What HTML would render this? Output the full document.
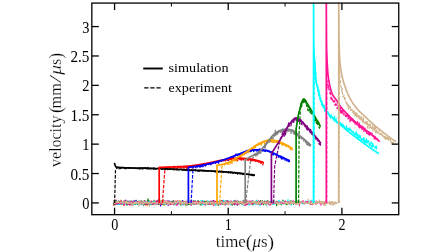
<!DOCTYPE html>
<html><head><meta charset="utf-8"><style>
html,body{margin:0;padding:0;background:#fff;overflow:hidden}
svg{display:block}
text{font-family:"Liberation Serif","DejaVu Serif",serif;fill:#000}
.al{stroke:#fff;stroke-width:0.2px}
</style></head><body>
<svg width="448" height="252" viewBox="0 0 448 252">
<rect width="448" height="252" fill="#fff"/>
<defs><clipPath id="ax"><rect x="91.83" y="3.07" width="306.91" height="211.61"/></clipPath></defs>
<g clip-path="url(#ax)">
<polyline points="113.6,200.7 113.9,205.3 114.2,202.3 114.5,203.3 114.8,203.2 115.1,202.9 115.3,204.7 115.6,203.0 115.9,203.6 116.2,199.4 116.5,202.5 116.8,203.1 117.0,203.0 117.3,203.4 117.6,203.8 117.9,203.1 118.2,202.2 118.5,203.0 118.8,201.8 119.0,202.9 119.3,202.7 119.6,201.2 119.9,202.2 120.2,203.2 120.5,202.9 120.7,202.2 121.0,200.8 121.3,203.0 121.6,203.0 121.9,201.7 122.2,203.6 122.5,203.0 122.7,201.8 123.0,202.1 123.3,202.6 123.6,202.1 123.9,205.5 124.2,201.7 124.4,203.7 124.7,204.4 125.0,202.4 125.3,202.0 125.6,203.2 125.9,203.8 126.1,202.7 126.4,202.8 126.7,201.3 127.0,202.0 127.3,202.5 127.6,201.6 127.9,202.9 128.1,203.6 128.4,202.1 128.7,202.1 129.0,202.9 129.3,203.5 129.6,202.5 129.8,205.2 130.1,202.0 130.4,202.2 130.7,204.4 131.0,202.7 131.3,203.7 131.6,202.0 131.8,204.8 132.1,203.6 132.4,202.0 132.7,201.6 133.0,204.9 133.3,203.2 133.5,202.4 133.8,203.3 134.1,201.1 134.4,203.9 134.7,202.4 135.0,203.8 135.3,201.3 135.5,202.7 135.8,203.1 136.1,204.4 136.4,201.0 136.7,202.0 137.0,202.0 137.2,201.6 137.5,202.4 137.8,203.4 138.1,203.5 138.4,203.5 138.7,201.4 139.0,204.2 139.2,203.3 139.5,203.0 139.8,202.5 140.1,202.2 140.4,204.0 140.7,204.4 140.9,202.7 141.2,201.5 141.5,202.0 141.8,202.5 142.1,203.0 142.4,202.4 142.7,203.0 142.9,201.9 143.2,203.5 143.5,202.6 143.8,202.8 144.1,202.2 144.4,202.5 144.6,200.2 144.9,201.2 145.2,201.2 145.5,204.8 145.8,203.1 146.1,203.3 146.3,202.2 146.6,205.0 146.9,201.6 147.2,201.7 147.5,204.0 147.8,203.7 148.1,203.5 148.3,202.7 148.6,202.1 148.9,200.7 149.2,202.9 149.5,202.0 149.8,202.6 150.0,201.0 150.3,202.0 150.6,201.4 150.9,203.8 151.2,202.9 151.5,203.5 151.8,201.2 152.0,202.1 152.3,203.0 152.6,203.2 152.9,202.2 153.2,203.4 153.5,203.7 153.7,202.2 154.0,200.3 154.3,203.0 154.6,203.3 154.9,203.9 155.2,204.1 155.5,202.2 155.7,201.9 156.0,202.7 156.3,202.4 156.6,202.6 156.9,202.6 157.2,204.2 157.4,203.2 157.7,202.6 158.0,203.5 158.3,203.2 158.6,203.5 158.9,203.1 159.2,201.9 159.4,203.1 159.7,202.9 160.0,201.9 160.3,202.1 160.6,201.0 160.9,204.8 161.1,201.9 161.4,203.2 161.7,202.6 162.0,201.9 162.3,201.6" fill="none" stroke="#ff0000" stroke-width="1.2" stroke-dasharray="2.4,1.4" stroke-linejoin="round"/>
<polyline points="113.6,201.7 113.9,202.6 114.2,201.1 114.5,203.0 114.8,202.9 115.1,201.9 115.3,203.3 115.6,200.6 115.9,201.7 116.2,200.6 116.5,202.8 116.8,203.1 117.0,202.6 117.3,202.0 117.6,203.3 117.9,202.3 118.2,202.7 118.5,201.1 118.8,203.4 119.0,201.7 119.3,203.4 119.6,203.7 119.9,203.4 120.2,203.9 120.5,202.6 120.7,201.7 121.0,202.6 121.3,202.1 121.6,201.1 121.9,202.5 122.2,202.5 122.5,203.0 122.7,204.3 123.0,202.0 123.3,204.5 123.6,202.1 123.9,202.7 124.2,201.6 124.4,202.8 124.7,203.5 125.0,202.4 125.3,203.3 125.6,202.9 125.9,202.7 126.1,202.9 126.4,202.9 126.7,203.6 127.0,202.9 127.3,204.9 127.6,202.9 127.9,203.9 128.1,201.6 128.4,201.5 128.7,204.7 129.0,202.6 129.3,202.9 129.6,203.8 129.8,202.2 130.1,203.2 130.4,204.5 130.7,203.0 131.0,202.9 131.3,202.6 131.6,204.0 131.8,202.1 132.1,202.0 132.4,203.9 132.7,203.4 133.0,202.8 133.3,203.3 133.5,201.0 133.8,202.5 134.1,203.7 134.4,203.5 134.7,202.8 135.0,200.4 135.3,202.9 135.5,202.6 135.8,202.2 136.1,202.8 136.4,200.4 136.7,203.3 137.0,202.0 137.2,202.6 137.5,202.1 137.8,203.9 138.1,201.0 138.4,202.8 138.7,202.7 139.0,203.7 139.2,203.5 139.5,202.2 139.8,201.7 140.1,202.0 140.4,201.5 140.7,202.0 140.9,202.7 141.2,201.9 141.5,202.1 141.8,202.8 142.1,202.0 142.4,201.4 142.7,202.5 142.9,203.1 143.2,202.0 143.5,200.8 143.8,202.9 144.1,202.8 144.4,202.9 144.6,201.5 144.9,204.6 145.2,202.4 145.5,201.5 145.8,203.5 146.1,201.2 146.3,202.2 146.6,203.3 146.9,202.5 147.2,204.3 147.5,203.3 147.8,200.9 148.1,203.6 148.3,200.9 148.6,202.8 148.9,201.7 149.2,202.7 149.5,205.0 149.8,203.3 150.0,202.5 150.3,203.9 150.6,204.1 150.9,202.4 151.2,203.4 151.5,204.4 151.8,203.4 152.0,201.9 152.3,203.2 152.6,201.8 152.9,201.2 153.2,202.7 153.5,203.9 153.7,204.0 154.0,202.8 154.3,201.8 154.6,202.5 154.9,202.2 155.2,203.2 155.5,202.4 155.7,203.2 156.0,203.0 156.3,204.0 156.6,204.3 156.9,203.2 157.2,203.8 157.4,203.7 157.7,202.1 158.0,202.8 158.3,199.8 158.6,201.8 158.9,203.4 159.2,201.9 159.4,202.4 159.7,203.4 160.0,201.6 160.3,203.5 160.6,205.8 160.9,201.9 161.1,203.3 161.4,201.2 161.7,203.4 162.0,203.9 162.3,201.2 162.6,203.8 162.8,202.5 163.1,201.3 163.4,202.6 163.7,202.8 164.0,202.6 164.3,201.9 164.6,203.5 164.8,202.1 165.1,202.1 165.4,200.4 165.7,203.1 166.0,203.6 166.3,202.0 166.5,203.1 166.8,202.4 167.1,202.6 167.4,201.6 167.7,203.4 168.0,202.8 168.3,205.3 168.5,203.6 168.8,201.2 169.1,203.4 169.4,203.4 169.7,203.9 170.0,202.1 170.2,202.5 170.5,203.9 170.8,202.1 171.1,202.5 171.4,202.0 171.7,203.4 172.0,201.0 172.2,202.3 172.5,202.8 172.8,203.2 173.1,203.0 173.4,201.9 173.7,203.0 173.9,201.6 174.2,202.1 174.5,201.4 174.8,201.9 175.1,202.8 175.4,204.6 175.7,202.4 175.9,201.9 176.2,202.6 176.5,202.2 176.8,203.2 177.1,203.1 177.4,203.7 177.6,201.4 177.9,202.6 178.2,203.2 178.5,204.1 178.8,202.9 179.1,201.3 179.4,202.3 179.6,203.4 179.9,201.3 180.2,201.3 180.5,201.7 180.8,201.9 181.1,201.6 181.3,202.2 181.6,202.0 181.9,203.5 182.2,201.2 182.5,202.5 182.8,200.7 183.0,204.8 183.3,202.0 183.6,201.7 183.9,203.1 184.2,202.3 184.5,202.0 184.8,202.1 185.0,203.3 185.3,202.9 185.6,201.7 185.9,201.5 186.2,202.6 186.5,202.6 186.7,202.5 187.0,201.7 187.3,203.8 187.6,204.0 187.9,202.6 188.2,203.8 188.5,203.3 188.7,202.6 189.0,202.2 189.3,203.8 189.6,201.9 189.9,204.5 190.2,202.2 190.4,204.3 190.7,204.0 191.0,202.1" fill="none" stroke="#0000ff" stroke-width="1.2" stroke-dasharray="2.4,1.4" stroke-linejoin="round"/>
<polyline points="113.6,203.1 113.9,203.5 114.2,203.2 114.5,202.3 114.8,202.8 115.1,202.8 115.3,201.7 115.6,203.4 115.9,203.2 116.2,203.2 116.5,201.6 116.8,201.7 117.0,201.4 117.3,202.8 117.6,202.9 117.9,201.9 118.2,203.1 118.5,201.9 118.8,202.0 119.0,203.4 119.3,202.8 119.6,202.8 119.9,201.0 120.2,200.1 120.5,202.8 120.7,202.7 121.0,205.0 121.3,202.5 121.6,202.7 121.9,203.8 122.2,201.9 122.5,204.3 122.7,202.9 123.0,202.6 123.3,204.0 123.6,201.9 123.9,201.7 124.2,204.1 124.4,204.1 124.7,202.1 125.0,202.8 125.3,203.9 125.6,203.0 125.9,202.8 126.1,202.9 126.4,201.9 126.7,202.3 127.0,201.0 127.3,201.4 127.6,202.0 127.9,201.6 128.1,201.4 128.4,202.0 128.7,203.9 129.0,201.9 129.3,202.7 129.6,201.1 129.8,202.6 130.1,202.2 130.4,202.4 130.7,201.0 131.0,202.5 131.3,203.0 131.6,202.4 131.8,203.2 132.1,202.6 132.4,202.7 132.7,202.5 133.0,200.8 133.3,203.1 133.5,202.7 133.8,202.9 134.1,202.1 134.4,203.9 134.7,203.4 135.0,202.8 135.3,202.2 135.5,202.8 135.8,203.2 136.1,203.6 136.4,202.2 136.7,201.3 137.0,202.4 137.2,202.5 137.5,202.3 137.8,203.7 138.1,203.0 138.4,203.0 138.7,202.4 139.0,202.8 139.2,203.9 139.5,201.6 139.8,201.0 140.1,203.0 140.4,202.3 140.7,202.5 140.9,201.9 141.2,204.2 141.5,201.1 141.8,203.2 142.1,201.5 142.4,202.6 142.7,203.1 142.9,202.9 143.2,201.8 143.5,203.6 143.8,203.1 144.1,203.2 144.4,204.4 144.6,201.4 144.9,202.1 145.2,202.7 145.5,201.6 145.8,203.7 146.1,202.8 146.3,201.0 146.6,201.7 146.9,204.9 147.2,206.0 147.5,203.8 147.8,201.7 148.1,203.2 148.3,202.9 148.6,202.1 148.9,203.6 149.2,202.5 149.5,201.9 149.8,202.3 150.0,202.3 150.3,203.3 150.6,202.2 150.9,203.2 151.2,201.4 151.5,200.2 151.8,203.5 152.0,204.9 152.3,203.1 152.6,202.3 152.9,201.7 153.2,201.6 153.5,203.5 153.7,203.5 154.0,201.5 154.3,203.8 154.6,201.6 154.9,203.0 155.2,202.0 155.5,202.0 155.7,201.9 156.0,201.9 156.3,203.7 156.6,202.4 156.9,202.7 157.2,202.4 157.4,201.5 157.7,203.0 158.0,203.4 158.3,203.5 158.6,203.0 158.9,202.0 159.2,203.5 159.4,201.6 159.7,202.4 160.0,202.9 160.3,204.1 160.6,202.5 160.9,202.0 161.1,204.5 161.4,201.5 161.7,201.1 162.0,202.4 162.3,202.2 162.6,200.3 162.8,201.5 163.1,203.6 163.4,202.7 163.7,202.9 164.0,202.9 164.3,205.1 164.6,202.0 164.8,203.4 165.1,202.6 165.4,202.9 165.7,201.9 166.0,203.0 166.3,203.5 166.5,202.2 166.8,201.3 167.1,203.0 167.4,201.4 167.7,202.5 168.0,203.3 168.3,201.2 168.5,203.5 168.8,201.7 169.1,203.2 169.4,202.3 169.7,204.0 170.0,203.6 170.2,201.7 170.5,202.5 170.8,202.7 171.1,203.2 171.4,202.3 171.7,204.1 172.0,203.8 172.2,202.9 172.5,203.6 172.8,203.4 173.1,202.8 173.4,202.9 173.7,202.9 173.9,201.1 174.2,201.7 174.5,201.5 174.8,202.8 175.1,203.2 175.4,204.2 175.7,203.1 175.9,204.8 176.2,203.3 176.5,202.0 176.8,201.1 177.1,201.8 177.4,203.6 177.6,202.2 177.9,203.5 178.2,201.9 178.5,202.8 178.8,201.9 179.1,200.2 179.4,201.8 179.6,200.4 179.9,202.5 180.2,203.1 180.5,201.4 180.8,201.0 181.1,203.3 181.3,202.6 181.6,204.2 181.9,202.9 182.2,201.8 182.5,202.8 182.8,203.3 183.0,204.1 183.3,202.4 183.6,201.9 183.9,202.1 184.2,202.5 184.5,204.0 184.8,201.0 185.0,202.8 185.3,202.9 185.6,202.0 185.9,204.9 186.2,202.8 186.5,202.9 186.7,202.4 187.0,201.4 187.3,202.3 187.6,204.6 187.9,203.1 188.2,202.5 188.5,202.6 188.7,204.0 189.0,204.4 189.3,202.2 189.6,202.4 189.9,202.7 190.2,204.4 190.4,201.0 190.7,205.6 191.0,203.1 191.3,200.6 191.6,202.9 191.9,202.5 192.2,203.9 192.4,201.4 192.7,204.0 193.0,202.5 193.3,202.6 193.6,203.8 193.9,201.8 194.1,204.1 194.4,203.4 194.7,202.8 195.0,203.1 195.3,202.3 195.6,201.8 195.9,203.0 196.1,203.3 196.4,203.2 196.7,203.1 197.0,201.9 197.3,202.9 197.6,202.3 197.8,202.8 198.1,203.6 198.4,201.9 198.7,203.8 199.0,202.7 199.3,201.2 199.6,203.8 199.8,202.8 200.1,204.3 200.4,203.2 200.7,204.2 201.0,203.1 201.3,203.3 201.5,202.6 201.8,201.1 202.1,202.4 202.4,202.1 202.7,202.8 203.0,203.0 203.2,203.6 203.5,204.5 203.8,202.7 204.1,201.1 204.4,202.2 204.7,203.3 205.0,201.1 205.2,203.2 205.5,203.3 205.8,203.9 206.1,203.7 206.4,203.0 206.7,200.7 206.9,202.9 207.2,203.8 207.5,203.3 207.8,202.9 208.1,204.4 208.4,202.6 208.7,202.0 208.9,202.4 209.2,202.1 209.5,204.0 209.8,204.4 210.1,201.4 210.4,201.6 210.6,204.3 210.9,202.5 211.2,202.7 211.5,202.2 211.8,202.5 212.1,203.2 212.4,202.5 212.6,202.6 212.9,202.8 213.2,204.6 213.5,205.7 213.8,203.5 214.1,204.4 214.3,202.5 214.6,202.0 214.9,202.5 215.2,203.1 215.5,202.7 215.8,201.6 216.1,203.5 216.3,201.8 216.6,202.0 216.9,202.5 217.2,201.3 217.5,203.4 217.8,201.8 218.0,203.7 218.3,203.5 218.6,203.8 218.9,202.3 219.2,203.7 219.5,202.7" fill="none" stroke="#ffa500" stroke-width="1.2" stroke-dasharray="2.4,1.4" stroke-linejoin="round"/>
<polyline points="113.6,203.9 113.9,201.7 114.2,200.9 114.5,202.5 114.8,201.1 115.1,202.2 115.3,200.6 115.6,202.6 115.9,204.3 116.2,201.2 116.5,202.9 116.8,203.8 117.0,203.4 117.3,204.3 117.6,202.9 117.9,203.8 118.2,201.2 118.5,202.1 118.8,204.4 119.0,204.2 119.3,203.3 119.6,204.6 119.9,202.8 120.2,202.8 120.5,203.5 120.7,203.3 121.0,202.2 121.3,201.3 121.6,201.2 121.9,202.7 122.2,201.9 122.5,203.5 122.7,202.3 123.0,203.7 123.3,202.0 123.6,204.0 123.9,203.7 124.2,202.7 124.4,202.2 124.7,204.2 125.0,203.3 125.3,202.6 125.6,202.5 125.9,203.6 126.1,202.6 126.4,203.0 126.7,201.3 127.0,202.2 127.3,204.0 127.6,204.9 127.9,202.6 128.1,201.5 128.4,202.6 128.7,201.8 129.0,203.2 129.3,204.1 129.6,202.0 129.8,202.6 130.1,202.0 130.4,204.1 130.7,202.5 131.0,203.3 131.3,201.9 131.6,203.3 131.8,203.3 132.1,203.3 132.4,201.5 132.7,202.7 133.0,203.5 133.3,203.7 133.5,203.8 133.8,201.3 134.1,204.5 134.4,203.6 134.7,202.1 135.0,201.5 135.3,202.9 135.5,201.9 135.8,202.0 136.1,201.7 136.4,202.7 136.7,201.1 137.0,202.5 137.2,201.2 137.5,203.8 137.8,201.8 138.1,204.0 138.4,204.2 138.7,202.2 139.0,203.5 139.2,202.2 139.5,203.8 139.8,201.1 140.1,202.7 140.4,203.8 140.7,202.5 140.9,201.8 141.2,203.4 141.5,202.2 141.8,200.6 142.1,201.8 142.4,202.7 142.7,203.2 142.9,202.1 143.2,204.2 143.5,205.7 143.8,203.3 144.1,203.7 144.4,200.9 144.6,202.5 144.9,203.6 145.2,203.8 145.5,202.2 145.8,203.5 146.1,203.2 146.3,202.8 146.6,202.6 146.9,202.6 147.2,202.5 147.5,201.4 147.8,201.0 148.1,204.3 148.3,200.1 148.6,202.5 148.9,201.4 149.2,203.4 149.5,202.3 149.8,202.4 150.0,202.5 150.3,201.8 150.6,202.0 150.9,203.7 151.2,202.8 151.5,201.9 151.8,202.0 152.0,203.0 152.3,202.9 152.6,202.8 152.9,203.8 153.2,203.9 153.5,201.1 153.7,203.0 154.0,202.6 154.3,203.4 154.6,201.4 154.9,200.9 155.2,202.9 155.5,202.1 155.7,203.4 156.0,200.9 156.3,201.7 156.6,203.5 156.9,201.4 157.2,202.3 157.4,202.2 157.7,202.3 158.0,203.3 158.3,203.2 158.6,202.0 158.9,202.7 159.2,203.6 159.4,200.6 159.7,202.9 160.0,203.2 160.3,203.3 160.6,202.0 160.9,201.7 161.1,202.4 161.4,201.8 161.7,204.2 162.0,203.0 162.3,203.1 162.6,202.7 162.8,202.2 163.1,204.7 163.4,199.5 163.7,203.5 164.0,202.3 164.3,201.8 164.6,201.8 164.8,202.4 165.1,205.6 165.4,203.8 165.7,201.9 166.0,203.6 166.3,203.7 166.5,205.0 166.8,201.5 167.1,202.2 167.4,203.6 167.7,202.8 168.0,202.8 168.3,203.8 168.5,203.0 168.8,202.4 169.1,202.1 169.4,201.4 169.7,202.7 170.0,203.2 170.2,202.3 170.5,203.3 170.8,203.9 171.1,201.6 171.4,203.1 171.7,202.6 172.0,202.1 172.2,203.8 172.5,202.1 172.8,202.3 173.1,202.8 173.4,202.3 173.7,203.5 173.9,204.9 174.2,203.0 174.5,203.6 174.8,201.8 175.1,202.4 175.4,203.2 175.7,202.7 175.9,201.4 176.2,201.6 176.5,202.3 176.8,202.3 177.1,203.0 177.4,202.8 177.6,202.1 177.9,202.8 178.2,202.4 178.5,203.8 178.8,204.4 179.1,204.4 179.4,203.1 179.6,201.4 179.9,201.5 180.2,203.7 180.5,204.3 180.8,201.9 181.1,202.2 181.3,204.1 181.6,201.7 181.9,202.5 182.2,201.4 182.5,202.4 182.8,201.8 183.0,202.4 183.3,203.7 183.6,202.9 183.9,203.4 184.2,201.9 184.5,203.7 184.8,204.2 185.0,202.0 185.3,201.6 185.6,201.3 185.9,201.6 186.2,204.2 186.5,203.4 186.7,203.3 187.0,202.7 187.3,204.9 187.6,202.7 187.9,202.4 188.2,203.7 188.5,202.6 188.7,201.5 189.0,202.7 189.3,201.7 189.6,201.7 189.9,202.3 190.2,202.3 190.4,203.1 190.7,201.5 191.0,203.2 191.3,203.4 191.6,202.0 191.9,203.4 192.2,202.3 192.4,201.7 192.7,202.6 193.0,202.6 193.3,201.8 193.6,202.0 193.9,204.2 194.1,204.0 194.4,201.4 194.7,202.3 195.0,204.8 195.3,204.1 195.6,202.7 195.9,203.7 196.1,202.2 196.4,202.6 196.7,202.2 197.0,203.9 197.3,202.1 197.6,200.8 197.8,203.5 198.1,201.4 198.4,201.7 198.7,202.1 199.0,202.8 199.3,203.9 199.6,203.6 199.8,201.9 200.1,201.7 200.4,201.5 200.7,201.7 201.0,201.8 201.3,203.1 201.5,203.9 201.8,202.5 202.1,202.2 202.4,202.6 202.7,204.2 203.0,203.2 203.2,204.2 203.5,202.6 203.8,203.7 204.1,202.9 204.4,202.4 204.7,202.6 205.0,201.3 205.2,203.8 205.5,204.9 205.8,201.8 206.1,201.3 206.4,201.3 206.7,202.4 206.9,202.2 207.2,202.6 207.5,204.0 207.8,203.3 208.1,202.2 208.4,203.3 208.7,200.8 208.9,204.2 209.2,203.1 209.5,201.6 209.8,203.3 210.1,203.8 210.4,204.0 210.6,203.4 210.9,201.2 211.2,202.3 211.5,202.2 211.8,203.2 212.1,201.9 212.4,202.6 212.6,203.6 212.9,203.1 213.2,202.5 213.5,201.5 213.8,202.7 214.1,202.2 214.3,200.7 214.6,203.5 214.9,203.9 215.2,201.7 215.5,202.3 215.8,202.8 216.1,202.4 216.3,203.0 216.6,202.2 216.9,203.0 217.2,201.9 217.5,203.9 217.8,203.5 218.0,202.6 218.3,203.2 218.6,202.0 218.9,202.7 219.2,203.2 219.5,202.5 219.7,203.2 220.0,204.2 220.3,203.8 220.6,203.5 220.9,203.2 221.2,202.6 221.5,201.8 221.7,202.1 222.0,200.9 222.3,201.4 222.6,202.9 222.9,201.0 223.2,201.5 223.4,203.1 223.7,202.4 224.0,201.6 224.3,202.4 224.6,201.7 224.9,202.3 225.2,202.0 225.4,203.0 225.7,202.3 226.0,203.0 226.3,202.0 226.6,204.4 226.9,202.3 227.1,201.4 227.4,202.1 227.7,202.7 228.0,202.1 228.3,203.5 228.6,203.5 228.9,203.0 229.1,202.8 229.4,201.7 229.7,203.6 230.0,201.7 230.3,204.2 230.6,203.5 230.8,202.7 231.1,201.5 231.4,203.3 231.7,204.8 232.0,202.3 232.3,202.7 232.6,203.8 232.8,203.7 233.1,203.4 233.4,202.6 233.7,202.0 234.0,204.2 234.3,200.4 234.5,202.7 234.8,203.1 235.1,202.0 235.4,202.6 235.7,200.3 236.0,201.6 236.3,203.0 236.5,203.1 236.8,203.2 237.1,203.0 237.4,202.0 237.7,203.3 238.0,201.1 238.2,202.8 238.5,202.8 238.8,201.7 239.1,204.7 239.4,203.6 239.7,202.1 239.9,202.7 240.2,202.7 240.5,202.3 240.8,203.3 241.1,202.9 241.4,204.0 241.7,204.6 241.9,201.4 242.2,203.6 242.5,203.4 242.8,201.3 243.1,201.6 243.4,203.2 243.6,203.2 243.9,202.8 244.2,203.6 244.5,202.1 244.8,202.5 245.1,202.6 245.4,201.9" fill="none" stroke="#808080" stroke-width="1.2" stroke-dasharray="2.4,1.4" stroke-linejoin="round"/>
<polyline points="113.6,202.0 113.9,200.8 114.2,201.2 114.5,204.4 114.8,201.8 115.1,203.8 115.3,204.1 115.6,202.0 115.9,203.4 116.2,203.0 116.5,201.6 116.8,203.3 117.0,203.6 117.3,202.4 117.6,201.5 117.9,202.2 118.2,204.2 118.5,203.3 118.8,202.8 119.0,200.8 119.3,201.8 119.6,201.8 119.9,201.5 120.2,203.0 120.5,202.2 120.7,202.2 121.0,203.7 121.3,202.7 121.6,202.1 121.9,203.8 122.2,201.9 122.5,201.9 122.7,201.7 123.0,203.5 123.3,202.6 123.6,201.2 123.9,201.9 124.2,203.5 124.4,202.5 124.7,201.3 125.0,202.8 125.3,202.3 125.6,200.1 125.9,202.7 126.1,202.8 126.4,203.7 126.7,203.3 127.0,201.2 127.3,202.8 127.6,203.9 127.9,203.6 128.1,202.7 128.4,201.9 128.7,203.4 129.0,202.0 129.3,203.2 129.6,202.3 129.8,202.2 130.1,202.1 130.4,203.1 130.7,202.9 131.0,202.2 131.3,204.0 131.6,202.5 131.8,202.2 132.1,201.7 132.4,202.7 132.7,202.9 133.0,202.6 133.3,203.4 133.5,202.9 133.8,202.3 134.1,202.4 134.4,203.8 134.7,203.0 135.0,204.8 135.3,201.9 135.5,203.3 135.8,202.5 136.1,203.8 136.4,202.8 136.7,202.3 137.0,201.8 137.2,204.1 137.5,201.9 137.8,202.9 138.1,203.5 138.4,202.3 138.7,203.0 139.0,203.0 139.2,203.4 139.5,202.5 139.8,202.7 140.1,202.9 140.4,203.7 140.7,203.3 140.9,202.3 141.2,201.5 141.5,202.8 141.8,201.3 142.1,202.8 142.4,203.8 142.7,202.1 142.9,203.7 143.2,202.3 143.5,201.7 143.8,203.1 144.1,202.8 144.4,200.3 144.6,202.5 144.9,202.5 145.2,202.0 145.5,202.8 145.8,202.8 146.1,202.4 146.3,205.1 146.6,201.3 146.9,203.8 147.2,203.8 147.5,202.2 147.8,202.7 148.1,204.0 148.3,202.5 148.6,203.9 148.9,203.4 149.2,204.2 149.5,203.6 149.8,202.3 150.0,202.6 150.3,202.4 150.6,201.8 150.9,202.8 151.2,203.4 151.5,203.0 151.8,201.1 152.0,202.7 152.3,202.4 152.6,202.8 152.9,202.5 153.2,202.3 153.5,202.8 153.7,202.9 154.0,203.5 154.3,203.6 154.6,202.3 154.9,202.0 155.2,201.8 155.5,202.7 155.7,203.6 156.0,202.1 156.3,202.1 156.6,204.2 156.9,201.9 157.2,202.2 157.4,201.1 157.7,203.9 158.0,204.0 158.3,202.0 158.6,204.5 158.9,203.5 159.2,203.8 159.4,203.7 159.7,204.6 160.0,203.0 160.3,201.8 160.6,202.3 160.9,202.3 161.1,203.1 161.4,201.3 161.7,202.2 162.0,201.7 162.3,204.3 162.6,202.4 162.8,203.9 163.1,202.4 163.4,202.5 163.7,203.9 164.0,202.6 164.3,201.6 164.6,202.2 164.8,202.1 165.1,203.6 165.4,203.4 165.7,203.8 166.0,202.6 166.3,201.5 166.5,202.3 166.8,202.7 167.1,203.8 167.4,202.3 167.7,203.0 168.0,204.6 168.3,204.4 168.5,203.1 168.8,203.6 169.1,201.1 169.4,202.7 169.7,203.8 170.0,203.2 170.2,201.1 170.5,203.7 170.8,202.0 171.1,202.3 171.4,201.3 171.7,202.2 172.0,203.1 172.2,202.2 172.5,202.7 172.8,201.8 173.1,202.8 173.4,200.8 173.7,202.8 173.9,202.3 174.2,203.4 174.5,202.6 174.8,202.7 175.1,202.5 175.4,201.8 175.7,203.2 175.9,203.6 176.2,201.6 176.5,203.0 176.8,203.4 177.1,201.6 177.4,201.9 177.6,205.3 177.9,203.1 178.2,201.9 178.5,201.9 178.8,203.2 179.1,201.2 179.4,203.5 179.6,202.9 179.9,202.6 180.2,202.7 180.5,201.9 180.8,201.7 181.1,202.7 181.3,201.3 181.6,203.4 181.9,202.9 182.2,201.0 182.5,202.6 182.8,201.6 183.0,203.1 183.3,203.0 183.6,202.8 183.9,202.5 184.2,203.0 184.5,202.7 184.8,202.0 185.0,201.5 185.3,202.6 185.6,202.0 185.9,201.8 186.2,203.8 186.5,204.3 186.7,201.1 187.0,201.4 187.3,202.6 187.6,202.3 187.9,203.6 188.2,204.1 188.5,202.4 188.7,204.2 189.0,201.8 189.3,203.4 189.6,202.4 189.9,200.8 190.2,200.8 190.4,203.0 190.7,201.6 191.0,203.7 191.3,203.3 191.6,202.3 191.9,201.3 192.2,203.3 192.4,202.2 192.7,202.6 193.0,203.9 193.3,202.8 193.6,201.2 193.9,202.8 194.1,202.2 194.4,201.9 194.7,203.4 195.0,201.5 195.3,201.2 195.6,201.1 195.9,201.4 196.1,203.2 196.4,203.3 196.7,203.5 197.0,203.6 197.3,203.5 197.6,201.7 197.8,201.2 198.1,203.3 198.4,201.9 198.7,204.0 199.0,203.0 199.3,203.7 199.6,204.3 199.8,202.7 200.1,202.6 200.4,203.1 200.7,203.2 201.0,203.7 201.3,202.8 201.5,203.3 201.8,202.5 202.1,203.9 202.4,202.5 202.7,202.2 203.0,201.5 203.2,201.7 203.5,202.5 203.8,203.4 204.1,204.5 204.4,202.7 204.7,201.3 205.0,201.1 205.2,205.2 205.5,203.5 205.8,203.1 206.1,203.8 206.4,202.5 206.7,202.7 206.9,203.2 207.2,202.8 207.5,204.3 207.8,203.7 208.1,203.6 208.4,201.8 208.7,204.3 208.9,202.9 209.2,201.9 209.5,202.8 209.8,201.9 210.1,203.4 210.4,202.3 210.6,201.8 210.9,200.5 211.2,202.0 211.5,201.3 211.8,202.7 212.1,202.6 212.4,201.2 212.6,202.1 212.9,201.3 213.2,202.0 213.5,200.6 213.8,200.3 214.1,203.5 214.3,200.9 214.6,202.3 214.9,202.2 215.2,202.8 215.5,202.0 215.8,203.8 216.1,203.4 216.3,203.5 216.6,202.4 216.9,201.8 217.2,202.0 217.5,202.3 217.8,203.3 218.0,204.5 218.3,202.3 218.6,202.6 218.9,202.3 219.2,201.3 219.5,202.9 219.7,202.9 220.0,205.0 220.3,202.1 220.6,202.7 220.9,203.4 221.2,202.3 221.5,203.7 221.7,203.2 222.0,200.7 222.3,201.9 222.6,201.8 222.9,201.9 223.2,202.1 223.4,202.5 223.7,200.4 224.0,202.8 224.3,202.0 224.6,202.9 224.9,203.0 225.2,205.1 225.4,204.6 225.7,201.2 226.0,201.2 226.3,203.1 226.6,202.7 226.9,202.1 227.1,203.7 227.4,200.9 227.7,203.7 228.0,203.4 228.3,205.5 228.6,201.2 228.9,202.6 229.1,201.1 229.4,203.7 229.7,202.4 230.0,202.6 230.3,202.5 230.6,200.6 230.8,200.4 231.1,201.3 231.4,203.1 231.7,201.8 232.0,201.4 232.3,202.2 232.6,202.1 232.8,202.2 233.1,203.6 233.4,202.5 233.7,201.1 234.0,203.7 234.3,202.6 234.5,201.9 234.8,204.1 235.1,202.9 235.4,204.4 235.7,203.3 236.0,204.1 236.3,203.6 236.5,203.2 236.8,203.0 237.1,202.9 237.4,205.1 237.7,201.1 238.0,203.0 238.2,203.8 238.5,203.3 238.8,202.4 239.1,203.7 239.4,203.1 239.7,203.2 239.9,202.2 240.2,203.5 240.5,202.3 240.8,202.4 241.1,202.9 241.4,201.5 241.7,202.7 241.9,203.9 242.2,202.4 242.5,202.6 242.8,202.8 243.1,202.5 243.4,200.4 243.6,202.5 243.9,202.3 244.2,203.0 244.5,201.4 244.8,202.8 245.1,203.5 245.4,203.9 245.6,202.2 245.9,202.0 246.2,204.3 246.5,203.4 246.8,202.1 247.1,201.7 247.3,204.0 247.6,203.1 247.9,201.9 248.2,203.3 248.5,203.2 248.8,203.3 249.1,204.0 249.3,202.7 249.6,202.4 249.9,204.1 250.2,202.6 250.5,201.6 250.8,202.5 251.0,201.8 251.3,203.3 251.6,201.4 251.9,203.5 252.2,200.8 252.5,203.2 252.8,203.4 253.0,203.6 253.3,203.1 253.6,203.2 253.9,203.4 254.2,203.1 254.5,202.1 254.7,201.8 255.0,203.1 255.3,201.5 255.6,203.7 255.9,203.8 256.2,203.9 256.5,202.1 256.7,204.3 257.0,204.1 257.3,201.5 257.6,201.0 257.9,201.4 258.2,204.2 258.4,202.7 258.7,201.9 259.0,202.6 259.3,204.3 259.6,203.1 259.9,204.4 260.1,204.0 260.4,200.6 260.7,202.1 261.0,204.2 261.3,204.2 261.6,202.3 261.9,203.3 262.1,202.2 262.4,203.4 262.7,202.9 263.0,202.5 263.3,203.8 263.6,204.6 263.8,203.9 264.1,203.4 264.4,202.9 264.7,202.8 265.0,202.8 265.3,202.2 265.6,203.6 265.8,201.3 266.1,200.7 266.4,202.4 266.7,202.6 267.0,201.5 267.3,202.1 267.5,202.6 267.8,202.9 268.1,203.5 268.4,203.9 268.7,202.1 269.0,201.6 269.3,203.8 269.5,202.8 269.8,202.5 270.1,203.2 270.4,203.5 270.7,203.1 271.0,204.7 271.2,202.8 271.5,203.0 271.8,200.6 272.1,201.8 272.4,203.1 272.7,202.7 273.0,201.0 273.2,201.1 273.5,202.6" fill="none" stroke="#800080" stroke-width="1.2" stroke-dasharray="2.4,1.4" stroke-linejoin="round"/>
<polyline points="113.6,202.9 113.9,204.2 114.2,203.1 114.5,202.9 114.8,203.5 115.1,201.0 115.3,204.6 115.6,202.9 115.9,202.3 116.2,202.3 116.5,201.1 116.8,204.1 117.0,203.5 117.3,202.6 117.6,202.6 117.9,203.1 118.2,203.5 118.5,201.7 118.8,203.8 119.0,203.3 119.3,201.3 119.6,201.0 119.9,201.9 120.2,203.6 120.5,203.6 120.7,203.6 121.0,203.9 121.3,203.2 121.6,201.5 121.9,202.5 122.2,203.5 122.5,203.5 122.7,203.9 123.0,201.5 123.3,204.8 123.6,202.5 123.9,204.2 124.2,203.8 124.4,204.2 124.7,201.8 125.0,202.8 125.3,200.0 125.6,203.8 125.9,203.8 126.1,202.2 126.4,202.2 126.7,203.0 127.0,204.8 127.3,201.3 127.6,202.2 127.9,202.4 128.1,203.4 128.4,202.1 128.7,203.3 129.0,202.7 129.3,203.0 129.6,201.5 129.8,203.2 130.1,203.1 130.4,201.7 130.7,202.5 131.0,202.8 131.3,203.0 131.6,201.8 131.8,203.4 132.1,202.3 132.4,200.8 132.7,202.4 133.0,203.6 133.3,204.0 133.5,202.6 133.8,204.0 134.1,204.4 134.4,203.5 134.7,203.9 135.0,201.9 135.3,204.2 135.5,201.2 135.8,203.5 136.1,202.7 136.4,202.1 136.7,202.6 137.0,202.1 137.2,203.8 137.5,205.1 137.8,203.0 138.1,204.5 138.4,203.4 138.7,201.9 139.0,203.0 139.2,203.4 139.5,203.9 139.8,203.1 140.1,203.0 140.4,204.4 140.7,202.5 140.9,203.9 141.2,202.6 141.5,203.3 141.8,201.8 142.1,202.0 142.4,202.8 142.7,202.9 142.9,202.4 143.2,201.4 143.5,201.7 143.8,202.6 144.1,202.5 144.4,201.2 144.6,204.4 144.9,202.2 145.2,203.7 145.5,201.4 145.8,203.3 146.1,202.9 146.3,203.9 146.6,202.7 146.9,202.0 147.2,201.1 147.5,204.0 147.8,203.2 148.1,198.8 148.3,201.8 148.6,202.7 148.9,202.2 149.2,205.4 149.5,201.1 149.8,202.6 150.0,204.2 150.3,201.6 150.6,203.4 150.9,203.8 151.2,202.2 151.5,202.3 151.8,203.2 152.0,202.8 152.3,204.1 152.6,204.2 152.9,201.8 153.2,201.4 153.5,202.3 153.7,202.4 154.0,203.1 154.3,202.9 154.6,203.7 154.9,201.0 155.2,203.3 155.5,202.3 155.7,202.7 156.0,204.1 156.3,200.8 156.6,203.1 156.9,203.5 157.2,202.6 157.4,203.6 157.7,202.7 158.0,203.7 158.3,202.2 158.6,202.7 158.9,204.1 159.2,201.7 159.4,202.5 159.7,203.8 160.0,202.4 160.3,202.3 160.6,200.9 160.9,203.6 161.1,201.9 161.4,202.8 161.7,202.1 162.0,203.0 162.3,202.8 162.6,202.2 162.8,203.9 163.1,204.8 163.4,202.7 163.7,203.2 164.0,202.6 164.3,202.1 164.6,202.9 164.8,201.5 165.1,202.7 165.4,202.6 165.7,201.9 166.0,202.1 166.3,202.8 166.5,202.6 166.8,203.5 167.1,203.3 167.4,202.6 167.7,201.9 168.0,203.1 168.3,201.9 168.5,200.7 168.8,200.5 169.1,202.7 169.4,201.6 169.7,202.1 170.0,201.9 170.2,201.8 170.5,202.2 170.8,201.9 171.1,202.5 171.4,202.9 171.7,202.4 172.0,202.2 172.2,201.4 172.5,202.3 172.8,201.9 173.1,201.2 173.4,203.6 173.7,202.9 173.9,202.1 174.2,202.6 174.5,203.7 174.8,201.7 175.1,202.7 175.4,203.7 175.7,200.8 175.9,204.0 176.2,202.7 176.5,203.3 176.8,202.6 177.1,202.1 177.4,203.5 177.6,202.8 177.9,202.8 178.2,203.7 178.5,201.5 178.8,202.5 179.1,203.0 179.4,203.3 179.6,203.0 179.9,202.5 180.2,203.1 180.5,201.4 180.8,205.2 181.1,204.8 181.3,202.9 181.6,204.5 181.9,202.7 182.2,203.3 182.5,202.1 182.8,202.3 183.0,201.4 183.3,201.8 183.6,201.4 183.9,202.2 184.2,201.6 184.5,202.2 184.8,203.3 185.0,203.9 185.3,203.9 185.6,202.2 185.9,205.1 186.2,202.5 186.5,203.4 186.7,201.9 187.0,202.5 187.3,203.4 187.6,202.7 187.9,205.0 188.2,202.4 188.5,202.2 188.7,204.5 189.0,201.8 189.3,202.8 189.6,202.5 189.9,204.1 190.2,202.1 190.4,202.1 190.7,202.7 191.0,203.7 191.3,201.9 191.6,201.4 191.9,202.3 192.2,201.7 192.4,203.3 192.7,202.5 193.0,202.3 193.3,202.5 193.6,199.8 193.9,202.2 194.1,203.2 194.4,201.8 194.7,203.7 195.0,202.3 195.3,201.9 195.6,203.1 195.9,203.0 196.1,203.6 196.4,202.5 196.7,203.3 197.0,200.9 197.3,202.0 197.6,202.9 197.8,204.0 198.1,200.6 198.4,201.3 198.7,202.2 199.0,202.4 199.3,202.5 199.6,203.1 199.8,200.7 200.1,202.4 200.4,204.1 200.7,203.3 201.0,205.2 201.3,202.0 201.5,201.9 201.8,200.9 202.1,200.5 202.4,203.4 202.7,202.2 203.0,201.6 203.2,201.8 203.5,203.1 203.8,201.8 204.1,202.1 204.4,201.3 204.7,202.7 205.0,202.9 205.2,203.1 205.5,203.0 205.8,203.4 206.1,203.0 206.4,202.1 206.7,202.2 206.9,201.3 207.2,201.5 207.5,202.0 207.8,203.8 208.1,202.1 208.4,201.5 208.7,203.9 208.9,203.8 209.2,203.6 209.5,203.7 209.8,202.9 210.1,203.6 210.4,202.3 210.6,203.9 210.9,202.8 211.2,203.2 211.5,203.6 211.8,201.6 212.1,202.6 212.4,202.1 212.6,203.0 212.9,202.0 213.2,202.1 213.5,202.8 213.8,204.4 214.1,201.8 214.3,202.0 214.6,202.5 214.9,202.4 215.2,202.5 215.5,202.5 215.8,203.7 216.1,202.7 216.3,202.3 216.6,203.3 216.9,203.6 217.2,200.8 217.5,202.1 217.8,203.0 218.0,203.2 218.3,205.3 218.6,204.1 218.9,202.9 219.2,201.4 219.5,204.7 219.7,203.4 220.0,200.8 220.3,202.0 220.6,202.3 220.9,201.5 221.2,202.8 221.5,202.8 221.7,202.0 222.0,201.8 222.3,203.7 222.6,201.1 222.9,204.4 223.2,203.4 223.4,199.6 223.7,203.2 224.0,202.0 224.3,203.7 224.6,203.0 224.9,203.4 225.2,203.1 225.4,202.0 225.7,200.9 226.0,201.8 226.3,201.1 226.6,203.2 226.9,201.2 227.1,202.1 227.4,201.3 227.7,203.1 228.0,202.9 228.3,201.3 228.6,202.1 228.9,202.6 229.1,203.3 229.4,202.8 229.7,202.2 230.0,202.0 230.3,203.2 230.6,203.0 230.8,202.2 231.1,203.8 231.4,201.7 231.7,202.7 232.0,202.8 232.3,205.1 232.6,204.3 232.8,203.7 233.1,203.3 233.4,203.8 233.7,202.3 234.0,202.6 234.3,203.0 234.5,204.8 234.8,201.3 235.1,203.0 235.4,202.1 235.7,203.4 236.0,202.7 236.3,202.0 236.5,202.5 236.8,201.8 237.1,202.9 237.4,200.7 237.7,204.6 238.0,203.3 238.2,201.8 238.5,203.0 238.8,203.2 239.1,204.5 239.4,201.5 239.7,204.6 239.9,202.2 240.2,202.5 240.5,201.9 240.8,201.3 241.1,203.4 241.4,203.5 241.7,203.1 241.9,204.5 242.2,201.9 242.5,203.1 242.8,202.6 243.1,203.9 243.4,202.7 243.6,203.4 243.9,202.8 244.2,203.8 244.5,201.7 244.8,203.4 245.1,205.3 245.4,202.1 245.6,203.1 245.9,203.6 246.2,200.3 246.5,202.8 246.8,204.1 247.1,203.4 247.3,202.4 247.6,203.0 247.9,201.5 248.2,201.7 248.5,203.6 248.8,202.7 249.1,202.1 249.3,203.2 249.6,203.2 249.9,201.9 250.2,202.3 250.5,204.2 250.8,203.3 251.0,203.2 251.3,202.9 251.6,203.5 251.9,201.4 252.2,203.7 252.5,203.8 252.8,202.6 253.0,205.0 253.3,203.8 253.6,202.1 253.9,204.1 254.2,203.6 254.5,201.7 254.7,202.3 255.0,202.7 255.3,202.5 255.6,203.4 255.9,202.5 256.2,203.0 256.5,200.3 256.7,202.2 257.0,203.1 257.3,202.8 257.6,202.7 257.9,204.1 258.2,203.6 258.4,201.2 258.7,204.2 259.0,203.3 259.3,201.7 259.6,201.2 259.9,203.8 260.1,201.3 260.4,203.1 260.7,201.1 261.0,202.2 261.3,203.0 261.6,202.0 261.9,202.2 262.1,203.5 262.4,200.6 262.7,203.1 263.0,201.6 263.3,203.2 263.6,204.6 263.8,203.9 264.1,202.8 264.4,202.1 264.7,201.0 265.0,202.7 265.3,203.0 265.6,204.0 265.8,202.8 266.1,202.4 266.4,204.9 266.7,201.4 267.0,201.6 267.3,200.5 267.5,203.6 267.8,202.7 268.1,202.7 268.4,204.1 268.7,203.6 269.0,203.7 269.3,202.2 269.5,202.3 269.8,201.4 270.1,203.1 270.4,204.1 270.7,202.3 271.0,202.4 271.2,202.1 271.5,201.5 271.8,203.3 272.1,201.9 272.4,203.7 272.7,202.6 273.0,202.1 273.2,202.9 273.5,202.5 273.8,204.1 274.1,203.4 274.4,202.6 274.7,203.9 274.9,203.6 275.2,200.3 275.5,202.5 275.8,203.6 276.1,203.8 276.4,201.4 276.6,205.6 276.9,203.1 277.2,202.2 277.5,203.4 277.8,202.3 278.1,203.9 278.4,202.8 278.6,202.8 278.9,202.8 279.2,202.7 279.5,202.8 279.8,201.7 280.1,203.1 280.3,203.4 280.6,203.1 280.9,203.2 281.2,204.4 281.5,204.8 281.8,204.2 282.1,202.6 282.3,203.5 282.6,203.3 282.9,200.0 283.2,201.7 283.5,203.1 283.8,203.5 284.0,201.5 284.3,203.6 284.6,201.6 284.9,202.3 285.2,201.5 285.5,203.6 285.8,202.0 286.0,204.7 286.3,203.0 286.6,201.8 286.9,202.2 287.2,204.7 287.5,202.2 287.7,202.4 288.0,202.9 288.3,203.6 288.6,203.1 288.9,203.4 289.2,201.9 289.5,202.4 289.7,201.8 290.0,202.2 290.3,204.1 290.6,202.7 290.9,200.7 291.2,204.0 291.4,202.6 291.7,203.6 292.0,203.8 292.3,202.7 292.6,201.9 292.9,202.1 293.2,202.4 293.4,201.9 293.7,204.5 294.0,202.0 294.3,202.5 294.6,203.0 294.9,202.9 295.1,203.7 295.4,201.7 295.7,203.6 296.0,204.3 296.3,202.9 296.6,203.4 296.8,202.9 297.1,201.4 297.4,203.0 297.7,202.7 298.0,200.6 298.3,204.3" fill="none" stroke="#008000" stroke-width="1.2" stroke-dasharray="2.4,1.4" stroke-linejoin="round"/>
<polyline points="113.6,202.5 113.9,201.7 114.2,201.3 114.5,200.6 114.8,203.5 115.1,202.3 115.3,203.0 115.6,203.3 115.9,203.6 116.2,204.3 116.5,202.5 116.8,202.1 117.0,203.9 117.3,202.1 117.6,203.4 117.9,203.9 118.2,205.5 118.5,201.7 118.8,202.1 119.0,203.2 119.3,203.2 119.6,204.2 119.9,202.3 120.2,202.9 120.5,202.3 120.7,202.7 121.0,204.3 121.3,204.4 121.6,202.4 121.9,204.5 122.2,202.6 122.5,201.9 122.7,204.1 123.0,202.2 123.3,202.8 123.6,202.3 123.9,203.5 124.2,202.8 124.4,202.4 124.7,201.0 125.0,202.1 125.3,202.3 125.6,204.1 125.9,202.5 126.1,203.5 126.4,202.9 126.7,202.5 127.0,201.8 127.3,202.2 127.6,202.6 127.9,202.8 128.1,201.4 128.4,203.7 128.7,202.7 129.0,201.4 129.3,203.0 129.6,201.9 129.8,201.9 130.1,200.8 130.4,201.6 130.7,204.4 131.0,202.8 131.3,202.5 131.6,201.9 131.8,202.4 132.1,200.9 132.4,201.7 132.7,204.0 133.0,203.4 133.3,204.9 133.5,201.1 133.8,202.9 134.1,202.9 134.4,204.4 134.7,203.3 135.0,202.4 135.3,203.2 135.5,203.2 135.8,203.5 136.1,200.9 136.4,203.4 136.7,204.3 137.0,203.4 137.2,203.2 137.5,203.0 137.8,203.1 138.1,204.0 138.4,203.1 138.7,202.5 139.0,204.3 139.2,200.9 139.5,201.2 139.8,204.7 140.1,203.3 140.4,201.9 140.7,201.6 140.9,201.1 141.2,204.8 141.5,204.0 141.8,203.4 142.1,202.4 142.4,204.0 142.7,202.5 142.9,202.4 143.2,202.2 143.5,204.2 143.8,202.7 144.1,202.8 144.4,203.3 144.6,201.6 144.9,203.2 145.2,201.4 145.5,203.5 145.8,201.1 146.1,201.2 146.3,203.7 146.6,202.5 146.9,202.5 147.2,203.8 147.5,202.1 147.8,202.2 148.1,203.7 148.3,202.7 148.6,201.9 148.9,203.0 149.2,203.5 149.5,201.2 149.8,203.8 150.0,202.5 150.3,201.7 150.6,202.0 150.9,204.7 151.2,203.1 151.5,202.9 151.8,203.0 152.0,202.2 152.3,202.2 152.6,202.6 152.9,202.5 153.2,201.7 153.5,201.5 153.7,204.7 154.0,200.6 154.3,203.3 154.6,202.0 154.9,204.4 155.2,203.3 155.5,204.0 155.7,201.6 156.0,201.8 156.3,202.7 156.6,202.9 156.9,202.4 157.2,203.7 157.4,203.4 157.7,203.5 158.0,201.9 158.3,202.7 158.6,204.0 158.9,202.4 159.2,202.2 159.4,201.3 159.7,203.3 160.0,202.3 160.3,200.6 160.6,203.1 160.9,203.1 161.1,202.2 161.4,203.2 161.7,202.7 162.0,203.3 162.3,203.5 162.6,201.9 162.8,203.1 163.1,203.8 163.4,203.0 163.7,202.9 164.0,202.4 164.3,201.8 164.6,201.0 164.8,204.0 165.1,203.0 165.4,204.6 165.7,202.5 166.0,202.2 166.3,203.4 166.5,203.7 166.8,203.8 167.1,204.3 167.4,202.1 167.7,200.8 168.0,203.9 168.3,201.1 168.5,202.9 168.8,204.2 169.1,202.2 169.4,202.0 169.7,202.4 170.0,203.1 170.2,201.1 170.5,203.1 170.8,202.2 171.1,202.1 171.4,203.7 171.7,204.7 172.0,204.5 172.2,203.2 172.5,202.4 172.8,204.6 173.1,203.5 173.4,201.3 173.7,204.6 173.9,202.3 174.2,202.5 174.5,202.0 174.8,204.3 175.1,202.5 175.4,204.2 175.7,201.5 175.9,203.7 176.2,202.4 176.5,203.6 176.8,202.7 177.1,204.4 177.4,202.5 177.6,202.2 177.9,202.8 178.2,201.2 178.5,202.4 178.8,202.0 179.1,202.3 179.4,200.9 179.6,203.5 179.9,203.1 180.2,203.0 180.5,202.2 180.8,202.6 181.1,202.0 181.3,202.5 181.6,203.3 181.9,202.9 182.2,202.4 182.5,205.1 182.8,201.4 183.0,203.4 183.3,203.2 183.6,202.5 183.9,203.1 184.2,204.3 184.5,203.0 184.8,201.4 185.0,201.7 185.3,201.5 185.6,203.3 185.9,203.0 186.2,201.7 186.5,201.3 186.7,202.7 187.0,203.8 187.3,204.7 187.6,201.3 187.9,204.3 188.2,202.3 188.5,201.9 188.7,199.4 189.0,202.6 189.3,202.9 189.6,202.3 189.9,202.2 190.2,201.4 190.4,202.0 190.7,203.5 191.0,204.9 191.3,202.4 191.6,203.4 191.9,201.3 192.2,204.1 192.4,202.5 192.7,203.5 193.0,203.6 193.3,201.0 193.6,202.6 193.9,202.9 194.1,202.0 194.4,203.5 194.7,203.1 195.0,203.4 195.3,200.7 195.6,202.4 195.9,202.1 196.1,201.6 196.4,202.9 196.7,202.9 197.0,204.4 197.3,202.2 197.6,202.5 197.8,203.2 198.1,201.5 198.4,204.6 198.7,202.3 199.0,204.1 199.3,203.9 199.6,202.9 199.8,201.4 200.1,204.0 200.4,203.8 200.7,204.0 201.0,200.7 201.3,202.2 201.5,202.3 201.8,200.6 202.1,202.5 202.4,204.9 202.7,203.3 203.0,204.0 203.2,200.6 203.5,204.2 203.8,202.4 204.1,203.3 204.4,203.2 204.7,202.7 205.0,202.9 205.2,203.4 205.5,204.0 205.8,203.4 206.1,203.8 206.4,203.7 206.7,202.6 206.9,202.9 207.2,202.2 207.5,203.0 207.8,200.7 208.1,203.5 208.4,203.8 208.7,201.7 208.9,203.5 209.2,202.6 209.5,201.7 209.8,202.8 210.1,203.1 210.4,201.7 210.6,202.4 210.9,203.3 211.2,204.0 211.5,203.1 211.8,204.5 212.1,203.6 212.4,203.9 212.6,202.4 212.9,202.0 213.2,203.4 213.5,203.2 213.8,203.9 214.1,204.2 214.3,203.2 214.6,202.2 214.9,202.3 215.2,202.1 215.5,203.0 215.8,205.6 216.1,201.8 216.3,201.4 216.6,201.8 216.9,201.8 217.2,201.6 217.5,200.0 217.8,202.4 218.0,201.1 218.3,201.9 218.6,202.0 218.9,202.9 219.2,203.1 219.5,203.9 219.7,202.1 220.0,203.1 220.3,204.0 220.6,203.5 220.9,204.0 221.2,201.1 221.5,203.0 221.7,202.6 222.0,204.0 222.3,203.8 222.6,201.6 222.9,203.0 223.2,202.5 223.4,200.8 223.7,200.6 224.0,202.0 224.3,202.2 224.6,202.5 224.9,203.0 225.2,200.6 225.4,204.0 225.7,202.8 226.0,204.7 226.3,204.0 226.6,202.3 226.9,202.3 227.1,202.4 227.4,203.1 227.7,203.5 228.0,203.3 228.3,203.1 228.6,201.6 228.9,201.2 229.1,202.3 229.4,203.3 229.7,203.7 230.0,202.4 230.3,203.0 230.6,204.6 230.8,201.3 231.1,202.7 231.4,203.1 231.7,203.6 232.0,203.6 232.3,201.8 232.6,203.7 232.8,202.6 233.1,202.1 233.4,200.8 233.7,202.1 234.0,202.8 234.3,203.2 234.5,201.8 234.8,201.7 235.1,203.2 235.4,202.1 235.7,202.9 236.0,204.4 236.3,203.8 236.5,201.9 236.8,201.2 237.1,202.0 237.4,202.9 237.7,203.5 238.0,202.2 238.2,202.4 238.5,204.4 238.8,202.0 239.1,203.5 239.4,202.0 239.7,202.2 239.9,202.0 240.2,201.6 240.5,202.0 240.8,203.8 241.1,203.8 241.4,201.6 241.7,202.2 241.9,204.4 242.2,204.8 242.5,201.8 242.8,200.4 243.1,201.9 243.4,203.0 243.6,202.4 243.9,205.5 244.2,203.8 244.5,201.7 244.8,201.8 245.1,204.9 245.4,201.5 245.6,202.2 245.9,201.7 246.2,202.9 246.5,202.7 246.8,203.8 247.1,202.4 247.3,201.8 247.6,203.7 247.9,202.3 248.2,203.3 248.5,201.6 248.8,201.7 249.1,205.2 249.3,202.3 249.6,201.7 249.9,203.3 250.2,202.9 250.5,202.9 250.8,203.9 251.0,202.8 251.3,201.1 251.6,202.2 251.9,201.1 252.2,201.7 252.5,201.5 252.8,202.6 253.0,201.9 253.3,200.6 253.6,201.2 253.9,202.4 254.2,203.4 254.5,203.7 254.7,202.5 255.0,202.3 255.3,204.6 255.6,202.5 255.9,202.4 256.2,202.4 256.5,203.3 256.7,200.3 257.0,201.8 257.3,204.1 257.6,203.5 257.9,201.9 258.2,202.2 258.4,202.6 258.7,202.8 259.0,202.9 259.3,203.2 259.6,203.8 259.9,202.1 260.1,205.6 260.4,203.5 260.7,201.5 261.0,203.6 261.3,204.0 261.6,200.8 261.9,201.7 262.1,202.9 262.4,203.4 262.7,203.0 263.0,203.1 263.3,203.0 263.6,203.5 263.8,202.2 264.1,203.3 264.4,204.6 264.7,204.1 265.0,202.8 265.3,203.8 265.6,205.3 265.8,201.2 266.1,202.3 266.4,203.3 266.7,203.3 267.0,202.3 267.3,201.4 267.5,203.4 267.8,202.4 268.1,203.4 268.4,202.5 268.7,204.0 269.0,204.7 269.3,202.7 269.5,202.9 269.8,202.1 270.1,203.5 270.4,201.4 270.7,202.7 271.0,201.2 271.2,203.1 271.5,201.2 271.8,202.9 272.1,202.7 272.4,201.8 272.7,204.6 273.0,203.9 273.2,200.9 273.5,204.4 273.8,203.3 274.1,202.2 274.4,201.3 274.7,203.3 274.9,202.7 275.2,204.0 275.5,203.2 275.8,201.7 276.1,202.5 276.4,202.8 276.6,202.4 276.9,202.6 277.2,202.6 277.5,203.2 277.8,203.8 278.1,202.1 278.4,204.0 278.6,201.7 278.9,200.6 279.2,201.2 279.5,200.4 279.8,203.9 280.1,202.5 280.3,203.6 280.6,203.5 280.9,204.5 281.2,204.0 281.5,201.9 281.8,202.0 282.1,201.5 282.3,201.6 282.6,202.0 282.9,203.6 283.2,202.9 283.5,202.0 283.8,201.5 284.0,203.1 284.3,203.3 284.6,203.2 284.9,201.1 285.2,202.2 285.5,203.1 285.8,203.5 286.0,202.3 286.3,204.5 286.6,203.0 286.9,203.3 287.2,203.3 287.5,202.5 287.7,202.3 288.0,199.6 288.3,202.6 288.6,202.0 288.9,203.6 289.2,204.4 289.5,201.5 289.7,200.7 290.0,203.7 290.3,202.8 290.6,201.6 290.9,202.6 291.2,205.2 291.4,201.7 291.7,202.9 292.0,202.0 292.3,203.7 292.6,201.8 292.9,201.6 293.2,203.4 293.4,202.2 293.7,203.4 294.0,203.2 294.3,203.6 294.6,203.2 294.9,203.4 295.1,201.5 295.4,202.9 295.7,203.9 296.0,201.3 296.3,202.2 296.6,201.7 296.8,202.8 297.1,202.0 297.4,202.8 297.7,203.7 298.0,202.6 298.3,202.6 298.6,202.6 298.8,201.8 299.1,204.5 299.4,202.4 299.7,203.5 300.0,203.0 300.3,202.2 300.5,202.6 300.8,203.4 301.1,201.9 301.4,202.7 301.7,201.7 302.0,201.4 302.3,203.0 302.5,203.8 302.8,202.6 303.1,201.8 303.4,202.3 303.7,203.9 304.0,204.4 304.2,203.6 304.5,203.6 304.8,202.0 305.1,202.6 305.4,201.8 305.7,202.8 306.0,201.0 306.2,202.7 306.5,202.1 306.8,203.1 307.1,202.2 307.4,201.6 307.7,201.9 307.9,201.4 308.2,203.3 308.5,202.2 308.8,200.9 309.1,202.4 309.4,202.8 309.7,202.9 309.9,203.2 310.2,202.5 310.5,201.2 310.8,202.2 311.1,202.7 311.4,203.5 311.6,203.8 311.9,200.2 312.2,203.1 312.5,202.6 312.8,203.1 313.1,202.5 313.4,203.1 313.6,202.6 313.9,201.2" fill="none" stroke="#00ffff" stroke-width="1.2" stroke-dasharray="2.4,1.4" stroke-linejoin="round"/>
<polyline points="113.6,203.4 113.9,202.1 114.2,202.7 114.5,201.9 114.8,203.4 115.1,202.3 115.3,203.7 115.6,204.5 115.9,204.0 116.2,203.7 116.5,203.8 116.8,203.0 117.0,201.6 117.3,203.9 117.6,202.3 117.9,202.6 118.2,203.4 118.5,203.7 118.8,202.3 119.0,202.2 119.3,203.1 119.6,202.9 119.9,202.7 120.2,204.0 120.5,202.6 120.7,202.4 121.0,201.0 121.3,204.0 121.6,203.6 121.9,202.6 122.2,203.3 122.5,203.1 122.7,202.7 123.0,203.0 123.3,202.8 123.6,202.3 123.9,204.4 124.2,202.2 124.4,205.0 124.7,201.0 125.0,201.8 125.3,203.3 125.6,201.7 125.9,202.9 126.1,202.3 126.4,202.0 126.7,202.4 127.0,202.7 127.3,202.1 127.6,202.9 127.9,203.1 128.1,203.7 128.4,204.5 128.7,201.1 129.0,201.9 129.3,204.1 129.6,202.3 129.8,202.5 130.1,204.9 130.4,203.5 130.7,202.8 131.0,201.0 131.3,201.6 131.6,201.4 131.8,202.4 132.1,201.7 132.4,203.9 132.7,202.1 133.0,202.0 133.3,204.0 133.5,202.4 133.8,201.2 134.1,200.8 134.4,201.3 134.7,203.4 135.0,202.8 135.3,203.2 135.5,201.5 135.8,203.5 136.1,203.7 136.4,204.3 136.7,202.5 137.0,202.2 137.2,203.3 137.5,203.4 137.8,202.9 138.1,201.3 138.4,204.0 138.7,202.7 139.0,202.5 139.2,202.3 139.5,201.4 139.8,201.8 140.1,202.4 140.4,201.2 140.7,201.5 140.9,202.4 141.2,202.4 141.5,203.9 141.8,202.5 142.1,203.5 142.4,203.8 142.7,202.9 142.9,204.4 143.2,203.6 143.5,203.2 143.8,202.3 144.1,203.0 144.4,202.3 144.6,201.1 144.9,201.9 145.2,203.8 145.5,204.5 145.8,203.6 146.1,203.6 146.3,204.7 146.6,204.4 146.9,204.4 147.2,203.3 147.5,201.3 147.8,201.0 148.1,203.8 148.3,203.2 148.6,204.1 148.9,204.4 149.2,202.8 149.5,202.7 149.8,203.4 150.0,202.2 150.3,203.1 150.6,201.7 150.9,203.3 151.2,201.9 151.5,203.0 151.8,202.7 152.0,202.2 152.3,204.1 152.6,203.6 152.9,202.9 153.2,203.1 153.5,202.6 153.7,203.6 154.0,204.1 154.3,202.9 154.6,202.5 154.9,203.6 155.2,201.6 155.5,202.1 155.7,202.0 156.0,202.0 156.3,203.7 156.6,200.7 156.9,203.5 157.2,202.4 157.4,202.0 157.7,202.4 158.0,202.6 158.3,203.6 158.6,203.1 158.9,202.7 159.2,201.4 159.4,203.4 159.7,202.0 160.0,202.3 160.3,202.6 160.6,203.2 160.9,202.8 161.1,204.4 161.4,202.6 161.7,202.3 162.0,203.2 162.3,202.1 162.6,202.3 162.8,203.4 163.1,201.8 163.4,203.2 163.7,200.2 164.0,203.7 164.3,203.4 164.6,203.3 164.8,202.4 165.1,201.5 165.4,202.5 165.7,203.0 166.0,200.7 166.3,201.6 166.5,202.9 166.8,202.8 167.1,204.2 167.4,202.6 167.7,200.9 168.0,203.8 168.3,204.1 168.5,202.5 168.8,205.0 169.1,201.3 169.4,204.2 169.7,203.4 170.0,202.8 170.2,201.5 170.5,202.3 170.8,204.6 171.1,204.4 171.4,202.5 171.7,204.8 172.0,203.0 172.2,203.5 172.5,201.9 172.8,201.5 173.1,205.2 173.4,202.3 173.7,202.1 173.9,203.5 174.2,203.3 174.5,203.9 174.8,203.1 175.1,202.3 175.4,201.4 175.7,201.3 175.9,203.0 176.2,203.6 176.5,201.8 176.8,205.5 177.1,204.2 177.4,202.1 177.6,200.5 177.9,203.5 178.2,202.7 178.5,203.9 178.8,202.8 179.1,202.8 179.4,203.5 179.6,202.4 179.9,202.9 180.2,202.3 180.5,203.0 180.8,204.0 181.1,202.6 181.3,201.9 181.6,203.5 181.9,201.4 182.2,202.3 182.5,203.1 182.8,202.7 183.0,203.2 183.3,203.6 183.6,201.8 183.9,201.8 184.2,203.2 184.5,202.9 184.8,202.9 185.0,202.0 185.3,201.3 185.6,203.4 185.9,202.4 186.2,202.8 186.5,202.2 186.7,201.3 187.0,203.6 187.3,204.8 187.6,202.9 187.9,204.3 188.2,201.1 188.5,203.4 188.7,203.0 189.0,202.5 189.3,202.5 189.6,203.1 189.9,202.7 190.2,201.8 190.4,203.0 190.7,200.9 191.0,202.4 191.3,205.1 191.6,201.8 191.9,204.5 192.2,202.4 192.4,200.5 192.7,201.6 193.0,203.8 193.3,203.5 193.6,202.7 193.9,201.2 194.1,203.4 194.4,201.6 194.7,202.4 195.0,202.8 195.3,202.9 195.6,201.0 195.9,204.2 196.1,203.8 196.4,201.8 196.7,201.7 197.0,204.0 197.3,203.6 197.6,203.8 197.8,202.1 198.1,203.4 198.4,201.3 198.7,201.9 199.0,202.4 199.3,202.5 199.6,202.2 199.8,201.9 200.1,202.7 200.4,202.4 200.7,201.9 201.0,202.8 201.3,201.7 201.5,202.8 201.8,203.5 202.1,202.5 202.4,201.1 202.7,201.2 203.0,204.3 203.2,202.4 203.5,203.2 203.8,203.0 204.1,203.1 204.4,202.9 204.7,203.2 205.0,203.0 205.2,202.5 205.5,203.9 205.8,204.0 206.1,203.8 206.4,203.9 206.7,202.1 206.9,203.8 207.2,202.8 207.5,202.7 207.8,202.0 208.1,202.7 208.4,201.7 208.7,202.8 208.9,202.5 209.2,202.0 209.5,204.2 209.8,202.3 210.1,201.2 210.4,202.6 210.6,203.0 210.9,200.8 211.2,202.6 211.5,201.5 211.8,205.1 212.1,202.6 212.4,203.2 212.6,202.3 212.9,201.5 213.2,202.9 213.5,202.9 213.8,205.5 214.1,201.9 214.3,201.4 214.6,202.6 214.9,203.2 215.2,202.4 215.5,201.7 215.8,202.1 216.1,200.6 216.3,203.3 216.6,204.1 216.9,202.2 217.2,201.5 217.5,203.2 217.8,202.7 218.0,203.4 218.3,204.0 218.6,203.5 218.9,204.8 219.2,202.5 219.5,202.3 219.7,201.8 220.0,203.6 220.3,203.4 220.6,204.4 220.9,204.2 221.2,201.8 221.5,199.9 221.7,203.8 222.0,203.1 222.3,201.8 222.6,203.4 222.9,202.1 223.2,203.0 223.4,203.0 223.7,201.8 224.0,203.0 224.3,204.0 224.6,201.9 224.9,202.7 225.2,203.3 225.4,203.5 225.7,202.2 226.0,203.4 226.3,202.6 226.6,201.7 226.9,202.8 227.1,201.6 227.4,204.1 227.7,202.1 228.0,202.2 228.3,200.9 228.6,202.7 228.9,201.8 229.1,202.9 229.4,203.8 229.7,203.6 230.0,203.4 230.3,202.0 230.6,203.5 230.8,202.7 231.1,201.8 231.4,201.5 231.7,201.8 232.0,201.2 232.3,203.9 232.6,203.2 232.8,202.4 233.1,201.6 233.4,202.2 233.7,203.5 234.0,202.9 234.3,204.4 234.5,201.9 234.8,204.5 235.1,202.5 235.4,201.6 235.7,201.8 236.0,204.3 236.3,202.5 236.5,203.1 236.8,203.0 237.1,201.1 237.4,202.4 237.7,204.2 238.0,203.8 238.2,202.0 238.5,202.5 238.8,203.9 239.1,204.4 239.4,203.3 239.7,203.2 239.9,201.9 240.2,203.3 240.5,202.1 240.8,201.5 241.1,204.3 241.4,203.3 241.7,201.2 241.9,203.2 242.2,202.8 242.5,201.8 242.8,203.5 243.1,203.2 243.4,204.4 243.6,202.2 243.9,203.2 244.2,203.1 244.5,205.3 244.8,201.8 245.1,202.1 245.4,203.6 245.6,201.5 245.9,205.2 246.2,202.8 246.5,204.5 246.8,200.1 247.1,205.4 247.3,204.0 247.6,203.5 247.9,202.0 248.2,202.0 248.5,202.4 248.8,203.0 249.1,200.6 249.3,203.5 249.6,202.5 249.9,201.0 250.2,204.0 250.5,203.6 250.8,201.7 251.0,202.3 251.3,204.1 251.6,202.8 251.9,200.9 252.2,203.1 252.5,202.0 252.8,202.7 253.0,203.5 253.3,201.2 253.6,201.8 253.9,201.6 254.2,203.0 254.5,202.7 254.7,202.6 255.0,202.4 255.3,203.1 255.6,203.3 255.9,201.5 256.2,203.9 256.5,203.3 256.7,203.2 257.0,203.3 257.3,204.0 257.6,203.6 257.9,202.0 258.2,203.2 258.4,203.6 258.7,201.1 259.0,204.1 259.3,201.8 259.6,202.5 259.9,204.2 260.1,203.2 260.4,203.2 260.7,201.5 261.0,201.9 261.3,203.1 261.6,204.0 261.9,204.5 262.1,203.0 262.4,204.2 262.7,203.0 263.0,203.0 263.3,202.4 263.6,201.8 263.8,202.7 264.1,202.3 264.4,203.0 264.7,201.8 265.0,202.0 265.3,201.2 265.6,201.4 265.8,203.5 266.1,204.3 266.4,202.2 266.7,201.7 267.0,203.5 267.3,201.3 267.5,202.7 267.8,202.9 268.1,202.5 268.4,204.2 268.7,204.5 269.0,203.2 269.3,204.0 269.5,202.8 269.8,202.8 270.1,205.4 270.4,203.6 270.7,202.3 271.0,205.2 271.2,203.2 271.5,204.2 271.8,204.8 272.1,201.7 272.4,201.8 272.7,203.3 273.0,203.4 273.2,201.5 273.5,201.7 273.8,202.9 274.1,202.0 274.4,202.8 274.7,203.2 274.9,202.2 275.2,203.3 275.5,202.3 275.8,203.1 276.1,203.3 276.4,203.4 276.6,202.4 276.9,201.9 277.2,202.4 277.5,203.7 277.8,202.2 278.1,203.8 278.4,204.0 278.6,203.1 278.9,202.1 279.2,202.2 279.5,202.3 279.8,201.5 280.1,202.0 280.3,203.2 280.6,202.1 280.9,203.1 281.2,202.4 281.5,202.3 281.8,202.9 282.1,204.3 282.3,203.0 282.6,203.1 282.9,202.9 283.2,203.2 283.5,203.9 283.8,204.4 284.0,202.2 284.3,202.0 284.6,202.4 284.9,202.9 285.2,200.9 285.5,202.1 285.8,202.8 286.0,202.0 286.3,202.9 286.6,202.1 286.9,202.5 287.2,202.3 287.5,202.7 287.7,203.2 288.0,202.3 288.3,201.7 288.6,203.7 288.9,203.3 289.2,203.9 289.5,201.9 289.7,203.0 290.0,201.9 290.3,203.6 290.6,202.0 290.9,203.3 291.2,203.2 291.4,202.2 291.7,203.2 292.0,203.4 292.3,201.9 292.6,202.8 292.9,201.5 293.2,200.3 293.4,203.3 293.7,203.1 294.0,204.3 294.3,203.9 294.6,202.2 294.9,202.5 295.1,202.5 295.4,202.3 295.7,203.6 296.0,204.4 296.3,201.7 296.6,202.5 296.8,201.6 297.1,202.8 297.4,202.0 297.7,203.3 298.0,202.8 298.3,202.9 298.6,202.4 298.8,201.4 299.1,202.1 299.4,205.6 299.7,202.9 300.0,202.7 300.3,202.0 300.5,202.6 300.8,203.4 301.1,203.5 301.4,203.1 301.7,203.5 302.0,201.3 302.3,202.2 302.5,202.7 302.8,201.8 303.1,200.6 303.4,203.0 303.7,202.8 304.0,203.0 304.2,204.0 304.5,203.4 304.8,203.7 305.1,202.3 305.4,202.3 305.7,201.9 306.0,203.5 306.2,201.8 306.5,203.7 306.8,202.9 307.1,201.5 307.4,201.5 307.7,201.7 307.9,200.7 308.2,201.7 308.5,203.0 308.8,203.0 309.1,203.5 309.4,202.5 309.7,203.5 309.9,203.3 310.2,203.7 310.5,204.4 310.8,200.3 311.1,201.9 311.4,204.8 311.6,202.3 311.9,203.3 312.2,204.8 312.5,202.9 312.8,202.5 313.1,202.2 313.4,201.6 313.6,203.6 313.9,202.8 314.2,202.1 314.5,202.2 314.8,202.3 315.1,202.6 315.3,201.5 315.6,204.0 315.9,204.2 316.2,201.0 316.5,202.3 316.8,201.6 317.0,202.5 317.3,203.1 317.6,203.2 317.9,202.6 318.2,203.2 318.5,202.8 318.8,202.8 319.0,201.9 319.3,201.9 319.6,201.1 319.9,203.4 320.2,202.7 320.5,201.7 320.7,202.3 321.0,205.1 321.3,202.3 321.6,202.7 321.9,203.1 322.2,203.1 322.5,203.4 322.7,201.5 323.0,202.0 323.3,202.5 323.6,201.6 323.9,201.7 324.2,203.5 324.4,203.7 324.7,203.6 325.0,201.9 325.3,202.7 325.6,201.4 325.9,202.1 326.2,202.8 326.4,203.9" fill="none" stroke="#ff1493" stroke-width="1.2" stroke-dasharray="2.4,1.4" stroke-linejoin="round"/>
<polyline points="113.6,202.9 113.9,200.4 114.2,203.3 114.5,203.4 114.8,202.8 115.1,201.3 115.3,202.7 115.6,203.7 115.9,203.2 116.2,202.8 116.5,202.5 116.8,201.6 117.0,200.2 117.3,201.3 117.6,202.0 117.9,202.6 118.2,203.4 118.5,202.1 118.8,201.4 119.0,201.8 119.3,202.7 119.6,202.0 119.9,202.8 120.2,202.8 120.5,202.8 120.7,202.6 121.0,202.7 121.3,201.6 121.6,202.6 121.9,202.7 122.2,201.6 122.5,202.0 122.7,201.5 123.0,203.4 123.3,201.4 123.6,202.6 123.9,203.7 124.2,202.8 124.4,203.9 124.7,203.6 125.0,203.1 125.3,201.7 125.6,204.0 125.9,202.4 126.1,202.9 126.4,201.1 126.7,202.5 127.0,202.1 127.3,201.3 127.6,203.7 127.9,203.0 128.1,204.1 128.4,203.5 128.7,202.4 129.0,202.8 129.3,202.3 129.6,203.1 129.8,203.4 130.1,202.8 130.4,203.6 130.7,203.8 131.0,204.2 131.3,202.8 131.6,202.3 131.8,203.9 132.1,203.2 132.4,205.0 132.7,203.9 133.0,202.7 133.3,204.0 133.5,202.3 133.8,203.2 134.1,202.4 134.4,203.3 134.7,204.2 135.0,202.8 135.3,202.1 135.5,203.3 135.8,202.4 136.1,203.5 136.4,203.1 136.7,201.6 137.0,202.8 137.2,203.7 137.5,202.3 137.8,202.7 138.1,203.3 138.4,202.1 138.7,205.6 139.0,202.2 139.2,200.9 139.5,202.5 139.8,204.6 140.1,201.5 140.4,200.3 140.7,202.2 140.9,203.8 141.2,203.4 141.5,202.9 141.8,202.6 142.1,201.6 142.4,202.2 142.7,204.9 142.9,203.1 143.2,202.9 143.5,201.0 143.8,203.3 144.1,204.1 144.4,203.1 144.6,202.5 144.9,204.5 145.2,201.7 145.5,202.9 145.8,202.0 146.1,202.1 146.3,202.2 146.6,201.4 146.9,201.1 147.2,203.2 147.5,202.8 147.8,201.8 148.1,202.6 148.3,203.3 148.6,202.7 148.9,203.6 149.2,203.2 149.5,206.1 149.8,202.6 150.0,201.0 150.3,202.0 150.6,202.1 150.9,202.6 151.2,203.5 151.5,202.3 151.8,202.7 152.0,202.9 152.3,202.5 152.6,203.3 152.9,202.6 153.2,202.1 153.5,201.8 153.7,202.6 154.0,201.9 154.3,202.6 154.6,204.9 154.9,204.6 155.2,202.9 155.5,203.8 155.7,202.2 156.0,204.0 156.3,203.1 156.6,203.3 156.9,203.5 157.2,203.3 157.4,202.8 157.7,202.6 158.0,203.2 158.3,202.6 158.6,202.2 158.9,202.9 159.2,203.4 159.4,203.4 159.7,203.2 160.0,203.2 160.3,202.7 160.6,200.1 160.9,201.6 161.1,202.7 161.4,202.1 161.7,202.1 162.0,201.5 162.3,201.3 162.6,203.6 162.8,200.5 163.1,203.5 163.4,202.6 163.7,203.5 164.0,204.4 164.3,204.4 164.6,200.8 164.8,201.3 165.1,203.7 165.4,203.8 165.7,201.2 166.0,203.6 166.3,202.2 166.5,200.7 166.8,201.9 167.1,201.2 167.4,202.5 167.7,204.3 168.0,203.5 168.3,204.4 168.5,202.4 168.8,204.0 169.1,202.6 169.4,203.2 169.7,203.4 170.0,202.2 170.2,203.2 170.5,203.5 170.8,201.7 171.1,202.7 171.4,204.2 171.7,201.6 172.0,204.1 172.2,202.5 172.5,202.2 172.8,203.0 173.1,203.5 173.4,203.0 173.7,203.1 173.9,203.8 174.2,201.9 174.5,203.3 174.8,203.4 175.1,201.4 175.4,203.4 175.7,204.2 175.9,202.8 176.2,202.7 176.5,202.7 176.8,200.7 177.1,203.3 177.4,201.4 177.6,201.9 177.9,201.3 178.2,202.8 178.5,203.0 178.8,202.9 179.1,202.4 179.4,201.8 179.6,201.1 179.9,204.4 180.2,201.7 180.5,202.3 180.8,202.7 181.1,203.7 181.3,202.4 181.6,204.5 181.9,201.5 182.2,203.6 182.5,202.8 182.8,202.9 183.0,202.1 183.3,204.0 183.6,201.9 183.9,202.3 184.2,201.2 184.5,202.4 184.8,202.8 185.0,204.6 185.3,203.1 185.6,201.1 185.9,203.1 186.2,203.2 186.5,202.8 186.7,201.9 187.0,204.4 187.3,200.9 187.6,202.1 187.9,202.0 188.2,202.7 188.5,200.8 188.7,203.1 189.0,201.9 189.3,202.6 189.6,203.9 189.9,202.8 190.2,202.0 190.4,203.0 190.7,203.1 191.0,202.7 191.3,203.5 191.6,203.8 191.9,202.6 192.2,203.6 192.4,202.1 192.7,202.0 193.0,201.4 193.3,201.7 193.6,203.0 193.9,202.3 194.1,203.8 194.4,202.3 194.7,203.2 195.0,201.4 195.3,203.4 195.6,202.5 195.9,203.4 196.1,202.1 196.4,202.1 196.7,203.7 197.0,200.8 197.3,202.2 197.6,204.1 197.8,203.6 198.1,204.5 198.4,204.7 198.7,202.8 199.0,204.7 199.3,202.3 199.6,204.3 199.8,203.1 200.1,201.0 200.4,203.1 200.7,202.7 201.0,201.5 201.3,203.0 201.5,202.2 201.8,203.5 202.1,203.1 202.4,202.6 202.7,202.7 203.0,203.5 203.2,202.5 203.5,202.1 203.8,202.1 204.1,202.7 204.4,203.6 204.7,202.0 205.0,201.9 205.2,203.7 205.5,205.0 205.8,202.9 206.1,201.7 206.4,201.9 206.7,203.9 206.9,201.4 207.2,203.6 207.5,201.8 207.8,203.1 208.1,201.8 208.4,202.2 208.7,203.0 208.9,202.0 209.2,203.4 209.5,203.1 209.8,203.0 210.1,203.6 210.4,201.8 210.6,201.8 210.9,202.7 211.2,203.7 211.5,202.3 211.8,202.5 212.1,202.1 212.4,202.8 212.6,203.0 212.9,201.4 213.2,203.4 213.5,202.9 213.8,204.5 214.1,203.1 214.3,203.2 214.6,203.1 214.9,202.2 215.2,203.4 215.5,202.4 215.8,203.1 216.1,203.2 216.3,204.6 216.6,202.4 216.9,202.2 217.2,203.7 217.5,203.4 217.8,204.6 218.0,203.2 218.3,203.9 218.6,202.4 218.9,202.9 219.2,202.2 219.5,203.6 219.7,204.5 220.0,202.9 220.3,203.4 220.6,201.0 220.9,202.6 221.2,201.4 221.5,202.3 221.7,203.1 222.0,204.3 222.3,203.1 222.6,202.2 222.9,202.7 223.2,202.5 223.4,202.5 223.7,204.1 224.0,202.5 224.3,203.6 224.6,202.9 224.9,201.5 225.2,204.8 225.4,203.1 225.7,202.5 226.0,201.8 226.3,202.8 226.6,203.6 226.9,202.1 227.1,202.3 227.4,204.6 227.7,202.8 228.0,204.5 228.3,205.4 228.6,203.8 228.9,203.7 229.1,204.9 229.4,201.0 229.7,204.1 230.0,202.4 230.3,202.1 230.6,200.6 230.8,203.1 231.1,201.2 231.4,203.9 231.7,202.8 232.0,203.2 232.3,203.7 232.6,202.4 232.8,200.9 233.1,200.7 233.4,202.1 233.7,203.9 234.0,203.5 234.3,202.1 234.5,202.2 234.8,202.2 235.1,203.0 235.4,203.6 235.7,202.3 236.0,202.8 236.3,201.3 236.5,203.4 236.8,201.9 237.1,201.4 237.4,200.8 237.7,200.8 238.0,203.8 238.2,203.9 238.5,202.6 238.8,203.6 239.1,205.1 239.4,201.3 239.7,202.2 239.9,201.7 240.2,202.5 240.5,201.6 240.8,202.5 241.1,202.6 241.4,200.8 241.7,203.9 241.9,202.2 242.2,204.3 242.5,201.2 242.8,202.9 243.1,203.9 243.4,204.5 243.6,202.9 243.9,200.8 244.2,202.2 244.5,204.3 244.8,204.8 245.1,199.9 245.4,203.3 245.6,204.2 245.9,202.6 246.2,202.2 246.5,201.2 246.8,202.9 247.1,203.5 247.3,202.1 247.6,203.5 247.9,202.4 248.2,202.6 248.5,201.8 248.8,203.4 249.1,203.4 249.3,202.5 249.6,202.3 249.9,204.2 250.2,203.6 250.5,202.6 250.8,203.1 251.0,200.5 251.3,202.0 251.6,201.5 251.9,202.8 252.2,202.7 252.5,202.6 252.8,201.7 253.0,203.1 253.3,201.2 253.6,203.5 253.9,201.7 254.2,202.5 254.5,203.1 254.7,201.1 255.0,201.8 255.3,202.9 255.6,203.5 255.9,201.9 256.2,203.5 256.5,202.2 256.7,203.6 257.0,202.6 257.3,203.6 257.6,202.9 257.9,201.1 258.2,201.0 258.4,203.2 258.7,203.0 259.0,204.4 259.3,202.4 259.6,201.6 259.9,203.6 260.1,203.7 260.4,202.4 260.7,203.3 261.0,202.5 261.3,201.2 261.6,202.3 261.9,202.1 262.1,200.8 262.4,202.5 262.7,202.0 263.0,202.7 263.3,203.5 263.6,201.1 263.8,204.1 264.1,202.6 264.4,203.9 264.7,203.6 265.0,204.0 265.3,203.0 265.6,202.3 265.8,201.4 266.1,204.6 266.4,202.5 266.7,203.1 267.0,203.4 267.3,202.8 267.5,202.5 267.8,202.8 268.1,202.7 268.4,200.5 268.7,202.6 269.0,202.4 269.3,203.9 269.5,201.6 269.8,203.2 270.1,202.8 270.4,203.5 270.7,202.8 271.0,203.7 271.2,204.0 271.5,204.1 271.8,203.1 272.1,202.7 272.4,202.0 272.7,201.1 273.0,200.9 273.2,203.4 273.5,203.4 273.8,202.0 274.1,203.6 274.4,201.6 274.7,201.7 274.9,203.7 275.2,202.0 275.5,201.3 275.8,202.2 276.1,203.0 276.4,202.9 276.6,202.2 276.9,203.4 277.2,202.3 277.5,202.9 277.8,203.4 278.1,203.7 278.4,202.1 278.6,203.6 278.9,202.5 279.2,204.5 279.5,202.9 279.8,202.6 280.1,202.3 280.3,201.7 280.6,202.2 280.9,202.1 281.2,202.9 281.5,203.7 281.8,203.8 282.1,203.4 282.3,202.4 282.6,201.7 282.9,202.3 283.2,202.5 283.5,201.9 283.8,203.0 284.0,202.5 284.3,202.8 284.6,202.5 284.9,202.9 285.2,204.0 285.5,203.1 285.8,203.5 286.0,201.0 286.3,201.3 286.6,203.3 286.9,203.5 287.2,202.7 287.5,204.2 287.7,201.5 288.0,202.7 288.3,203.2 288.6,201.7 288.9,201.4 289.2,202.5 289.5,201.7 289.7,204.3 290.0,203.5 290.3,203.5 290.6,204.3 290.9,201.9 291.2,200.3 291.4,204.0 291.7,203.3 292.0,201.7 292.3,203.0 292.6,202.7 292.9,203.5 293.2,202.4 293.4,203.7 293.7,202.0 294.0,202.2 294.3,202.4 294.6,203.5 294.9,202.9 295.1,202.3 295.4,203.6 295.7,203.7 296.0,205.0 296.3,203.3 296.6,202.9 296.8,201.8 297.1,203.9 297.4,204.2 297.7,201.5 298.0,201.6 298.3,203.9 298.6,203.2 298.8,204.5 299.1,202.8 299.4,201.5 299.7,202.0 300.0,203.8 300.3,202.5 300.5,203.4 300.8,202.4 301.1,203.3 301.4,202.1 301.7,201.5 302.0,202.4 302.3,202.4 302.5,202.3 302.8,201.9 303.1,203.1 303.4,202.9 303.7,202.9 304.0,201.4 304.2,202.6 304.5,202.2 304.8,203.1 305.1,204.1 305.4,203.0 305.7,202.2 306.0,203.0 306.2,203.3 306.5,203.1 306.8,202.2 307.1,202.3 307.4,202.7 307.7,203.6 307.9,203.4 308.2,199.2 308.5,202.9 308.8,202.1 309.1,202.4 309.4,204.1 309.7,201.4 309.9,202.6 310.2,203.6 310.5,202.0 310.8,203.3 311.1,202.4 311.4,204.0 311.6,202.9 311.9,202.1 312.2,203.2 312.5,204.1 312.8,203.5 313.1,202.1 313.4,204.3 313.6,204.1 313.9,202.0 314.2,202.6 314.5,202.8 314.8,203.2 315.1,202.3 315.3,201.9 315.6,202.3 315.9,204.5 316.2,202.1 316.5,204.4 316.8,201.0 317.0,203.2 317.3,202.1 317.6,202.4 317.9,203.4 318.2,201.6 318.5,202.5 318.8,200.6 319.0,202.1 319.3,202.4 319.6,200.2 319.9,201.3 320.2,202.7 320.5,203.5 320.7,200.8 321.0,201.5 321.3,201.5 321.6,203.0 321.9,203.3 322.2,203.6 322.5,201.6 322.7,202.8 323.0,202.0 323.3,204.8 323.6,201.7 323.9,203.4 324.2,205.4 324.4,204.0 324.7,202.3 325.0,201.2 325.3,205.4 325.6,204.1 325.9,202.6 326.2,204.3 326.4,203.2 326.7,203.8 327.0,202.6 327.3,204.2 327.6,203.1 327.9,203.6 328.1,202.6 328.4,202.8 328.7,201.8 329.0,202.5 329.3,201.0 329.6,204.3 329.9,203.0 330.1,202.0 330.4,202.6 330.7,205.4 331.0,202.4 331.3,203.2 331.6,200.3 331.8,202.8 332.1,202.1 332.4,203.7 332.7,202.0 333.0,205.5 333.3,203.8 333.5,203.1 333.8,204.3 334.1,201.8 334.4,202.7 334.7,201.1 335.0,204.1 335.3,203.6 335.5,202.1 335.8,203.2 336.1,201.9 336.4,202.1 336.7,203.5 337.0,202.6 337.2,202.2 337.5,202.5 337.8,202.9 338.1,203.2 338.4,202.9 338.7,201.7 339.0,200.6" fill="none" stroke="#d2b48c" stroke-width="1.2" stroke-dasharray="2.4,1.4" stroke-linejoin="round"/>
<polyline points="114.6,202.9 115.5,170.4 116.5,168.6 116.8,168.2 117.2,168.1 117.5,167.7 117.8,167.1 118.2,168.1 118.5,166.8 118.9,166.8 119.2,168.8 119.5,167.5 119.9,167.6 120.2,168.0 120.6,168.6 120.9,167.8 121.3,168.0 121.6,167.4 121.9,167.7 122.3,168.3 122.6,167.1 123.0,167.2 123.3,167.3 123.6,168.0 124.0,167.6 124.3,168.0 124.7,168.2 125.0,168.8 125.4,167.9 125.7,168.9 126.0,167.8 126.4,168.6 126.7,168.0 127.1,168.2 127.4,168.6 127.7,168.5 128.1,168.4 128.4,167.5 128.8,168.0 129.1,168.2 129.4,167.8 129.8,168.6 130.1,168.8 130.5,168.5 130.8,167.7 131.2,168.3 131.5,168.1 131.8,168.2 132.2,168.4 132.5,167.7 132.9,167.9 133.2,168.6 133.5,168.7 133.9,168.3 134.2,168.6 134.6,168.3 134.9,167.9 135.3,168.2 135.6,168.2 135.9,168.5 136.3,168.6 136.6,168.7 137.0,167.7 137.3,168.6 137.6,168.3 138.0,168.2 138.3,168.1 138.7,168.4 139.0,169.0 139.3,167.4 139.7,168.8 140.0,168.1 140.4,168.8 140.7,168.0 141.1,168.8 141.4,167.6 141.7,168.1 142.1,169.0 142.4,167.6 142.8,169.1 143.1,168.5 143.4,167.9 143.8,168.5 144.1,167.8 144.5,168.4 144.8,168.6 145.2,167.9 145.5,168.4 145.8,168.6 146.2,168.0 146.5,168.5 146.9,169.0 147.2,168.8 147.5,167.4 147.9,167.5 148.2,169.1 148.6,168.1 148.9,168.0 149.3,168.6 149.6,168.2 149.9,169.0 150.3,168.7 150.6,168.1 151.0,168.6 151.3,168.6 151.6,168.7 152.0,169.2 152.3,169.0 152.7,168.8 153.0,168.7 153.3,169.0 153.7,167.9 154.0,169.4 154.4,169.1 154.7,169.0 155.1,168.5 155.4,169.3 155.7,168.6 156.1,169.1 156.4,169.1 156.8,168.6 157.1,168.4 157.4,168.4 157.8,169.3 158.1,168.4 158.5,168.4 158.8,168.7 159.2,168.7 159.5,168.8 159.8,168.9 160.2,168.5 160.5,168.2 160.9,169.0 161.2,168.8 161.5,168.5 161.9,169.5 162.2,168.3 162.6,168.8 162.9,168.4 163.2,169.1 163.6,169.4 163.9,169.1 164.3,168.9 164.6,169.4 165.0,168.7 165.3,169.0 165.6,169.5 166.0,168.9 166.3,169.2 166.7,169.1 167.0,169.3 167.3,169.5 167.7,169.7 168.0,169.1 168.4,169.2 168.7,169.0 169.1,169.5 169.4,169.1 169.7,168.9 170.1,169.8 170.4,169.2 170.8,168.4 171.1,169.5 171.4,169.5 171.8,169.4 172.1,169.6 172.5,169.0 172.8,169.4 173.1,169.5 173.5,169.8 173.8,169.2 174.2,169.5 174.5,169.6 174.9,169.6 175.2,168.8 175.5,169.5 175.9,169.4 176.2,169.0 176.6,169.6 176.9,169.2 177.2,170.0 177.6,169.3 177.9,170.5 178.3,169.6 178.6,169.8 179.0,170.0 179.3,169.2 179.6,169.4 180.0,169.4 180.3,169.1 180.7,169.5 181.0,169.5 181.3,169.8 181.7,169.0 182.0,169.5 182.4,170.2 182.7,170.2 183.0,170.2 183.4,170.2 183.7,169.4 184.1,169.8 184.4,169.5 184.8,170.3 185.1,170.3 185.4,169.5 185.8,170.9 186.1,170.5 186.5,170.9 186.8,170.3 187.1,169.0 187.5,170.4 187.8,169.7 188.2,169.4 188.5,170.4 188.9,170.5 189.2,170.0 189.5,169.9 189.9,170.9 190.2,170.6 190.6,169.6 190.9,170.6 191.2,170.1 191.6,169.9 191.9,170.5 192.3,170.4 192.6,170.6 192.9,170.6 193.3,170.6 193.6,171.1 194.0,170.6 194.3,170.5 194.7,170.2 195.0,170.6 195.3,170.8 195.7,169.7 196.0,170.5 196.4,170.6 196.7,170.8 197.0,170.6 197.4,170.9 197.7,170.8 198.1,171.0 198.4,171.1 198.8,170.8 199.1,171.2 199.4,170.0 199.8,171.2 200.1,170.0 200.5,170.6 200.8,170.4 201.1,170.2 201.5,171.5 201.8,170.1 202.2,170.6 202.5,171.0 202.9,171.2 203.2,170.7 203.5,171.6 203.9,170.2 204.2,171.0 204.6,170.6 204.9,170.9 205.2,171.1 205.6,171.1 205.9,171.4 206.3,170.5 206.6,171.0 206.9,170.8 207.3,170.9 207.6,170.8 208.0,170.9 208.3,170.6 208.7,171.4 209.0,171.6 209.3,171.2 209.7,171.3 210.0,171.2 210.4,170.7 210.7,170.8 211.0,171.0 211.4,171.6 211.7,171.1 212.1,171.2 212.4,171.0 212.8,171.3 213.1,171.5 213.4,171.3 213.8,171.7 214.1,171.8 214.5,171.3 214.8,171.4 215.1,171.0 215.5,171.4 215.8,172.0 216.2,171.0 216.5,170.9 216.8,172.0 217.2,171.8 217.5,171.2 217.9,171.5 218.2,172.2 218.6,171.2 218.9,171.6 219.2,171.6 219.6,171.2 219.9,172.0 220.3,172.1 220.6,171.5 220.9,171.4 221.3,171.8 221.6,171.4 222.0,171.7 222.3,171.5 222.7,172.3 223.0,172.0 223.3,171.5 223.7,172.3 224.0,172.4 224.4,172.0 224.7,172.2 225.0,172.5 225.4,172.8 225.7,171.6 226.1,172.2 226.4,171.6 226.7,172.6 227.1,172.2 227.4,172.3 227.8,172.3 228.1,173.0 228.5,171.9 228.8,172.5 229.1,172.3 229.5,172.8 229.8,171.8 230.2,173.1 230.5,171.8 230.8,172.7 231.2,172.7 231.5,172.9 231.9,172.1 232.2,173.0 232.6,173.1 232.9,173.1 233.2,172.6 233.6,172.6 233.9,173.1 234.3,172.7 234.6,172.3 234.9,172.7 235.3,172.8 235.6,173.4 236.0,172.4 236.3,172.8 236.6,173.7 237.0,173.5 237.3,174.3 237.7,173.0 238.0,173.8 238.4,173.4 238.7,172.8 239.0,174.0 239.4,173.1 239.7,173.6 240.1,174.0 240.4,173.0 240.7,173.4 241.1,173.9 241.4,173.5 241.8,174.0 242.1,174.1 242.5,174.0 242.8,173.4 243.1,174.5 243.5,174.5 243.8,173.6 244.2,174.6 244.5,174.1 244.8,174.2 245.2,174.7 245.5,174.5 245.9,174.3 246.2,174.3 246.5,174.1 246.9,174.3 247.2,174.0 247.6,174.4 247.9,174.7 248.3,174.3 248.6,174.4 248.9,174.3 249.3,174.7 249.6,174.8 250.0,174.8 250.3,175.4 250.6,174.7 251.0,175.2 251.3,175.3 251.7,175.1 252.0,174.2 252.4,175.4 252.7,174.5 253.0,176.0 253.4,175.4 253.7,174.5 254.1,175.3 254.4,175.2 254.7,175.7" fill="none" stroke="#000000" stroke-width="1.2" stroke-dasharray="3.4,1.5" stroke-linejoin="round"/>
<polyline points="162.4,202.9 164.9,169.5 166.5,167.7 166.9,169.2 167.2,167.7 167.6,167.5 167.9,167.4 168.3,166.9 168.6,168.0 168.9,167.7 169.3,169.2 169.6,168.1 170.0,167.8 170.3,167.2 170.6,166.8 171.0,166.9 171.3,167.6 171.7,167.9 172.0,167.9 172.4,167.9 172.7,167.7 173.0,167.1 173.4,167.9 173.7,168.7 174.1,168.5 174.4,166.0 174.7,166.9 175.1,168.0 175.4,167.9 175.8,167.3 176.1,167.5 176.4,167.5 176.8,168.8 177.1,168.4 177.5,167.5 177.8,167.2 178.2,167.4 178.5,166.6 178.8,167.5 179.2,167.4 179.5,167.5 179.9,166.9 180.2,167.8 180.5,166.3 180.9,168.1 181.2,167.0 181.6,167.0 181.9,166.5 182.3,168.0 182.6,167.9 182.9,167.5 183.3,166.9 183.6,166.8 184.0,168.8 184.3,167.4 184.6,167.1 185.0,167.0 185.3,167.0 185.7,167.3 186.0,167.1 186.3,168.2 186.7,166.6 187.0,168.5 187.4,167.2 187.7,167.6 188.1,166.8 188.4,167.6 188.7,166.5 189.1,166.7 189.4,166.5 189.8,166.2 190.1,166.2 190.4,166.9 190.8,166.3 191.1,166.5 191.5,166.2 191.8,166.6 192.2,168.1 192.5,166.7 192.8,166.5 193.2,166.8 193.5,166.9 193.9,166.3 194.2,166.7 194.5,165.9 194.9,165.5 195.2,166.2 195.6,165.6 195.9,166.8 196.2,166.6 196.6,166.2 196.9,166.5 197.3,165.8 197.6,165.8 198.0,164.8 198.3,166.0 198.6,164.9 199.0,166.2 199.3,165.7 199.7,165.0 200.0,165.2 200.3,166.8 200.7,165.3 201.0,165.0 201.4,166.0 201.7,165.4 202.1,165.2 202.4,164.8 202.7,164.2 203.1,165.6 203.4,165.3 203.8,163.8 204.1,164.0 204.4,163.6 204.8,164.6 205.1,163.9 205.5,165.8 205.8,164.1 206.2,164.9 206.5,165.1 206.8,164.8 207.2,163.6 207.5,163.2 207.9,164.3 208.2,164.1 208.5,163.2 208.9,164.2 209.2,163.6 209.6,163.3 209.9,162.9 210.2,163.7 210.6,165.1 210.9,163.5 211.3,162.9 211.6,163.5 212.0,163.5 212.3,163.6 212.6,162.7 213.0,162.8 213.3,162.7 213.7,162.8 214.0,162.0 214.3,162.4 214.7,162.6 215.0,163.1 215.4,162.6 215.7,162.3 216.1,161.4 216.4,161.9 216.7,162.3 217.1,161.6 217.4,161.6 217.8,162.1 218.1,161.5 218.4,162.4 218.8,161.6 219.1,160.4 219.5,161.0 219.8,161.1 220.1,160.9 220.5,160.9 220.8,161.9 221.2,161.5 221.5,161.5 221.9,160.8 222.2,160.5 222.5,159.8 222.9,161.0 223.2,161.5 223.6,160.6 223.9,160.8 224.2,160.5 224.6,160.6 224.9,160.3 225.3,160.9 225.6,160.3 226.0,159.9 226.3,160.3 226.6,160.0 227.0,160.7 227.3,159.8 227.7,160.3 228.0,160.5 228.3,160.2 228.7,160.3 229.0,160.1 229.4,160.3 229.7,158.9 230.0,159.3 230.4,159.5 230.7,159.5 231.1,159.8 231.4,159.2 231.8,159.8 232.1,159.6 232.4,160.0 232.8,158.8 233.1,158.8 233.5,158.8 233.8,158.8 234.1,160.7 234.5,159.3 234.8,158.7 235.2,159.0 235.5,160.1 235.9,159.0 236.2,158.8 236.5,159.5 236.9,159.8 237.2,159.5 237.6,160.8 237.9,159.0 238.2,159.6 238.6,159.3 238.9,159.2 239.3,159.2 239.6,158.2 239.9,159.6 240.3,159.2 240.6,160.3 241.0,159.5 241.3,160.3 241.7,158.7 242.0,159.2 242.3,159.6 242.7,158.7 243.0,159.8 243.4,159.4 243.7,159.8 244.0,159.9 244.4,159.5 244.7,159.8 245.1,159.5 245.4,160.1 245.8,160.4 246.1,158.8 246.4,159.4 246.8,159.8 247.1,159.5 247.5,160.3 247.8,159.5 248.1,160.6 248.5,159.5 248.8,159.6 249.2,159.9 249.5,159.5 249.8,160.0 250.2,159.1 250.5,159.7 250.9,161.0 251.2,160.7 251.6,159.3 251.9,160.6 252.2,160.1 252.6,160.7 252.9,159.6 253.3,159.9 253.6,160.1 253.9,160.9 254.3,160.9 254.6,160.0 255.0,161.2 255.3,162.2 255.7,160.1 256.0,160.5 256.3,161.9 256.7,161.1 257.0,161.0 257.4,161.3 257.7,160.6 258.0,160.9 258.4,162.1 258.7,161.9 259.1,161.4 259.4,161.4 259.8,162.3 260.1,161.5 260.4,162.8 260.8,161.9 261.1,163.5 261.5,162.4 261.8,161.6 262.1,162.0 262.5,163.5 262.8,164.9 263.2,163.1 263.5,162.8" fill="none" stroke="#ff0000" stroke-width="1.2" stroke-dasharray="3.4,1.5" stroke-linejoin="round"/>
<polyline points="191.1,202.9 193.1,167.1 195.0,164.8 195.3,166.9 195.7,166.7 196.0,167.8 196.4,167.2 196.7,167.6 197.0,167.6 197.4,167.0 197.7,165.6 198.1,166.2 198.4,167.0 198.8,166.5 199.1,167.0 199.4,166.7 199.8,166.1 200.1,167.2 200.5,165.9 200.8,166.5 201.1,165.2 201.5,166.6 201.8,165.7 202.2,166.4 202.5,165.4 202.9,166.9 203.2,166.0 203.5,166.1 203.9,166.6 204.2,165.6 204.6,165.5 204.9,165.7 205.2,165.9 205.6,165.6 205.9,165.5 206.3,164.2 206.6,164.5 206.9,163.9 207.3,164.1 207.6,163.4 208.0,164.5 208.3,164.3 208.7,164.3 209.0,164.6 209.3,163.8 209.7,163.9 210.0,163.7 210.4,163.8 210.7,163.2 211.0,164.8 211.4,163.3 211.7,163.7 212.1,164.0 212.4,163.7 212.8,163.1 213.1,162.7 213.4,163.4 213.8,162.6 214.1,162.8 214.5,162.2 214.8,162.2 215.1,162.2 215.5,162.9 215.8,163.4 216.2,161.5 216.5,163.0 216.8,161.7 217.2,162.2 217.5,161.0 217.9,162.1 218.2,162.1 218.6,163.3 218.9,161.3 219.2,161.6 219.6,162.0 219.9,161.7 220.3,160.5 220.6,161.0 220.9,160.6 221.3,161.2 221.6,160.7 222.0,160.2 222.3,160.9 222.7,159.7 223.0,160.7 223.3,159.1 223.7,160.7 224.0,160.5 224.4,160.0 224.7,160.2 225.0,159.9 225.4,159.7 225.7,158.8 226.1,159.8 226.4,158.6 226.7,158.6 227.1,159.0 227.4,159.1 227.8,157.6 228.1,160.5 228.5,158.9 228.8,158.6 229.1,158.0 229.5,158.2 229.8,157.5 230.2,157.6 230.5,157.1 230.8,158.1 231.2,157.2 231.5,156.3 231.9,157.7 232.2,157.0 232.6,158.0 232.9,156.6 233.2,157.3 233.6,156.2 233.9,157.3 234.3,156.3 234.6,156.9 234.9,156.1 235.3,155.6 235.6,154.2 236.0,155.4 236.3,155.2 236.6,154.1 237.0,154.5 237.3,155.9 237.7,154.6 238.0,154.8 238.4,154.2 238.7,154.3 239.0,155.7 239.4,154.8 239.7,153.0 240.1,153.6 240.4,154.6 240.7,154.2 241.1,154.0 241.4,154.6 241.8,155.8 242.1,153.0 242.5,154.0 242.8,153.6 243.1,153.5 243.5,153.2 243.8,153.1 244.2,151.5 244.5,152.7 244.8,151.9 245.2,152.2 245.5,151.2 245.9,151.9 246.2,153.2 246.5,150.5 246.9,150.4 247.2,151.0 247.6,152.5 247.9,150.4 248.3,151.0 248.6,151.8 248.9,151.5 249.3,150.2 249.6,151.5 250.0,151.1 250.3,151.5 250.6,150.5 251.0,151.5 251.3,150.4 251.7,151.0 252.0,149.3 252.4,151.0 252.7,150.6 253.0,150.0 253.4,150.0 253.7,151.7 254.1,150.4 254.4,150.2 254.7,150.0 255.1,150.6 255.4,149.4 255.8,149.5 256.1,150.7 256.5,151.2 256.8,150.4 257.1,150.0 257.5,149.6 257.8,151.2 258.2,150.8 258.5,151.7 258.8,151.1 259.2,149.6 259.5,148.9 259.9,149.9 260.2,150.5 260.5,150.6 260.9,149.0 261.2,149.6 261.6,150.3 261.9,150.9 262.3,151.1 262.6,150.5 262.9,149.3 263.3,150.8 263.6,150.9 264.0,150.5 264.3,150.9 264.6,150.1 265.0,151.5 265.3,150.8 265.7,151.4 266.0,150.3 266.4,150.9 266.7,151.6 267.0,151.5 267.4,151.2 267.7,150.3 268.1,151.0 268.4,151.3 268.7,152.3 269.1,152.8 269.4,153.0 269.8,152.4 270.1,151.9 270.4,152.2 270.8,151.6 271.1,153.4 271.5,152.9 271.8,153.1 272.2,153.8 272.5,154.8 272.8,154.0 273.2,152.9 273.5,155.0 273.9,153.3 274.2,153.5 274.5,154.4 274.9,154.3 275.2,154.7 275.6,154.8 275.9,154.0 276.3,154.3 276.6,154.6 276.9,155.3 277.3,155.8 277.6,155.7 278.0,156.9 278.3,156.8 278.6,156.3 279.0,157.7 279.3,156.6 279.7,156.9 280.0,157.1 280.3,157.2 280.7,157.7 281.0,155.9 281.4,158.9 281.7,158.2 282.1,159.1 282.4,157.8 282.7,157.5 283.1,157.0 283.4,159.0 283.8,158.1 284.1,159.4 284.4,159.0 284.8,158.6 285.1,160.3 285.5,159.5 285.8,160.0 286.2,159.4 286.5,159.3 286.8,161.0 287.2,160.2 287.5,161.3 287.9,162.1 288.2,161.4 288.5,161.3 288.9,161.8 289.2,161.9 289.6,160.4" fill="none" stroke="#0000ff" stroke-width="1.2" stroke-dasharray="3.4,1.5" stroke-linejoin="round"/>
<polyline points="219.6,202.9 222.0,166.5 224.0,163.6 224.4,165.1 224.7,164.3 225.0,163.9 225.4,164.7 225.7,162.8 226.1,164.3 226.4,164.4 226.7,165.0 227.1,164.5 227.4,163.8 227.8,163.8 228.1,163.6 228.5,163.3 228.8,164.5 229.1,163.9 229.5,163.4 229.8,163.4 230.2,163.8 230.5,162.7 230.8,163.1 231.2,161.5 231.5,162.7 231.9,161.7 232.2,163.3 232.6,161.7 232.9,160.6 233.2,161.1 233.6,160.5 233.9,160.6 234.3,160.8 234.6,160.0 234.9,159.9 235.3,159.7 235.6,160.3 236.0,160.0 236.3,161.5 236.6,159.2 237.0,159.8 237.3,159.4 237.7,158.0 238.0,158.3 238.4,158.0 238.7,158.6 239.0,157.5 239.4,157.6 239.7,157.3 240.1,157.3 240.4,155.7 240.7,157.6 241.1,156.4 241.4,156.1 241.8,155.4 242.1,155.5 242.5,156.1 242.8,155.3 243.1,154.1 243.5,154.2 243.8,155.1 244.2,154.4 244.5,154.4 244.8,153.1 245.2,154.2 245.5,152.6 245.9,152.2 246.2,153.3 246.5,151.3 246.9,152.9 247.2,152.7 247.6,151.7 247.9,152.4 248.3,151.8 248.6,152.5 248.9,151.7 249.3,151.1 249.6,151.9 250.0,150.1 250.3,149.9 250.6,150.3 251.0,149.4 251.3,149.2 251.7,150.1 252.0,148.8 252.4,148.8 252.7,149.2 253.0,148.2 253.4,149.0 253.7,150.1 254.1,147.4 254.4,147.3 254.7,145.9 255.1,147.3 255.4,146.1 255.8,147.3 256.1,147.2 256.5,146.4 256.8,145.8 257.1,145.8 257.5,144.7 257.8,144.5 258.2,146.1 258.5,145.4 258.8,143.4 259.2,143.6 259.5,145.3 259.9,144.9 260.2,142.6 260.5,144.7 260.9,142.8 261.2,145.1 261.6,143.6 261.9,144.1 262.3,142.9 262.6,142.0 262.9,142.5 263.3,142.0 263.6,141.7 264.0,141.2 264.3,142.1 264.6,143.8 265.0,143.4 265.3,141.4 265.7,141.5 266.0,141.0 266.4,142.0 266.7,142.0 267.0,142.9 267.4,142.3 267.7,141.4 268.1,141.8 268.4,142.4 268.7,140.0 269.1,141.1 269.4,140.8 269.8,140.9 270.1,141.0 270.4,141.8 270.8,140.4 271.1,141.5 271.5,141.9 271.8,140.2 272.2,141.1 272.5,140.8 272.8,142.7 273.2,140.0 273.5,142.0 273.9,142.4 274.2,141.9 274.5,142.4 274.9,142.4 275.2,141.4 275.6,140.7 275.9,142.1 276.3,142.0 276.6,142.0 276.9,142.0 277.3,143.2 277.6,141.1 278.0,143.6 278.3,143.1 278.6,141.1 279.0,142.9 279.3,143.7 279.7,143.0 280.0,141.4 280.3,143.3 280.7,144.3 281.0,143.5 281.4,143.5 281.7,144.6 282.1,143.9 282.4,146.0 282.7,144.0 283.1,144.4 283.4,144.6 283.8,145.3 284.1,144.0 284.4,144.6 284.8,144.3 285.1,145.9 285.5,145.0 285.8,144.5 286.2,144.9 286.5,146.9 286.8,146.3 287.2,147.0 287.5,146.9 287.9,146.9 288.2,145.7 288.5,146.1 288.9,147.6 289.2,147.0 289.6,148.3 289.9,149.0 290.2,149.7 290.6,149.1 290.9,147.2 291.3,148.8 291.6,148.7 292.0,148.5 292.3,151.1 292.6,150.0" fill="none" stroke="#ffa500" stroke-width="1.2" stroke-dasharray="3.4,1.5" stroke-linejoin="round"/>
<polyline points="245.6,202.9 250.4,161.8 254.2,156.0 254.5,155.6 254.9,154.1 255.2,154.9 255.5,156.9 255.9,156.8 256.2,154.4 256.6,154.3 256.9,155.8 257.2,155.6 257.6,153.8 257.9,155.1 258.3,153.1 258.6,153.5 259.0,153.3 259.3,150.6 259.6,153.3 260.0,153.4 260.3,152.4 260.7,154.1 261.0,150.4 261.3,150.2 261.7,150.4 262.0,150.1 262.4,149.8 262.7,151.0 263.1,149.1 263.4,148.5 263.7,147.1 264.1,147.3 264.4,146.1 264.8,146.0 265.1,148.4 265.4,146.6 265.8,144.7 266.1,145.4 266.5,144.5 266.8,143.1 267.1,144.7 267.5,143.0 267.8,141.1 268.2,142.3 268.5,142.7 268.9,141.5 269.2,141.5 269.5,142.0 269.9,139.5 270.2,139.8 270.6,141.3 270.9,137.6 271.2,139.5 271.6,138.0 271.9,137.1 272.3,137.4 272.6,138.2 273.0,138.9 273.3,136.7 273.6,135.5 274.0,136.7 274.3,135.6 274.7,133.5 275.0,135.7 275.3,130.1 275.7,133.7 276.0,135.2 276.4,133.2 276.7,133.7 277.0,131.8 277.4,134.4 277.7,132.1 278.1,133.8 278.4,132.1 278.8,130.7 279.1,132.0 279.4,130.5 279.8,132.2 280.1,130.7 280.5,132.3 280.8,131.7 281.1,131.3 281.5,132.8 281.8,132.1 282.2,131.6 282.5,129.0 282.9,130.6 283.2,131.9 283.5,131.9 283.9,130.7 284.2,131.7 284.6,130.3 284.9,131.6 285.2,131.6 285.6,129.6 285.9,132.5 286.3,128.0 286.6,131.3 286.9,132.1 287.3,129.9 287.6,129.4 288.0,129.2 288.3,130.1 288.7,131.5 289.0,130.9 289.3,130.7 289.7,129.9 290.0,129.9 290.4,130.2 290.7,130.1 291.0,133.5 291.4,131.7 291.7,130.0 292.1,131.8 292.4,131.5 292.8,132.3 293.1,131.8 293.4,132.6 293.8,134.2 294.1,131.9 294.5,132.1 294.8,133.7 295.1,135.3 295.5,133.7 295.8,135.0 296.2,132.9 296.5,134.6 296.8,136.3 297.2,135.7 297.5,133.3 297.9,135.8 298.2,136.7 298.6,136.4 298.9,137.6 299.2,135.7 299.6,138.4 299.9,136.5 300.3,136.3 300.6,136.7 300.9,138.1 301.3,138.7 301.6,138.5 302.0,138.5 302.3,138.4 302.7,139.3 303.0,139.3 303.3,140.4 303.7,141.0 304.0,139.2 304.4,140.3 304.7,140.2 305.0,139.5 305.4,142.3 305.7,142.5 306.1,142.6 306.4,141.5 306.7,144.3 307.1,143.8 307.4,142.5 307.8,145.3 308.1,143.2 308.5,142.5 308.8,144.1 309.1,145.7 309.5,145.6 309.8,146.5 310.2,145.8 310.5,145.0 310.8,145.3" fill="none" stroke="#808080" stroke-width="1.2" stroke-dasharray="3.4,1.5" stroke-linejoin="round"/>
<polyline points="273.6,202.9 274.7,166.1 279.7,141.4 283.8,129.6 284.1,137.0 284.4,134.5 284.8,132.4 285.1,132.7 285.5,134.9 285.8,130.8 286.2,129.8 286.5,129.9 286.8,129.4 287.2,127.6 287.5,130.1 287.9,128.1 288.2,126.7 288.5,122.2 288.9,127.1 289.2,124.7 289.6,123.0 289.9,123.8 290.2,123.2 290.6,122.3 290.9,125.9 291.3,122.5 291.6,123.3 292.0,120.3 292.3,121.3 292.6,121.1 293.0,120.8 293.3,122.3 293.7,119.1 294.0,122.2 294.3,120.0 294.7,120.0 295.0,118.1 295.4,119.3 295.7,120.5 296.1,118.5 296.4,117.1 296.7,120.9 297.1,117.8 297.4,120.6 297.8,120.1 298.1,120.2 298.4,121.5 298.8,118.1 299.1,119.4 299.5,119.8 299.8,122.6 300.1,120.2 300.5,122.5 300.8,119.7 301.2,124.2 301.5,121.2 301.9,124.6 302.2,124.8 302.5,122.9 302.9,122.4 303.2,122.4 303.6,124.8 303.9,125.4 304.2,123.8 304.6,127.0 304.9,127.4 305.3,125.6 305.6,126.0 306.0,126.9 306.3,125.8 306.6,130.0 307.0,127.6 307.3,125.7 307.7,129.5 308.0,131.0 308.3,128.0 308.7,129.3 309.0,128.8 309.4,129.8 309.7,131.7 310.0,131.8 310.4,133.4 310.7,128.7 311.1,133.8 311.4,133.4 311.8,134.3 312.1,133.2 312.4,132.2 312.8,135.2 313.1,134.3 313.5,134.3 313.8,132.8 314.1,136.4 314.5,136.1 314.8,134.7 315.2,139.2 315.5,137.7 315.9,138.0 316.2,140.0 316.5,139.2 316.9,139.0 317.2,138.3 317.6,138.9 317.9,141.3 318.2,142.3 318.6,140.2 318.9,143.9 319.3,143.0 319.6,144.2 320.0,145.3 320.3,143.3 320.6,145.9" fill="none" stroke="#800080" stroke-width="1.2" stroke-dasharray="3.4,1.5" stroke-linejoin="round"/>
<polyline points="298.6,202.9 299.1,132.5 300.3,112.0 300.6,109.0 300.9,104.6 301.3,102.9 301.6,106.7 302.0,105.0 302.3,104.1 302.7,104.2 303.0,99.1 303.3,99.5 303.7,100.0 304.0,102.5 304.4,99.7 304.7,101.0 305.0,101.7 305.4,101.2 305.7,100.4 306.1,103.4 306.4,104.6 306.7,106.3 307.1,102.8 307.4,104.9 307.8,110.3 308.1,106.5 308.5,106.0 308.8,110.5 309.1,110.9 309.5,107.2 309.8,110.1 310.2,112.6 310.5,110.7 310.8,110.8 311.2,113.6 311.5,113.9 311.9,113.1 312.2,113.9 312.6,111.4 312.9,112.8 313.2,114.8 313.6,117.4 313.9,117.9 314.3,121.2 314.6,118.2 314.9,119.3 315.3,120.3 315.6,118.6 316.0,118.3 316.3,124.1 316.7,120.9 317.0,121.5 317.3,123.8 317.7,124.6 318.0,121.1 318.4,123.4 318.7,121.6 319.0,127.1 319.4,128.2 319.7,127.4 320.1,126.1 320.4,126.0" fill="none" stroke="#008000" stroke-width="1.2" stroke-dasharray="3.4,1.5" stroke-linejoin="round"/>
<polyline points="314.1,202.9 314.3,56.2 314.5,59.7 314.8,63.0 315.0,66.3 315.2,69.5 315.5,72.5 315.7,73.4 315.9,79.0 316.1,82.5 316.4,79.8 316.6,84.0 316.8,86.3 317.0,86.3 317.3,85.8 317.5,89.7 317.7,88.9 318.0,92.2 318.2,90.8 318.4,94.1 318.6,93.7 318.9,96.2 319.1,96.2 319.3,97.5 319.6,99.0 319.8,99.0 320.0,98.8 320.2,100.5 320.5,101.6 320.7,100.9 320.9,100.1 321.1,102.6 321.4,104.3 321.6,104.6 321.8,103.9 322.1,102.2 322.3,106.2 322.5,103.8 322.7,105.9 323.0,107.0 323.2,107.2 323.4,105.3 323.6,107.8 323.9,105.8 324.1,105.3 324.3,109.4 324.6,110.3 324.8,111.3 325.0,108.6 325.2,110.7 325.5,110.7 325.7,111.2 325.9,108.7 326.2,109.9 326.4,110.3 326.6,113.6 326.8,112.7 327.1,112.0 327.3,112.3 327.5,112.0 327.7,110.6 328.0,112.1 328.2,112.2 328.4,113.7 328.7,114.3 328.9,114.6 329.1,114.4 329.3,116.7 329.6,115.5 329.8,114.9 330.0,115.8 330.2,115.5 330.5,118.1 330.7,116.6 330.9,116.1 331.2,114.8 331.4,116.4 331.6,117.1 331.8,117.7 332.1,117.1 332.3,118.0 332.5,116.6 332.8,118.5 333.0,117.1 333.2,119.0 333.4,120.3 333.7,120.5 333.9,117.5 334.1,119.7 334.3,119.8 334.6,116.0 334.8,121.0 335.0,119.7 335.3,121.6 335.5,120.9 335.7,119.5 335.9,120.8 336.2,118.1 336.4,122.0 336.6,121.8 336.8,122.9 337.1,121.3 337.3,122.5 337.5,121.8 337.8,122.9 338.0,121.4 338.2,123.0 338.4,122.2 338.7,122.7 338.9,123.7 339.1,122.8 339.4,123.0 339.6,122.5 339.8,126.0 340.0,121.6 340.3,123.6 340.5,123.3 340.7,123.4 340.9,126.0 341.2,123.4 341.4,124.2 341.6,125.4 341.9,123.8 342.1,125.4 342.3,126.5 342.5,124.2 342.8,124.5 343.0,125.3 343.2,126.0 343.5,124.0 343.7,126.9 343.9,126.1 344.1,126.7 344.4,126.9 344.6,126.2 344.8,128.3 345.0,126.5 345.3,126.9 345.5,127.9 345.7,128.6 346.0,129.6 346.2,127.8 346.4,125.9 346.6,129.1 346.9,129.6 347.1,129.4 347.3,128.4 347.5,128.2 347.8,128.6 348.0,129.2 348.2,130.9 348.5,128.2 348.7,130.1 348.9,129.3 349.1,129.8 349.4,130.1 349.6,129.2 349.8,130.2 350.1,127.8 350.3,128.8 350.5,129.7 350.7,131.3 351.0,130.1 351.2,130.8 351.4,130.5 351.6,131.5 351.9,133.0 352.1,133.1 352.3,132.1 352.6,131.0 352.8,132.4 353.0,133.2 353.2,132.8 353.5,131.9 353.7,133.5 353.9,133.7 354.1,133.1 354.4,132.5 354.6,135.1 354.8,134.2 355.1,133.8 355.3,134.5 355.5,133.4 355.7,133.1 356.0,135.4 356.2,131.4 356.4,134.2 356.7,132.8 356.9,134.0 357.1,137.5 357.3,136.9 357.6,135.1 357.8,134.9 358.0,134.9 358.2,138.4 358.5,136.9 358.7,135.6 358.9,134.7 359.2,135.8 359.4,138.4 359.6,137.5 359.8,137.4 360.1,137.6 360.3,135.9 360.5,135.9 360.7,135.9 361.0,139.1 361.2,139.5 361.4,140.0 361.7,138.5 361.9,138.2 362.1,140.2 362.3,138.3 362.6,138.5 362.8,139.2 363.0,138.5 363.3,140.5 363.5,140.8 363.7,137.6 363.9,140.2 364.2,138.6 364.4,140.8 364.6,143.1 364.8,139.6 365.1,142.0 365.3,141.7 365.5,139.6 365.8,142.9 366.0,141.4 366.2,139.7 366.4,138.7 366.7,142.7 366.9,141.4 367.1,142.6 367.3,140.3 367.6,142.7 367.8,140.5 368.0,144.0 368.3,141.5 368.5,140.7 368.7,142.0 368.9,142.9 369.2,143.7 369.4,145.0 369.6,142.2 369.9,142.3 370.1,143.3 370.3,145.5 370.5,145.2 370.8,144.3 371.0,142.1 371.2,142.0 371.4,143.3 371.7,146.6 371.9,147.6 372.1,145.0 372.4,144.6 372.6,143.2 372.8,146.7 373.0,144.2 373.3,146.3 373.5,145.2 373.7,146.9 373.9,146.9 374.2,147.2 374.4,146.9 374.6,148.0 374.9,148.0 375.1,146.7 375.3,148.8 375.5,147.8 375.8,148.2 376.0,148.0 376.2,146.2 376.5,148.9 376.7,145.9" fill="none" stroke="#00ffff" stroke-width="1.2" stroke-dasharray="3.4,1.5" stroke-linejoin="round"/>
<polyline points="326.7,202.9 326.8,79.7 327.1,80.9 327.3,82.1 327.5,83.2 327.7,84.3 328.0,85.4 328.2,88.3 328.4,85.5 328.7,85.9 328.9,89.1 329.1,90.0 329.3,89.7 329.6,90.3 329.8,92.9 330.0,93.7 330.2,91.2 330.5,94.3 330.7,95.5 330.9,97.1 331.2,100.4 331.4,97.4 331.6,97.8 331.8,98.5 332.1,99.2 332.3,98.4 332.5,99.5 332.8,100.1 333.0,101.0 333.2,101.6 333.4,101.4 333.7,102.8 333.9,100.8 334.1,102.3 334.3,103.0 334.6,100.6 334.8,102.6 335.0,105.4 335.3,105.3 335.5,104.6 335.7,105.5 335.9,103.4 336.2,104.4 336.4,104.5 336.6,104.5 336.8,105.0 337.1,108.8 337.3,108.5 337.5,108.2 337.8,106.5 338.0,107.1 338.2,105.2 338.4,106.2 338.7,106.4 338.9,109.2 339.1,108.7 339.4,107.5 339.6,110.5 339.8,110.2 340.0,107.2 340.3,107.0 340.5,112.3 340.7,110.3 340.9,112.1 341.2,113.3 341.4,112.1 341.6,110.5 341.9,110.6 342.1,111.3 342.3,110.2 342.5,113.2 342.8,112.6 343.0,110.5 343.2,111.7 343.5,114.0 343.7,114.8 343.9,113.3 344.1,113.3 344.4,113.3 344.6,114.2 344.8,114.0 345.0,115.2 345.3,114.7 345.5,115.6 345.7,116.6 346.0,115.0 346.2,116.4 346.4,116.6 346.6,115.0 346.9,115.5 347.1,113.7 347.3,114.1 347.5,117.0 347.8,117.0 348.0,117.7 348.2,118.9 348.5,115.2 348.7,116.5 348.9,118.3 349.1,115.4 349.4,117.1 349.6,117.1 349.8,118.9 350.1,121.6 350.3,117.8 350.5,119.8 350.7,121.0 351.0,118.5 351.2,118.6 351.4,120.8 351.6,119.8 351.9,119.3 352.1,120.1 352.3,121.0 352.6,118.5 352.8,121.0 353.0,119.3 353.2,121.1 353.5,121.6 353.7,119.7 353.9,122.3 354.1,121.2 354.4,121.2 354.6,120.5 354.8,122.3 355.1,124.4 355.3,124.8 355.5,125.1 355.7,124.4 356.0,123.3 356.2,123.7 356.4,124.1 356.7,123.8 356.9,124.8 357.1,124.1 357.3,124.1 357.6,121.6 357.8,124.9 358.0,125.0 358.2,125.3 358.5,126.2 358.7,124.2 358.9,127.1 359.2,122.9 359.4,127.9 359.6,126.0 359.8,124.8 360.1,125.6 360.3,125.5 360.5,128.6 360.7,125.6 361.0,126.2 361.2,125.1 361.4,127.3 361.7,127.4 361.9,129.8 362.1,127.1 362.3,129.4 362.6,127.7 362.8,126.0 363.0,129.7 363.3,128.3 363.5,129.5 363.7,129.8 363.9,131.7 364.2,129.9 364.4,129.1 364.6,128.0 364.8,127.8 365.1,130.2 365.3,129.0 365.5,130.5 365.8,131.7 366.0,131.3 366.2,129.7 366.4,130.1 366.7,133.4 366.9,130.6 367.1,131.9 367.3,130.9 367.6,131.6 367.8,133.7 368.0,134.0 368.3,132.4 368.5,132.5 368.7,132.5 368.9,134.4 369.2,131.1 369.4,136.3 369.6,131.6 369.9,133.7 370.1,134.3 370.3,131.6 370.5,134.1 370.8,134.0 371.0,135.0 371.2,133.7 371.4,133.9 371.7,132.8 371.9,133.4 372.1,135.0 372.4,136.0 372.6,135.9 372.8,136.5 373.0,136.3 373.3,136.6 373.5,135.6 373.7,136.0 373.9,137.3 374.2,136.1 374.4,139.5 374.6,136.9 374.9,140.0 375.1,137.6 375.3,136.4 375.5,137.1 375.8,139.0 376.0,138.0 376.2,138.1 376.5,138.8 376.7,138.0 376.9,139.2 377.1,139.6 377.4,139.9 377.6,138.2" fill="none" stroke="#ff1493" stroke-width="1.2" stroke-dasharray="3.4,1.5" stroke-linejoin="round"/>
<polyline points="339.1,202.9 339.2,68.0 339.5,71.3 339.7,74.4 339.9,77.1 340.1,79.5 340.4,81.4 340.6,84.2 340.8,85.7 341.1,87.5 341.3,86.8 341.5,87.8 341.7,88.3 342.0,91.5 342.2,88.3 342.4,93.1 342.7,94.5 342.9,94.2 343.1,96.9 343.3,96.2 343.6,96.4 343.8,96.2 344.0,95.3 344.2,97.0 344.5,98.5 344.7,98.6 344.9,100.7 345.2,97.8 345.4,99.9 345.6,100.1 345.8,101.9 346.1,102.8 346.3,103.5 346.5,103.8 346.8,103.9 347.0,102.5 347.2,105.0 347.4,103.7 347.7,103.8 347.9,104.8 348.1,104.6 348.3,109.1 348.6,106.2 348.8,107.5 349.0,105.5 349.3,107.2 349.5,108.4 349.7,108.2 349.9,108.3 350.2,106.7 350.4,109.8 350.6,109.2 350.8,110.6 351.1,109.8 351.3,109.9 351.5,110.4 351.8,111.1 352.0,109.2 352.2,110.0 352.4,111.0 352.7,112.6 352.9,111.5 353.1,112.1 353.4,111.3 353.6,112.0 353.8,113.7 354.0,112.3 354.3,110.9 354.5,112.7 354.7,115.1 354.9,114.4 355.2,112.8 355.4,112.6 355.6,116.4 355.9,113.2 356.1,112.6 356.3,113.0 356.5,116.8 356.8,115.3 357.0,113.7 357.2,114.7 357.4,116.4 357.7,117.3 357.9,116.4 358.1,115.8 358.4,118.0 358.6,117.1 358.8,115.5 359.0,115.6 359.3,117.2 359.5,115.9 359.7,118.1 360.0,118.9 360.2,119.2 360.4,119.9 360.6,119.3 360.9,119.4 361.1,116.4 361.3,118.0 361.5,116.6 361.8,121.0 362.0,119.0 362.2,120.7 362.5,122.2 362.7,119.7 362.9,121.5 363.1,119.9 363.4,117.7 363.6,121.1 363.8,121.6 364.0,122.5 364.3,123.8 364.5,122.3 364.7,123.3 365.0,122.2 365.2,123.1 365.4,122.4 365.6,122.3 365.9,121.6 366.1,124.8 366.3,124.6 366.6,121.9 366.8,122.7 367.0,125.0 367.2,121.0 367.5,128.1 367.7,125.2 367.9,125.3 368.1,124.4 368.4,127.0 368.6,125.4 368.8,125.3 369.1,124.2 369.3,128.4 369.5,127.0 369.7,127.1 370.0,125.2 370.2,124.1 370.4,124.6 370.6,127.9 370.9,126.9 371.1,127.6 371.3,127.6 371.6,128.6 371.8,127.6 372.0,128.2 372.2,127.5 372.5,128.6 372.7,125.2 372.9,130.9 373.2,129.7 373.4,129.8 373.6,129.0 373.8,128.2 374.1,129.6 374.3,125.8 374.5,129.4 374.7,128.2 375.0,130.3 375.2,131.3 375.4,127.3 375.7,131.8 375.9,132.8 376.1,132.0 376.3,131.0 376.6,129.6 376.8,131.9 377.0,132.0 377.2,131.5 377.5,131.0 377.7,133.3 377.9,132.0 378.2,133.3 378.4,132.1 378.6,132.2 378.8,131.7 379.1,130.8 379.3,134.0 379.5,134.7 379.8,133.4 380.0,133.7 380.2,133.9 380.4,133.0 380.7,134.0 380.9,133.3 381.1,134.5 381.3,134.8 381.6,135.9 381.8,134.1 382.0,135.1 382.3,133.8 382.5,134.7 382.7,136.3 382.9,135.5 383.2,136.1 383.4,136.3 383.6,138.1 383.8,136.2 384.1,136.5 384.3,138.3 384.5,136.6 384.8,136.6 385.0,138.7 385.2,138.8 385.4,137.2 385.7,136.7 385.9,137.5 386.1,140.3 386.4,139.6 386.6,137.6 386.8,139.8 387.0,137.3 387.3,137.4 387.5,140.0 387.7,138.8 387.9,138.3 388.2,138.8 388.4,140.1 388.6,139.9 388.9,139.9 389.1,137.9 389.3,139.3 389.5,138.8 389.8,140.1 390.0,139.9 390.2,139.6 390.4,141.1 390.7,141.9 390.9,140.6 391.1,141.8 391.4,142.1 391.6,142.5 391.8,143.5 392.0,141.7 392.3,143.2 392.5,143.1 392.7,142.7 393.0,144.0 393.2,141.9 393.4,141.6 393.6,144.2 393.9,143.4" fill="none" stroke="#d2b48c" stroke-width="1.2" stroke-dasharray="3.4,1.5" stroke-linejoin="round"/>
<polyline points="114.2,163.0 114.6,163.7 114.9,164.6 115.3,165.8 115.6,166.4 116.0,166.8 116.3,167.1 116.7,167.3 117.0,167.4 117.4,167.4 117.7,167.5 118.1,167.5 118.4,167.5 118.8,167.5 119.1,167.5 119.5,167.6 119.8,167.6 120.2,167.6 120.6,167.6 120.9,167.6 121.3,167.7 121.6,167.7 122.0,167.7 122.3,167.7 122.7,167.7 123.0,167.7 123.4,167.8 123.7,167.8 124.1,167.8 124.4,167.8 124.8,167.8 125.1,167.8 125.5,167.8 125.8,167.8 126.2,167.9 126.5,167.9 126.9,167.9 127.3,167.9 127.6,167.9 128.0,167.9 128.3,167.9 128.7,167.9 129.0,167.9 129.4,167.9 129.7,167.9 130.1,167.9 130.4,168.0 130.8,168.0 131.1,168.0 131.5,168.0 131.8,168.0 132.2,168.0 132.5,168.0 132.9,168.0 133.3,168.0 133.6,168.0 134.0,168.0 134.3,168.0 134.7,168.0 135.0,168.0 135.4,168.0 135.7,168.0 136.1,168.0 136.4,168.0 136.8,168.0 137.1,168.1 137.5,168.1 137.8,168.1 138.2,168.1 138.5,168.1 138.9,168.1 139.2,168.1 139.6,168.1 140.0,168.1 140.3,168.1 140.7,168.1 141.0,168.1 141.4,168.1 141.7,168.1 142.1,168.1 142.4,168.1 142.8,168.1 143.1,168.1 143.5,168.1 143.8,168.1 144.2,168.1 144.5,168.1 144.9,168.2 145.2,168.2 145.6,168.2 146.0,168.2 146.3,168.2 146.7,168.2 147.0,168.2 147.4,168.2 147.7,168.2 148.1,168.2 148.4,168.2 148.8,168.2 149.1,168.3 149.5,168.3 149.8,168.3 150.2,168.3 150.5,168.3 150.9,168.3 151.2,168.3 151.6,168.3 152.0,168.3 152.3,168.4 152.7,168.4 153.0,168.4 153.4,168.4 153.7,168.4 154.1,168.4 154.4,168.4 154.8,168.4 155.1,168.5 155.5,168.5 155.8,168.5 156.2,168.5 156.5,168.5 156.9,168.5 157.2,168.5 157.6,168.5 157.9,168.6 158.3,168.6 158.7,168.6 159.0,168.6 159.4,168.6 159.7,168.6 160.1,168.6 160.4,168.7 160.8,168.7 161.1,168.7 161.5,168.7 161.8,168.7 162.2,168.7 162.5,168.7 162.9,168.8 163.2,168.8 163.6,168.8 163.9,168.8 164.3,168.8 164.7,168.8 165.0,168.8 165.4,168.9 165.7,168.9 166.1,168.9 166.4,168.9 166.8,168.9 167.1,168.9 167.5,168.9 167.8,169.0 168.2,169.0 168.5,169.0 168.9,169.0 169.2,169.0 169.6,169.0 169.9,169.0 170.3,169.1 170.6,169.1 171.0,169.1 171.4,169.1 171.7,169.1 172.1,169.1 172.4,169.2 172.8,169.2 173.1,169.2 173.5,169.2 173.8,169.2 174.2,169.2 174.5,169.2 174.9,169.3 175.2,169.3 175.6,169.3 175.9,169.3 176.3,169.3 176.6,169.3 177.0,169.4 177.4,169.4 177.7,169.4 178.1,169.4 178.4,169.4 178.8,169.4 179.1,169.5 179.5,169.5 179.8,169.5 180.2,169.5 180.5,169.5 180.9,169.5 181.2,169.6 181.6,169.6 181.9,169.6 182.3,169.6 182.6,169.6 183.0,169.6 183.4,169.7 183.7,169.7 184.1,169.7 184.4,169.7 184.8,169.7 185.1,169.7 185.5,169.8 185.8,169.8 186.2,169.8 186.5,169.8 186.9,169.8 187.2,169.8 187.6,169.9 187.9,169.9 188.3,169.9 188.6,169.9 189.0,169.9 189.3,169.9 189.7,170.0 190.1,170.0 190.4,170.0 190.8,170.0 191.1,170.0 191.5,170.1 191.8,170.1 192.2,170.1 192.5,170.1 192.9,170.1 193.2,170.1 193.6,170.2 193.9,170.2 194.3,170.2 194.6,170.2 195.0,170.2 195.3,170.2 195.7,170.3 196.1,170.3 196.4,170.3 196.8,170.3 197.1,170.3 197.5,170.4 197.8,170.4 198.2,170.4 198.5,170.4 198.9,170.4 199.2,170.4 199.6,170.5 199.9,170.5 200.3,170.5 200.6,170.5 201.0,170.5 201.3,170.5 201.7,170.6 202.0,170.6 202.4,170.6 202.8,170.6 203.1,170.6 203.5,170.7 203.8,170.7 204.2,170.7 204.5,170.7 204.9,170.7 205.2,170.7 205.6,170.8 205.9,170.8 206.3,170.8 206.6,170.8 207.0,170.8 207.3,170.8 207.7,170.9 208.0,170.9 208.4,170.9 208.8,170.9 209.1,170.9 209.5,171.0 209.8,171.0 210.2,171.0 210.5,171.0 210.9,171.0 211.2,171.0 211.6,171.1 211.9,171.1 212.3,171.1 212.6,171.1 213.0,171.1 213.3,171.2 213.7,171.2 214.0,171.2 214.4,171.2 214.8,171.2 215.1,171.3 215.5,171.3 215.8,171.3 216.2,171.3 216.5,171.3 216.9,171.4 217.2,171.4 217.6,171.4 217.9,171.4 218.3,171.4 218.6,171.5 219.0,171.5 219.3,171.5 219.7,171.5 220.0,171.5 220.4,171.6 220.7,171.6 221.1,171.6 221.5,171.6 221.8,171.7 222.2,171.7 222.5,171.7 222.9,171.7 223.2,171.8 223.6,171.8 223.9,171.8 224.3,171.8 224.6,171.9 225.0,171.9 225.3,171.9 225.7,171.9 226.0,172.0 226.4,172.0 226.7,172.0 227.1,172.0 227.5,172.1 227.8,172.1 228.2,172.1 228.5,172.1 228.9,172.2 229.2,172.2 229.6,172.2 229.9,172.3 230.3,172.3 230.6,172.3 231.0,172.3 231.3,172.4 231.7,172.4 232.0,172.4 232.4,172.5 232.7,172.5 233.1,172.5 233.4,172.6 233.8,172.6 234.2,172.6 234.5,172.7 234.9,172.7 235.2,172.7 235.6,172.8 235.9,172.8 236.3,172.9 236.6,172.9 237.0,172.9 237.3,173.0 237.7,173.0 238.0,173.0 238.4,173.1 238.7,173.1 239.1,173.2 239.4,173.2 239.8,173.2 240.2,173.3 240.5,173.3 240.9,173.4 241.2,173.4 241.6,173.4 241.9,173.5 242.3,173.5 242.6,173.6 243.0,173.6 243.3,173.7 243.7,173.7 244.0,173.7 244.4,173.8 244.7,173.8 245.1,173.9 245.4,173.9 245.8,174.0 246.2,174.0 246.5,174.1 246.9,174.1 247.2,174.1 247.6,174.2 247.9,174.2 248.3,174.3 248.6,174.3 249.0,174.4 249.3,174.4 249.7,174.5 250.0,174.5 250.4,174.6 250.7,174.6 251.1,174.7 251.4,174.7 251.8,174.8 252.1,174.8 252.5,174.9 252.9,174.9 253.2,175.0 253.6,175.0 253.9,175.1 254.3,175.1 254.6,175.2 255.0,175.2" fill="none" stroke="#000000" stroke-width="1.7" stroke-linejoin="round"/>
<polyline points="159.2,202.9 159.2,167.4 159.4,167.4 159.7,167.4 159.9,167.4 160.2,167.4 160.5,167.4 160.7,167.4 161.0,167.4 161.3,167.3 161.5,167.3 161.8,167.3 162.0,167.3 162.3,167.3 162.6,167.3 162.8,167.3 163.1,167.3 163.3,167.3 163.6,167.3 163.9,167.3 164.1,167.3 164.4,167.2 164.7,167.2 164.9,167.2 165.2,167.2 165.4,167.2 165.7,167.2 166.0,167.2 166.2,167.2 166.5,167.2 166.8,167.2 167.0,167.2 167.3,167.1 167.5,167.1 167.8,167.1 168.1,167.1 168.3,167.1 168.6,167.1 168.9,167.1 169.1,167.1 169.4,167.1 169.6,167.1 169.9,167.0 170.2,167.0 170.4,167.0 170.7,167.0 171.0,167.0 171.2,167.0 171.5,167.0 171.7,167.0 172.0,167.0 172.3,166.9 172.5,166.9 172.8,166.9 173.1,166.9 173.3,166.9 173.6,166.9 173.8,166.9 174.1,166.9 174.4,166.9 174.6,166.9 174.9,166.8 175.2,166.8 175.4,166.8 175.7,166.8 175.9,166.8 176.2,166.8 176.5,166.8 176.7,166.8 177.0,166.8 177.3,166.7 177.5,166.7 177.8,166.7 178.0,166.7 178.3,166.7 178.6,166.7 178.8,166.7 179.1,166.7 179.4,166.6 179.6,166.6 179.9,166.6 180.1,166.6 180.4,166.6 180.7,166.6 180.9,166.6 181.2,166.6 181.5,166.5 181.7,166.5 182.0,166.5 182.2,166.5 182.5,166.5 182.8,166.5 183.0,166.5 183.3,166.4 183.6,166.4 183.8,166.4 184.1,166.4 184.3,166.4 184.6,166.4 184.9,166.3 185.1,166.3 185.4,166.3 185.7,166.3 185.9,166.3 186.2,166.3 186.4,166.2 186.7,166.2 187.0,166.2 187.2,166.2 187.5,166.2 187.8,166.1 188.0,166.1 188.3,166.1 188.5,166.1 188.8,166.1 189.1,166.0 189.3,166.0 189.6,166.0 189.9,166.0 190.1,165.9 190.4,165.9 190.6,165.9 190.9,165.9 191.2,165.8 191.4,165.8 191.7,165.8 192.0,165.7 192.2,165.7 192.5,165.7 192.7,165.6 193.0,165.6 193.3,165.6 193.5,165.5 193.8,165.5 194.0,165.5 194.3,165.4 194.6,165.4 194.8,165.3 195.1,165.3 195.4,165.3 195.6,165.2 195.9,165.2 196.1,165.1 196.4,165.1 196.7,165.1 196.9,165.0 197.2,165.0 197.5,164.9 197.7,164.9 198.0,164.8 198.2,164.8 198.5,164.8 198.8,164.7 199.0,164.7 199.3,164.6 199.6,164.6 199.8,164.5 200.1,164.5 200.3,164.4 200.6,164.4 200.9,164.3 201.1,164.3 201.4,164.3 201.7,164.2 201.9,164.2 202.2,164.1 202.4,164.1 202.7,164.0 203.0,164.0 203.2,163.9 203.5,163.9 203.8,163.8 204.0,163.8 204.3,163.8 204.5,163.7 204.8,163.7 205.1,163.6 205.3,163.6 205.6,163.5 205.9,163.5 206.1,163.4 206.4,163.4 206.6,163.3 206.9,163.3 207.2,163.2 207.4,163.2 207.7,163.1 208.0,163.1 208.2,163.0 208.5,163.0 208.7,162.9 209.0,162.9 209.3,162.8 209.5,162.8 209.8,162.7 210.1,162.7 210.3,162.6 210.6,162.6 210.8,162.5 211.1,162.4 211.4,162.4 211.6,162.3 211.9,162.3 212.2,162.2 212.4,162.2 212.7,162.1 212.9,162.0 213.2,162.0 213.5,161.9 213.7,161.9 214.0,161.8 214.3,161.8 214.5,161.7 214.8,161.6 215.0,161.6 215.3,161.5 215.6,161.5 215.8,161.4 216.1,161.4 216.4,161.3 216.6,161.2 216.9,161.2 217.1,161.1 217.4,161.1 217.7,161.0 217.9,161.0 218.2,160.9 218.5,160.9 218.7,160.8 219.0,160.7 219.2,160.7 219.5,160.6 219.8,160.6 220.0,160.5 220.3,160.5 220.6,160.4 220.8,160.4 221.1,160.3 221.3,160.3 221.6,160.2 221.9,160.2 222.1,160.2 222.4,160.1 222.7,160.1 222.9,160.0 223.2,160.0 223.4,159.9 223.7,159.9 224.0,159.9 224.2,159.8 224.5,159.8 224.7,159.8 225.0,159.7 225.3,159.7 225.5,159.6 225.8,159.6 226.1,159.6 226.3,159.5 226.6,159.5 226.8,159.5 227.1,159.4 227.4,159.4 227.6,159.3 227.9,159.3 228.2,159.3 228.4,159.2 228.7,159.2 228.9,159.1 229.2,159.1 229.5,159.1 229.7,159.0 230.0,159.0 230.3,159.0 230.5,158.9 230.8,158.9 231.0,158.9 231.3,158.8 231.6,158.8 231.8,158.8 232.1,158.7 232.4,158.7 232.6,158.7 232.9,158.6 233.1,158.6 233.4,158.6 233.7,158.5 233.9,158.5 234.2,158.5 234.5,158.5 234.7,158.4 235.0,158.4 235.2,158.4 235.5,158.4 235.8,158.3 236.0,158.3 236.3,158.3 236.6,158.3 236.8,158.3 237.1,158.3 237.3,158.2 237.6,158.2 237.9,158.2 238.1,158.2 238.4,158.2 238.7,158.2 238.9,158.2 239.2,158.2 239.4,158.2 239.7,158.2 240.0,158.2 240.2,158.2 240.5,158.2 240.8,158.2 241.0,158.2 241.3,158.2 241.5,158.2 241.8,158.3 242.1,158.3 242.3,158.3 242.6,158.3 242.9,158.3 243.1,158.3 243.4,158.4 243.6,158.4 243.9,158.4 244.2,158.4 244.4,158.4 244.7,158.5 245.0,158.5 245.2,158.5 245.5,158.6 245.7,158.6 246.0,158.6 246.3,158.6 246.5,158.7 246.8,158.7 247.1,158.7 247.3,158.8 247.6,158.8 247.8,158.8 248.1,158.9 248.4,158.9 248.6,158.9 248.9,159.0 249.2,159.0 249.4,159.0 249.7,159.1 249.9,159.1 250.2,159.1 250.5,159.2 250.7,159.2 251.0,159.2 251.3,159.3 251.5,159.3 251.8,159.3 252.0,159.4 252.3,159.4 252.6,159.5 252.8,159.5 253.1,159.6 253.4,159.6 253.6,159.7 253.9,159.7 254.1,159.8 254.4,159.8 254.7,159.9 254.9,159.9 255.2,160.0 255.5,160.1 255.7,160.1 256.0,160.2 256.2,160.3 256.5,160.3 256.8,160.4 257.0,160.5 257.3,160.5 257.5,160.6 257.8,160.7 258.1,160.7 258.3,160.8 258.6,160.9 258.9,161.0 259.1,161.0 259.4,161.1 259.6,161.2 259.9,161.3 260.2,161.3 260.4,161.4 260.7,161.5 261.0,161.6 261.2,161.7 261.5,161.8 261.7,161.9 262.0,162.0 262.3,162.1 262.5,162.2 262.8,162.3 263.1,162.4 263.3,162.5 263.6,162.6 263.8,162.7" fill="none" stroke="#ff0000" stroke-width="1.7" stroke-linejoin="round"/>
<polyline points="188.4,202.9 188.4,167.4 188.7,167.4 188.9,167.3 189.2,167.3 189.4,167.3 189.7,167.2 189.9,167.2 190.2,167.2 190.4,167.1 190.7,167.1 190.9,167.0 191.2,167.0 191.4,167.0 191.7,166.9 192.0,166.9 192.2,166.9 192.5,166.8 192.7,166.8 193.0,166.7 193.2,166.7 193.5,166.7 193.7,166.6 194.0,166.6 194.2,166.5 194.5,166.5 194.7,166.5 195.0,166.4 195.3,166.4 195.5,166.3 195.8,166.3 196.0,166.3 196.3,166.2 196.5,166.2 196.8,166.1 197.0,166.1 197.3,166.0 197.5,166.0 197.8,166.0 198.0,165.9 198.3,165.9 198.6,165.8 198.8,165.8 199.1,165.7 199.3,165.7 199.6,165.6 199.8,165.6 200.1,165.6 200.3,165.5 200.6,165.5 200.8,165.4 201.1,165.4 201.3,165.3 201.6,165.3 201.9,165.2 202.1,165.2 202.4,165.1 202.6,165.1 202.9,165.0 203.1,165.0 203.4,164.9 203.6,164.9 203.9,164.8 204.1,164.8 204.4,164.7 204.6,164.7 204.9,164.6 205.2,164.6 205.4,164.5 205.7,164.5 205.9,164.4 206.2,164.4 206.4,164.3 206.7,164.3 206.9,164.2 207.2,164.1 207.4,164.1 207.7,164.0 207.9,164.0 208.2,163.9 208.5,163.9 208.7,163.8 209.0,163.8 209.2,163.7 209.5,163.6 209.7,163.6 210.0,163.5 210.2,163.5 210.5,163.4 210.7,163.3 211.0,163.3 211.2,163.2 211.5,163.2 211.8,163.1 212.0,163.0 212.3,163.0 212.5,162.9 212.8,162.9 213.0,162.8 213.3,162.7 213.5,162.7 213.8,162.6 214.0,162.5 214.3,162.5 214.5,162.4 214.8,162.3 215.1,162.3 215.3,162.2 215.6,162.1 215.8,162.1 216.1,162.0 216.3,161.9 216.6,161.9 216.8,161.8 217.1,161.7 217.3,161.7 217.6,161.6 217.8,161.5 218.1,161.4 218.4,161.4 218.6,161.3 218.9,161.2 219.1,161.2 219.4,161.1 219.6,161.0 219.9,160.9 220.1,160.9 220.4,160.8 220.6,160.7 220.9,160.6 221.1,160.6 221.4,160.5 221.7,160.4 221.9,160.3 222.2,160.2 222.4,160.2 222.7,160.1 222.9,160.0 223.2,159.9 223.4,159.9 223.7,159.8 223.9,159.7 224.2,159.6 224.4,159.5 224.7,159.4 225.0,159.4 225.2,159.3 225.5,159.2 225.7,159.1 226.0,159.0 226.2,158.9 226.5,158.8 226.7,158.8 227.0,158.7 227.2,158.6 227.5,158.5 227.7,158.4 228.0,158.3 228.3,158.2 228.5,158.1 228.8,158.0 229.0,157.9 229.3,157.8 229.5,157.7 229.8,157.6 230.0,157.5 230.3,157.4 230.5,157.3 230.8,157.2 231.0,157.1 231.3,157.0 231.6,156.9 231.8,156.8 232.1,156.7 232.3,156.6 232.6,156.5 232.8,156.4 233.1,156.3 233.3,156.2 233.6,156.1 233.8,156.0 234.1,155.9 234.3,155.8 234.6,155.7 234.9,155.6 235.1,155.5 235.4,155.4 235.6,155.3 235.9,155.2 236.1,155.1 236.4,155.0 236.6,154.9 236.9,154.8 237.1,154.7 237.4,154.6 237.6,154.5 237.9,154.4 238.2,154.3 238.4,154.2 238.7,154.1 238.9,154.0 239.2,153.9 239.4,153.8 239.7,153.8 239.9,153.7 240.2,153.6 240.4,153.5 240.7,153.4 240.9,153.3 241.2,153.2 241.5,153.1 241.7,153.0 242.0,152.9 242.2,152.8 242.5,152.7 242.7,152.6 243.0,152.5 243.2,152.4 243.5,152.3 243.7,152.2 244.0,152.1 244.2,152.0 244.5,151.9 244.7,151.8 245.0,151.7 245.3,151.6 245.5,151.5 245.8,151.4 246.0,151.3 246.3,151.2 246.5,151.1 246.8,151.0 247.0,151.0 247.3,150.9 247.5,150.8 247.8,150.7 248.0,150.7 248.3,150.6 248.6,150.6 248.8,150.5 249.1,150.5 249.3,150.4 249.6,150.4 249.8,150.4 250.1,150.3 250.3,150.3 250.6,150.3 250.8,150.2 251.1,150.2 251.3,150.2 251.6,150.2 251.9,150.1 252.1,150.1 252.4,150.1 252.6,150.1 252.9,150.0 253.1,150.0 253.4,150.0 253.6,150.0 253.9,150.0 254.1,149.9 254.4,149.9 254.6,149.9 254.9,149.9 255.2,149.9 255.4,149.9 255.7,149.8 255.9,149.8 256.2,149.8 256.4,149.8 256.7,149.8 256.9,149.8 257.2,149.8 257.4,149.8 257.7,149.8 257.9,149.8 258.2,149.8 258.5,149.8 258.7,149.8 259.0,149.8 259.2,149.8 259.5,149.8 259.7,149.9 260.0,149.9 260.2,149.9 260.5,149.9 260.7,149.9 261.0,149.9 261.2,149.9 261.5,150.0 261.8,150.0 262.0,150.0 262.3,150.0 262.5,150.0 262.8,150.1 263.0,150.1 263.3,150.1 263.5,150.1 263.8,150.2 264.0,150.2 264.3,150.2 264.5,150.2 264.8,150.3 265.1,150.3 265.3,150.3 265.6,150.4 265.8,150.4 266.1,150.4 266.3,150.4 266.6,150.5 266.8,150.5 267.1,150.6 267.3,150.6 267.6,150.7 267.8,150.8 268.1,150.8 268.4,150.9 268.6,151.0 268.9,151.1 269.1,151.2 269.4,151.3 269.6,151.4 269.9,151.5 270.1,151.6 270.4,151.7 270.6,151.8 270.9,151.9 271.1,152.0 271.4,152.1 271.7,152.2 271.9,152.3 272.2,152.5 272.4,152.6 272.7,152.7 272.9,152.8 273.2,153.0 273.4,153.1 273.7,153.2 273.9,153.3 274.2,153.5 274.4,153.6 274.7,153.7 275.0,153.9 275.2,154.0 275.5,154.1 275.7,154.3 276.0,154.4 276.2,154.5 276.5,154.7 276.7,154.8 277.0,154.9 277.2,155.0 277.5,155.2 277.7,155.3 278.0,155.4 278.3,155.5 278.5,155.7 278.8,155.8 279.0,155.9 279.3,156.0 279.5,156.1 279.8,156.2 280.0,156.3 280.3,156.4 280.5,156.5 280.8,156.7 281.0,156.8 281.3,156.9 281.6,157.0 281.8,157.1 282.1,157.2 282.3,157.3 282.6,157.4 282.8,157.6 283.1,157.7 283.3,157.8 283.6,157.9 283.8,158.0 284.1,158.1 284.3,158.2 284.6,158.3 284.9,158.5 285.1,158.6 285.4,158.7 285.6,158.8 285.9,158.9 286.1,159.0 286.4,159.1 286.6,159.3 286.9,159.4 287.1,159.5 287.4,159.6 287.6,159.7 287.9,159.8 288.2,160.0 288.4,160.1 288.7,160.2 288.9,160.3 289.2,160.4 289.4,160.5 289.7,160.7" fill="none" stroke="#0000ff" stroke-width="1.7" stroke-linejoin="round"/>
<polyline points="217.0,202.9 217.0,165.2 217.2,165.2 217.3,165.2 217.5,165.1 217.7,165.1 217.9,165.1 218.1,165.1 218.3,165.1 218.5,165.1 218.7,165.0 218.9,165.0 219.0,165.0 219.2,165.0 219.4,165.0 219.6,164.9 219.8,164.9 220.0,164.9 220.2,164.8 220.4,164.8 220.6,164.8 220.8,164.7 220.9,164.7 221.1,164.7 221.3,164.7 221.5,164.6 221.7,164.6 221.9,164.5 222.1,164.5 222.3,164.5 222.5,164.4 222.7,164.4 222.8,164.4 223.0,164.3 223.2,164.3 223.4,164.2 223.6,164.2 223.8,164.1 224.0,164.1 224.2,164.0 224.4,164.0 224.5,163.9 224.7,163.8 224.9,163.8 225.1,163.7 225.3,163.6 225.5,163.6 225.7,163.5 225.9,163.4 226.1,163.4 226.3,163.3 226.4,163.2 226.6,163.2 226.8,163.1 227.0,163.0 227.2,162.9 227.4,162.9 227.6,162.8 227.8,162.7 228.0,162.6 228.2,162.5 228.3,162.4 228.5,162.4 228.7,162.3 228.9,162.2 229.1,162.1 229.3,162.0 229.5,161.9 229.7,161.8 229.9,161.7 230.0,161.6 230.2,161.5 230.4,161.4 230.6,161.3 230.8,161.2 231.0,161.1 231.2,161.0 231.4,160.9 231.6,160.8 231.8,160.7 231.9,160.6 232.1,160.5 232.3,160.4 232.5,160.3 232.7,160.2 232.9,160.1 233.1,160.0 233.3,159.9 233.5,159.8 233.7,159.7 233.8,159.6 234.0,159.5 234.2,159.4 234.4,159.3 234.6,159.2 234.8,159.0 235.0,158.9 235.2,158.8 235.4,158.7 235.5,158.6 235.7,158.5 235.9,158.4 236.1,158.3 236.3,158.2 236.5,158.1 236.7,158.0 236.9,157.9 237.1,157.7 237.3,157.6 237.4,157.5 237.6,157.4 237.8,157.3 238.0,157.2 238.2,157.1 238.4,157.0 238.6,156.9 238.8,156.8 239.0,156.6 239.2,156.5 239.3,156.4 239.5,156.3 239.7,156.2 239.9,156.1 240.1,155.9 240.3,155.8 240.5,155.7 240.7,155.6 240.9,155.5 241.0,155.4 241.2,155.2 241.4,155.1 241.6,155.0 241.8,154.9 242.0,154.7 242.2,154.6 242.4,154.5 242.6,154.4 242.8,154.3 242.9,154.1 243.1,154.0 243.3,153.9 243.5,153.8 243.7,153.6 243.9,153.5 244.1,153.4 244.3,153.3 244.5,153.1 244.7,153.0 244.8,152.9 245.0,152.8 245.2,152.6 245.4,152.5 245.6,152.4 245.8,152.3 246.0,152.1 246.2,152.0 246.4,151.9 246.5,151.8 246.7,151.6 246.9,151.5 247.1,151.4 247.3,151.3 247.5,151.1 247.7,151.0 247.9,150.9 248.1,150.8 248.3,150.6 248.4,150.5 248.6,150.4 248.8,150.3 249.0,150.1 249.2,150.0 249.4,149.9 249.6,149.7 249.8,149.6 250.0,149.5 250.2,149.3 250.3,149.2 250.5,149.1 250.7,148.9 250.9,148.8 251.1,148.7 251.3,148.5 251.5,148.4 251.7,148.3 251.9,148.1 252.0,148.0 252.2,147.8 252.4,147.7 252.6,147.6 252.8,147.4 253.0,147.3 253.2,147.2 253.4,147.0 253.6,146.9 253.8,146.8 253.9,146.6 254.1,146.5 254.3,146.4 254.5,146.2 254.7,146.1 254.9,146.0 255.1,145.9 255.3,145.7 255.5,145.6 255.7,145.5 255.8,145.4 256.0,145.3 256.2,145.1 256.4,145.0 256.6,144.9 256.8,144.8 257.0,144.7 257.2,144.6 257.4,144.5 257.6,144.4 257.7,144.3 257.9,144.2 258.1,144.1 258.3,144.0 258.5,143.9 258.7,143.8 258.9,143.7 259.1,143.6 259.3,143.5 259.4,143.4 259.6,143.3 259.8,143.2 260.0,143.1 260.2,143.0 260.4,142.9 260.6,142.8 260.8,142.8 261.0,142.7 261.2,142.6 261.3,142.5 261.5,142.4 261.7,142.3 261.9,142.2 262.1,142.2 262.3,142.1 262.5,142.0 262.7,141.9 262.9,141.9 263.1,141.8 263.2,141.7 263.4,141.6 263.6,141.6 263.8,141.5 264.0,141.4 264.2,141.4 264.4,141.3 264.6,141.2 264.8,141.2 264.9,141.1 265.1,141.1 265.3,141.0 265.5,140.9 265.7,140.9 265.9,140.8 266.1,140.7 266.3,140.7 266.5,140.6 266.7,140.5 266.8,140.5 267.0,140.4 267.2,140.3 267.4,140.3 267.6,140.2 267.8,140.2 268.0,140.1 268.2,140.1 268.4,140.0 268.6,140.0 268.7,140.0 268.9,139.9 269.1,139.9 269.3,139.9 269.5,139.9 269.7,139.8 269.9,139.8 270.1,139.8 270.3,139.8 270.4,139.8 270.6,139.8 270.8,139.9 271.0,139.9 271.2,139.9 271.4,139.9 271.6,139.9 271.8,139.9 272.0,140.0 272.2,140.0 272.3,140.0 272.5,140.0 272.7,140.1 272.9,140.1 273.1,140.1 273.3,140.2 273.5,140.2 273.7,140.3 273.9,140.3 274.1,140.3 274.2,140.4 274.4,140.4 274.6,140.5 274.8,140.5 275.0,140.5 275.2,140.6 275.4,140.6 275.6,140.7 275.8,140.7 275.9,140.7 276.1,140.8 276.3,140.8 276.5,140.9 276.7,140.9 276.9,141.0 277.1,141.0 277.3,141.1 277.5,141.1 277.7,141.2 277.8,141.3 278.0,141.3 278.2,141.4 278.4,141.5 278.6,141.5 278.8,141.6 279.0,141.7 279.2,141.7 279.4,141.8 279.6,141.9 279.7,141.9 279.9,142.0 280.1,142.1 280.3,142.2 280.5,142.2 280.7,142.3 280.9,142.4 281.1,142.5 281.3,142.6 281.4,142.7 281.6,142.7 281.8,142.8 282.0,142.9 282.2,143.0 282.4,143.1 282.6,143.2 282.8,143.2 283.0,143.3 283.2,143.4 283.3,143.5 283.5,143.6 283.7,143.7 283.9,143.8 284.1,143.9 284.3,143.9 284.5,144.0 284.7,144.1 284.9,144.2 285.1,144.3 285.2,144.4 285.4,144.5 285.6,144.6 285.8,144.7 286.0,144.8 286.2,144.9 286.4,144.9 286.6,145.0 286.8,145.1 286.9,145.2 287.1,145.3 287.3,145.4 287.5,145.5 287.7,145.7 287.9,145.8 288.1,145.9 288.3,146.0 288.5,146.1 288.7,146.2 288.8,146.3 289.0,146.4 289.2,146.5 289.4,146.6 289.6,146.7 289.8,146.8 290.0,147.0 290.2,147.1 290.4,147.2 290.6,147.3 290.7,147.4 290.9,147.5 291.1,147.7 291.3,147.8 291.5,147.9 291.7,148.0 291.9,148.1 292.1,148.3 292.3,148.4 292.4,148.5 292.6,148.6" fill="none" stroke="#ffa500" stroke-width="1.7" stroke-linejoin="round"/>
<polyline points="245.2,202.9 245.2,159.8 245.3,159.7 245.5,159.6 245.7,159.5 245.8,159.4 246.0,159.3 246.2,159.2 246.3,159.1 246.5,159.0 246.7,158.9 246.8,158.8 247.0,158.7 247.2,158.6 247.3,158.5 247.5,158.4 247.7,158.4 247.8,158.3 248.0,158.2 248.2,158.1 248.3,158.0 248.5,157.9 248.7,157.8 248.8,157.7 249.0,157.6 249.1,157.5 249.3,157.4 249.5,157.3 249.6,157.2 249.8,157.1 250.0,157.0 250.1,156.9 250.3,156.8 250.5,156.7 250.6,156.6 250.8,156.5 251.0,156.4 251.1,156.3 251.3,156.2 251.5,156.2 251.6,156.1 251.8,156.0 252.0,155.9 252.1,155.8 252.3,155.7 252.4,155.6 252.6,155.5 252.8,155.4 252.9,155.3 253.1,155.3 253.3,155.2 253.4,155.1 253.6,155.0 253.8,154.9 253.9,154.8 254.1,154.7 254.3,154.6 254.4,154.6 254.6,154.5 254.8,154.4 254.9,154.3 255.1,154.2 255.3,154.1 255.4,154.0 255.6,153.9 255.8,153.8 255.9,153.7 256.1,153.6 256.2,153.6 256.4,153.5 256.6,153.4 256.7,153.3 256.9,153.2 257.1,153.1 257.2,153.0 257.4,152.9 257.6,152.7 257.7,152.6 257.9,152.5 258.1,152.4 258.2,152.3 258.4,152.2 258.6,152.1 258.7,152.0 258.9,151.8 259.1,151.7 259.2,151.6 259.4,151.5 259.6,151.3 259.7,151.2 259.9,151.1 260.0,150.9 260.2,150.8 260.4,150.6 260.5,150.5 260.7,150.3 260.9,150.2 261.0,150.0 261.2,149.8 261.4,149.6 261.5,149.5 261.7,149.3 261.9,149.1 262.0,148.9 262.2,148.7 262.4,148.5 262.5,148.3 262.7,148.1 262.9,147.9 263.0,147.7 263.2,147.5 263.3,147.3 263.5,147.1 263.7,146.9 263.8,146.7 264.0,146.5 264.2,146.2 264.3,146.0 264.5,145.8 264.7,145.6 264.8,145.4 265.0,145.2 265.2,145.0 265.3,144.7 265.5,144.5 265.7,144.3 265.8,144.1 266.0,143.9 266.2,143.7 266.3,143.4 266.5,143.2 266.7,143.0 266.8,142.8 267.0,142.6 267.1,142.4 267.3,142.2 267.5,142.0 267.6,141.8 267.8,141.6 268.0,141.4 268.1,141.2 268.3,141.0 268.5,140.8 268.6,140.6 268.8,140.4 269.0,140.2 269.1,140.0 269.3,139.8 269.5,139.6 269.6,139.4 269.8,139.1 270.0,138.9 270.1,138.7 270.3,138.5 270.4,138.3 270.6,138.1 270.8,137.9 270.9,137.7 271.1,137.4 271.3,137.2 271.4,137.0 271.6,136.8 271.8,136.6 271.9,136.4 272.1,136.2 272.3,136.0 272.4,135.8 272.6,135.7 272.8,135.5 272.9,135.3 273.1,135.1 273.3,134.9 273.4,134.8 273.6,134.6 273.8,134.5 273.9,134.3 274.1,134.2 274.2,134.0 274.4,133.9 274.6,133.7 274.7,133.6 274.9,133.5 275.1,133.4 275.2,133.3 275.4,133.1 275.6,133.0 275.7,132.9 275.9,132.8 276.1,132.7 276.2,132.6 276.4,132.5 276.6,132.4 276.7,132.2 276.9,132.1 277.1,132.0 277.2,131.9 277.4,131.8 277.6,131.7 277.7,131.7 277.9,131.6 278.0,131.5 278.2,131.4 278.4,131.3 278.5,131.2 278.7,131.1 278.9,131.1 279.0,131.0 279.2,130.9 279.4,130.8 279.5,130.8 279.7,130.7 279.9,130.6 280.0,130.6 280.2,130.5 280.4,130.4 280.5,130.4 280.7,130.3 280.9,130.3 281.0,130.2 281.2,130.1 281.3,130.1 281.5,130.0 281.7,130.0 281.8,129.9 282.0,129.9 282.2,129.8 282.3,129.7 282.5,129.7 282.7,129.6 282.8,129.6 283.0,129.5 283.2,129.5 283.3,129.5 283.5,129.4 283.7,129.4 283.8,129.4 284.0,129.3 284.2,129.3 284.3,129.3 284.5,129.3 284.7,129.3 284.8,129.3 285.0,129.3 285.1,129.3 285.3,129.3 285.5,129.3 285.6,129.3 285.8,129.3 286.0,129.3 286.1,129.3 286.3,129.3 286.5,129.3 286.6,129.3 286.8,129.3 287.0,129.4 287.1,129.4 287.3,129.4 287.5,129.4 287.6,129.4 287.8,129.4 288.0,129.4 288.1,129.5 288.3,129.5 288.5,129.5 288.6,129.5 288.8,129.5 288.9,129.6 289.1,129.6 289.3,129.6 289.4,129.6 289.6,129.7 289.8,129.7 289.9,129.7 290.1,129.7 290.3,129.8 290.4,129.8 290.6,129.8 290.8,129.9 290.9,129.9 291.1,129.9 291.3,129.9 291.4,130.0 291.6,130.0 291.8,130.0 291.9,130.1 292.1,130.1 292.2,130.1 292.4,130.2 292.6,130.3 292.7,130.3 292.9,130.4 293.1,130.5 293.2,130.6 293.4,130.6 293.6,130.7 293.7,130.8 293.9,130.9 294.1,131.1 294.2,131.2 294.4,131.3 294.6,131.4 294.7,131.5 294.9,131.7 295.1,131.8 295.2,131.9 295.4,132.1 295.6,132.2 295.7,132.4 295.9,132.5 296.0,132.7 296.2,132.8 296.4,133.0 296.5,133.1 296.7,133.3 296.9,133.4 297.0,133.6 297.2,133.7 297.4,133.8 297.5,134.0 297.7,134.1 297.9,134.3 298.0,134.4 298.2,134.6 298.4,134.7 298.5,134.8 298.7,134.9 298.9,135.1 299.0,135.2 299.2,135.3 299.3,135.5 299.5,135.6 299.7,135.7 299.8,135.8 300.0,136.0 300.2,136.1 300.3,136.2 300.5,136.4 300.7,136.5 300.8,136.6 301.0,136.8 301.2,136.9 301.3,137.0 301.5,137.2 301.7,137.3 301.8,137.4 302.0,137.6 302.2,137.7 302.3,137.8 302.5,138.0 302.7,138.1 302.8,138.2 303.0,138.4 303.1,138.5 303.3,138.6 303.5,138.8 303.6,138.9 303.8,139.1 304.0,139.2 304.1,139.3 304.3,139.5 304.5,139.6 304.6,139.7 304.8,139.9 305.0,140.0 305.1,140.2 305.3,140.3 305.5,140.4 305.6,140.6 305.8,140.7 306.0,140.9 306.1,141.0 306.3,141.1 306.5,141.3 306.6,141.4 306.8,141.6 306.9,141.7 307.1,141.9 307.3,142.0 307.4,142.1 307.6,142.3 307.8,142.4 307.9,142.6 308.1,142.7 308.3,142.9 308.4,143.0 308.6,143.2 308.8,143.3 308.9,143.5 309.1,143.6 309.3,143.8 309.4,143.9 309.6,144.0 309.8,144.2 309.9,144.3 310.1,144.5 310.2,144.6 310.4,144.8 310.6,144.9 310.7,145.1 310.9,145.3 311.1,145.4" fill="none" stroke="#808080" stroke-width="1.7" stroke-linejoin="round"/>
<polyline points="271.4,202.9 271.4,153.6 271.5,153.4 271.6,153.2 271.7,153.0 271.9,152.8 272.0,152.7 272.1,152.5 272.2,152.3 272.3,152.1 272.5,151.9 272.6,151.7 272.7,151.5 272.8,151.3 273.0,151.1 273.1,150.9 273.2,150.7 273.3,150.5 273.5,150.3 273.6,150.1 273.7,150.0 273.8,149.8 274.0,149.6 274.1,149.4 274.2,149.2 274.3,149.0 274.5,148.8 274.6,148.6 274.7,148.4 274.8,148.2 274.9,148.0 275.1,147.8 275.2,147.6 275.3,147.4 275.4,147.2 275.6,147.1 275.7,146.9 275.8,146.7 275.9,146.5 276.1,146.3 276.2,146.1 276.3,145.9 276.4,145.7 276.6,145.5 276.7,145.3 276.8,145.1 276.9,144.9 277.1,144.7 277.2,144.5 277.3,144.3 277.4,144.1 277.5,143.9 277.7,143.7 277.8,143.5 277.9,143.3 278.0,143.1 278.2,143.0 278.3,142.8 278.4,142.6 278.5,142.4 278.7,142.2 278.8,142.0 278.9,141.8 279.0,141.6 279.2,141.4 279.3,141.2 279.4,141.0 279.5,140.8 279.7,140.6 279.8,140.4 279.9,140.2 280.0,140.0 280.1,139.8 280.3,139.6 280.4,139.4 280.5,139.1 280.6,138.9 280.8,138.7 280.9,138.5 281.0,138.3 281.1,138.1 281.3,137.9 281.4,137.7 281.5,137.4 281.6,137.2 281.8,137.0 281.9,136.8 282.0,136.6 282.1,136.4 282.3,136.1 282.4,135.9 282.5,135.7 282.6,135.5 282.7,135.3 282.9,135.1 283.0,134.8 283.1,134.6 283.2,134.4 283.4,134.2 283.5,134.0 283.6,133.7 283.7,133.5 283.9,133.3 284.0,133.1 284.1,132.9 284.2,132.6 284.4,132.4 284.5,132.2 284.6,132.0 284.7,131.8 284.9,131.5 285.0,131.3 285.1,131.1 285.2,130.9 285.3,130.7 285.5,130.5 285.6,130.3 285.7,130.0 285.8,129.8 286.0,129.6 286.1,129.4 286.2,129.2 286.3,129.0 286.5,128.8 286.6,128.6 286.7,128.4 286.8,128.2 287.0,128.0 287.1,127.8 287.2,127.6 287.3,127.4 287.4,127.2 287.6,127.0 287.7,126.8 287.8,126.6 287.9,126.4 288.1,126.2 288.2,126.0 288.3,125.8 288.4,125.7 288.6,125.5 288.7,125.3 288.8,125.1 288.9,124.9 289.1,124.8 289.2,124.6 289.3,124.4 289.4,124.2 289.6,124.1 289.7,123.9 289.8,123.7 289.9,123.6 290.0,123.4 290.2,123.3 290.3,123.1 290.4,123.0 290.5,122.8 290.7,122.7 290.8,122.5 290.9,122.4 291.0,122.2 291.2,122.1 291.3,122.0 291.4,121.8 291.5,121.7 291.7,121.5 291.8,121.4 291.9,121.2 292.0,121.1 292.2,120.9 292.3,120.7 292.4,120.6 292.5,120.4 292.6,120.3 292.8,120.1 292.9,120.0 293.0,119.9 293.1,119.7 293.3,119.6 293.4,119.4 293.5,119.3 293.6,119.2 293.8,119.1 293.9,119.0 294.0,118.9 294.1,118.8 294.3,118.7 294.4,118.6 294.5,118.5 294.6,118.4 294.8,118.4 294.9,118.3 295.0,118.3 295.1,118.2 295.2,118.2 295.4,118.2 295.5,118.2 295.6,118.2 295.7,118.2 295.9,118.2 296.0,118.2 296.1,118.2 296.2,118.3 296.4,118.3 296.5,118.3 296.6,118.3 296.7,118.4 296.9,118.4 297.0,118.4 297.1,118.5 297.2,118.5 297.4,118.6 297.5,118.6 297.6,118.6 297.7,118.7 297.8,118.7 298.0,118.8 298.1,118.8 298.2,118.9 298.3,118.9 298.5,119.0 298.6,119.0 298.7,119.1 298.8,119.1 299.0,119.2 299.1,119.2 299.2,119.3 299.3,119.4 299.5,119.4 299.6,119.5 299.7,119.6 299.8,119.7 300.0,119.8 300.1,119.8 300.2,119.9 300.3,120.0 300.4,120.1 300.6,120.2 300.7,120.3 300.8,120.4 300.9,120.5 301.1,120.6 301.2,120.7 301.3,120.8 301.4,120.9 301.6,121.1 301.7,121.2 301.8,121.3 301.9,121.4 302.1,121.5 302.2,121.7 302.3,121.8 302.4,121.9 302.6,122.0 302.7,122.2 302.8,122.3 302.9,122.4 303.0,122.6 303.2,122.7 303.3,122.8 303.4,123.0 303.5,123.1 303.7,123.3 303.8,123.4 303.9,123.5 304.0,123.7 304.2,123.8 304.3,124.0 304.4,124.1 304.5,124.3 304.7,124.4 304.8,124.5 304.9,124.7 305.0,124.8 305.2,125.0 305.3,125.1 305.4,125.3 305.5,125.4 305.6,125.5 305.8,125.7 305.9,125.8 306.0,126.0 306.1,126.1 306.3,126.3 306.4,126.4 306.5,126.5 306.6,126.7 306.8,126.8 306.9,127.0 307.0,127.1 307.1,127.2 307.3,127.4 307.4,127.5 307.5,127.6 307.6,127.8 307.7,127.9 307.9,128.0 308.0,128.2 308.1,128.3 308.2,128.4 308.4,128.6 308.5,128.7 308.6,128.8 308.7,128.9 308.9,129.1 309.0,129.2 309.1,129.3 309.2,129.5 309.4,129.6 309.5,129.7 309.6,129.9 309.7,130.0 309.9,130.1 310.0,130.3 310.1,130.4 310.2,130.6 310.3,130.7 310.5,130.8 310.6,131.0 310.7,131.1 310.8,131.2 311.0,131.4 311.1,131.5 311.2,131.6 311.3,131.8 311.5,131.9 311.6,132.1 311.7,132.2 311.8,132.3 312.0,132.5 312.1,132.6 312.2,132.8 312.3,132.9 312.5,133.0 312.6,133.2 312.7,133.3 312.8,133.5 312.9,133.6 313.1,133.7 313.2,133.9 313.3,134.0 313.4,134.2 313.6,134.3 313.7,134.5 313.8,134.6 313.9,134.7 314.1,134.9 314.2,135.0 314.3,135.2 314.4,135.3 314.6,135.5 314.7,135.6 314.8,135.8 314.9,135.9 315.1,136.0 315.2,136.2 315.3,136.3 315.4,136.5 315.5,136.6 315.7,136.8 315.8,136.9 315.9,137.1 316.0,137.2 316.2,137.4 316.3,137.5 316.4,137.7 316.5,137.8 316.7,138.0 316.8,138.1 316.9,138.3 317.0,138.4 317.2,138.6 317.3,138.7 317.4,138.9 317.5,139.0 317.7,139.2 317.8,139.3 317.9,139.5 318.0,139.6 318.1,139.8 318.3,139.9 318.4,140.1 318.5,140.2 318.6,140.4 318.8,140.6 318.9,140.7 319.0,140.9 319.1,141.0 319.3,141.2 319.4,141.3 319.5,141.5 319.6,141.6 319.8,141.8 319.9,142.0 320.0,142.1 320.1,142.3 320.3,142.4 320.4,142.6 320.5,142.7 320.6,142.9 320.7,143.1" fill="none" stroke="#800080" stroke-width="1.7" stroke-linejoin="round"/>
<polyline points="296.1,202.9 296.1,129.6 296.1,129.1 296.2,128.7 296.2,128.3 296.3,127.9 296.4,127.5 296.4,127.0 296.5,126.6 296.5,126.2 296.6,125.8 296.7,125.4 296.7,125.0 296.8,124.6 296.8,124.2 296.9,123.8 297.0,123.4 297.0,123.0 297.1,122.6 297.2,122.2 297.2,121.8 297.3,121.5 297.3,121.1 297.4,120.7 297.5,120.3 297.5,120.0 297.6,119.6 297.6,119.2 297.7,118.9 297.8,118.5 297.8,118.2 297.9,117.8 298.0,117.5 298.0,117.2 298.1,116.8 298.1,116.5 298.2,116.2 298.3,115.9 298.3,115.5 298.4,115.2 298.4,114.9 298.5,114.6 298.6,114.4 298.6,114.1 298.7,113.8 298.8,113.5 298.8,113.2 298.9,113.0 298.9,112.7 299.0,112.5 299.1,112.2 299.1,112.0 299.2,111.8 299.2,111.5 299.3,111.3 299.4,111.0 299.4,110.8 299.5,110.6 299.5,110.3 299.6,110.1 299.7,109.8 299.7,109.6 299.8,109.4 299.9,109.1 299.9,108.9 300.0,108.7 300.0,108.4 300.1,108.2 300.2,107.9 300.2,107.7 300.3,107.5 300.3,107.2 300.4,107.0 300.5,106.8 300.5,106.5 300.6,106.3 300.7,106.1 300.7,105.9 300.8,105.6 300.8,105.4 300.9,105.2 301.0,105.0 301.0,104.8 301.1,104.5 301.1,104.3 301.2,104.1 301.3,103.9 301.3,103.7 301.4,103.5 301.4,103.3 301.5,103.1 301.6,102.9 301.6,102.7 301.7,102.5 301.8,102.4 301.8,102.2 301.9,102.0 301.9,101.8 302.0,101.7 302.1,101.5 302.1,101.4 302.2,101.2 302.2,101.1 302.3,100.9 302.4,100.8 302.4,100.6 302.5,100.5 302.6,100.4 302.6,100.3 302.7,100.1 302.7,100.0 302.8,99.9 302.9,99.8 302.9,99.7 303.0,99.6 303.0,99.6 303.1,99.5 303.2,99.4 303.2,99.3 303.3,99.3 303.3,99.2 303.4,99.2 303.5,99.1 303.5,99.1 303.6,99.1 303.7,99.1 303.7,99.1 303.8,99.1 303.8,99.1 303.9,99.1 304.0,99.1 304.0,99.1 304.1,99.1 304.1,99.1 304.2,99.2 304.3,99.2 304.3,99.2 304.4,99.3 304.5,99.3 304.5,99.4 304.6,99.4 304.6,99.5 304.7,99.5 304.8,99.6 304.8,99.7 304.9,99.7 304.9,99.8 305.0,99.9 305.1,100.0 305.1,100.1 305.2,100.1 305.3,100.2 305.3,100.3 305.4,100.4 305.4,100.5 305.5,100.6 305.6,100.7 305.6,100.8 305.7,100.9 305.7,101.0 305.8,101.1 305.9,101.2 305.9,101.3 306.0,101.4 306.0,101.5 306.1,101.6 306.2,101.7 306.2,101.9 306.3,102.0 306.4,102.1 306.4,102.2 306.5,102.3 306.5,102.4 306.6,102.5 306.7,102.6 306.7,102.7 306.8,102.9 306.8,103.0 306.9,103.1 307.0,103.2 307.0,103.3 307.1,103.4 307.2,103.5 307.2,103.6 307.3,103.7 307.3,103.8 307.4,103.9 307.5,104.0 307.5,104.1 307.6,104.2 307.6,104.3 307.7,104.4 307.8,104.5 307.8,104.6 307.9,104.7 307.9,104.8 308.0,104.9 308.1,105.0 308.1,105.1 308.2,105.2 308.3,105.3 308.3,105.3 308.4,105.4 308.4,105.5 308.5,105.6 308.6,105.7 308.6,105.8 308.7,105.9 308.7,106.0 308.8,106.1 308.9,106.2 308.9,106.3 309.0,106.4 309.1,106.5 309.1,106.6 309.2,106.7 309.2,106.8 309.3,106.9 309.4,107.0 309.4,107.1 309.5,107.3 309.5,107.4 309.6,107.5 309.7,107.6 309.7,107.7 309.8,107.8 309.8,107.9 309.9,108.0 310.0,108.1 310.0,108.2 310.1,108.3 310.2,108.4 310.2,108.5 310.3,108.6 310.3,108.7 310.4,108.8 310.5,108.9 310.5,109.0 310.6,109.1 310.6,109.3 310.7,109.4 310.8,109.5 310.8,109.6 310.9,109.7 311.0,109.8 311.0,109.9 311.1,110.0 311.1,110.1 311.2,110.2 311.3,110.3 311.3,110.4 311.4,110.6 311.4,110.7 311.5,110.8 311.6,110.9 311.6,111.0 311.7,111.1 311.8,111.2 311.8,111.3 311.9,111.4 311.9,111.5 312.0,111.6 312.1,111.8 312.1,111.9 312.2,112.0 312.2,112.1 312.3,112.2 312.4,112.3 312.4,112.4 312.5,112.5 312.5,112.6 312.6,112.7 312.7,112.9 312.7,113.0 312.8,113.1 312.9,113.2 312.9,113.3 313.0,113.4 313.0,113.5 313.1,113.6 313.2,113.7 313.2,113.8 313.3,113.9 313.3,114.1 313.4,114.2 313.5,114.3 313.5,114.4 313.6,114.5 313.7,114.6 313.7,114.7 313.8,114.8 313.8,114.9 313.9,115.0 314.0,115.1 314.0,115.3 314.1,115.4 314.1,115.5 314.2,115.6 314.3,115.7 314.3,115.8 314.4,115.9 314.4,116.0 314.5,116.1 314.6,116.2 314.6,116.3 314.7,116.4 314.8,116.5 314.8,116.6 314.9,116.7 314.9,116.9 315.0,117.0 315.1,117.1 315.1,117.2 315.2,117.3 315.2,117.4 315.3,117.5 315.4,117.6 315.4,117.7 315.5,117.8 315.6,117.9 315.6,118.0 315.7,118.1 315.7,118.2 315.8,118.3 315.9,118.5 315.9,118.6 316.0,118.7 316.0,118.8 316.1,118.9 316.2,119.0 316.2,119.1 316.3,119.2 316.3,119.3 316.4,119.4 316.5,119.5 316.5,119.6 316.6,119.7 316.7,119.8 316.7,120.0 316.8,120.1 316.8,120.2 316.9,120.3 317.0,120.4 317.0,120.5 317.1,120.6 317.1,120.7 317.2,120.8 317.3,120.9 317.3,121.0 317.4,121.1 317.5,121.2 317.5,121.3 317.6,121.5 317.6,121.6 317.7,121.7 317.8,121.8 317.8,121.9 317.9,122.0 317.9,122.1 318.0,122.2 318.1,122.3 318.1,122.4 318.2,122.5 318.3,122.6 318.3,122.7 318.4,122.8 318.4,123.0 318.5,123.1 318.6,123.2 318.6,123.3 318.7,123.4 318.7,123.5 318.8,123.6 318.9,123.7 318.9,123.8 319.0,123.9 319.0,124.0 319.1,124.1 319.2,124.3 319.2,124.4 319.3,124.5 319.4,124.6 319.4,124.7 319.5,124.8 319.5,124.9 319.6,125.0 319.7,125.1 319.7,125.2 319.8,125.3 319.8,125.4 319.9,125.5 320.0,125.7 320.0,125.8 320.1,125.9 320.2,126.0 320.2,126.1 320.3,126.2 320.3,126.3 320.4,126.4 320.5,126.5 320.5,126.6" fill="none" stroke="#008000" stroke-width="1.7" stroke-linejoin="round"/>
<polyline points="313.5,202.9 313.6,-1.9 313.7,38.2 313.9,46.0 314.0,51.2 314.2,55.0 314.4,57.6 314.5,59.6 314.7,61.5 314.9,63.7 315.0,66.5 315.2,69.5 315.4,72.5 315.5,75.3 315.7,77.6 315.8,79.4 316.0,80.5 316.2,81.5 316.3,82.4 316.5,83.2 316.7,83.9 316.8,84.6 317.0,85.1 317.2,85.7 317.3,86.2 317.5,86.7 317.6,87.2 317.8,87.6 318.0,88.1 318.1,88.7 318.3,89.2 318.5,89.8 318.6,90.5 318.8,91.2 318.9,91.9 319.1,92.7 319.3,93.4 319.4,94.1 319.6,94.9 319.8,95.6 319.9,96.4 320.1,97.1 320.3,97.7 320.4,98.4 320.6,99.0 320.7,99.5 320.9,100.0 321.1,100.5 321.2,101.0 321.4,101.4 321.6,101.9 321.7,102.3 321.9,102.8 322.1,103.2 322.2,103.6 322.4,104.0 322.5,104.4 322.7,104.7 322.9,105.1 323.0,105.5 323.2,105.8 323.4,106.2 323.5,106.5 323.7,106.9 323.9,107.2 324.0,107.5 324.2,107.8 324.3,108.1 324.5,108.4 324.7,108.7 324.8,108.9 325.0,109.2 325.2,109.5 325.3,109.7 325.5,110.0 325.7,110.2 325.8,110.4 326.0,110.7 326.1,110.9 326.3,111.1 326.5,111.4 326.6,111.6 326.8,111.8 327.0,112.0 327.1,112.2 327.3,112.4 327.5,112.6 327.6,112.8 327.8,113.0 327.9,113.2 328.1,113.4 328.3,113.6 328.4,113.8 328.6,114.0 328.8,114.1 328.9,114.3 329.1,114.5 329.2,114.7 329.4,114.8 329.6,115.0 329.7,115.2 329.9,115.3 330.1,115.5 330.2,115.7 330.4,115.8 330.6,116.0 330.7,116.1 330.9,116.3 331.0,116.5 331.2,116.6 331.4,116.8 331.5,116.9 331.7,117.1 331.9,117.2 332.0,117.4 332.2,117.5 332.4,117.7 332.5,117.8 332.7,118.0 332.8,118.1 333.0,118.3 333.2,118.4 333.3,118.5 333.5,118.7 333.7,118.8 333.8,119.0 334.0,119.1 334.2,119.3 334.3,119.4 334.5,119.6 334.6,119.7 334.8,119.9 335.0,120.0 335.1,120.2 335.3,120.3 335.5,120.5 335.6,120.6 335.8,120.8 336.0,120.9 336.1,121.1 336.3,121.2 336.4,121.4 336.6,121.5 336.8,121.7 336.9,121.8 337.1,122.0 337.3,122.1 337.4,122.3 337.6,122.4 337.8,122.6 337.9,122.7 338.1,122.9 338.2,123.0 338.4,123.2 338.6,123.3 338.7,123.5 338.9,123.6 339.1,123.7 339.2,123.9 339.4,124.0 339.5,124.2 339.7,124.3 339.9,124.4 340.0,124.6 340.2,124.7 340.4,124.9 340.5,125.0 340.7,125.1 340.9,125.3 341.0,125.4 341.2,125.6 341.3,125.7 341.5,125.8 341.7,126.0 341.8,126.1 342.0,126.2 342.2,126.4 342.3,126.5 342.5,126.7 342.7,126.8 342.8,126.9 343.0,127.1 343.1,127.2 343.3,127.3 343.5,127.5 343.6,127.6 343.8,127.7 344.0,127.9 344.1,128.0 344.3,128.1 344.5,128.3 344.6,128.4 344.8,128.5 344.9,128.7 345.1,128.8 345.3,128.9 345.4,129.1 345.6,129.2 345.8,129.3 345.9,129.5 346.1,129.6 346.3,129.7 346.4,129.9 346.6,130.0 346.7,130.1 346.9,130.3 347.1,130.4 347.2,130.5 347.4,130.7 347.6,130.8 347.7,130.9 347.9,131.1 348.0,131.2 348.2,131.3 348.4,131.5 348.5,131.6 348.7,131.7 348.9,131.9 349.0,132.0 349.2,132.1 349.4,132.3 349.5,132.4 349.7,132.5 349.8,132.7 350.0,132.8 350.2,132.9 350.3,133.0 350.5,133.2 350.7,133.3 350.8,133.4 351.0,133.6 351.2,133.7 351.3,133.8 351.5,133.9 351.6,134.1 351.8,134.2 352.0,134.3 352.1,134.5 352.3,134.6 352.5,134.7 352.6,134.8 352.8,135.0 353.0,135.1 353.1,135.2 353.3,135.3 353.4,135.5 353.6,135.6 353.8,135.7 353.9,135.9 354.1,136.0 354.3,136.1 354.4,136.2 354.6,136.4 354.8,136.5 354.9,136.6 355.1,136.7 355.2,136.9 355.4,137.0 355.6,137.1 355.7,137.2 355.9,137.4 356.1,137.5 356.2,137.6 356.4,137.7 356.6,137.9 356.7,138.0 356.9,138.1 357.0,138.2 357.2,138.3 357.4,138.5 357.5,138.6 357.7,138.7 357.9,138.8 358.0,139.0 358.2,139.1 358.3,139.2 358.5,139.3 358.7,139.4 358.8,139.6 359.0,139.7 359.2,139.8 359.3,139.9 359.5,140.1 359.7,140.2 359.8,140.3 360.0,140.4 360.1,140.5 360.3,140.7 360.5,140.8 360.6,140.9 360.8,141.0 361.0,141.1 361.1,141.3 361.3,141.4 361.5,141.5 361.6,141.6 361.8,141.7 361.9,141.9 362.1,142.0 362.3,142.1 362.4,142.2 362.6,142.3 362.8,142.5 362.9,142.6 363.1,142.7 363.3,142.8 363.4,142.9 363.6,143.1 363.7,143.2 363.9,143.3 364.1,143.4 364.2,143.5 364.4,143.7 364.6,143.8 364.7,143.9 364.9,144.0 365.1,144.1 365.2,144.3 365.4,144.4 365.5,144.5 365.7,144.6 365.9,144.7 366.0,144.8 366.2,145.0 366.4,145.1 366.5,145.2 366.7,145.3 366.9,145.4 367.0,145.6 367.2,145.7 367.3,145.8 367.5,145.9 367.7,146.0 367.8,146.1 368.0,146.3 368.2,146.4 368.3,146.5 368.5,146.6 368.6,146.7 368.8,146.8 369.0,146.9 369.1,147.1 369.3,147.2 369.5,147.3 369.6,147.4 369.8,147.5 370.0,147.6 370.1,147.8 370.3,147.9 370.4,148.0 370.6,148.1 370.8,148.2 370.9,148.3 371.1,148.4 371.3,148.6 371.4,148.7 371.6,148.8 371.8,148.9 371.9,149.0 372.1,149.1 372.2,149.2 372.4,149.4 372.6,149.5 372.7,149.6 372.9,149.7 373.1,149.8 373.2,149.9 373.4,150.0 373.6,150.1 373.7,150.3 373.9,150.4 374.0,150.5 374.2,150.6 374.4,150.7 374.5,150.8 374.7,150.9 374.9,151.0 375.0,151.2 375.2,151.3 375.4,151.4 375.5,151.5 375.7,151.6 375.8,151.7 376.0,151.8 376.2,151.9 376.3,152.0 376.5,152.1 376.7,152.3 376.8,152.4 377.0,152.5 377.2,152.6 377.3,152.7 377.5,152.8 377.6,152.9 377.8,153.0 378.0,153.1 378.1,153.2 378.3,153.4 378.5,153.5 378.6,153.6 378.8,153.7" fill="none" stroke="#00ffff" stroke-width="1.7" stroke-linejoin="round"/>
<polyline points="326.3,202.9 326.3,-1.9 326.5,36.5 326.6,46.4 326.7,51.9 326.9,55.5 327.0,58.2 327.1,61.2 327.3,64.2 327.4,66.9 327.6,69.3 327.7,71.3 327.8,72.8 328.0,74.1 328.1,75.4 328.2,76.5 328.4,77.5 328.5,78.5 328.6,79.4 328.8,80.3 328.9,81.1 329.0,81.8 329.2,82.5 329.3,83.2 329.4,83.9 329.6,84.5 329.7,85.1 329.8,85.7 330.0,86.2 330.1,86.8 330.2,87.4 330.4,87.9 330.5,88.4 330.6,89.0 330.8,89.5 330.9,89.9 331.0,90.4 331.2,90.9 331.3,91.3 331.4,91.7 331.6,92.1 331.7,92.5 331.8,92.9 332.0,93.3 332.1,93.6 332.2,94.0 332.4,94.3 332.5,94.6 332.6,94.8 332.8,95.1 332.9,95.4 333.0,95.6 333.2,95.8 333.3,96.0 333.4,96.2 333.6,96.4 333.7,96.6 333.8,96.8 334.0,97.0 334.1,97.1 334.3,97.3 334.4,97.5 334.5,97.6 334.7,97.8 334.8,97.9 334.9,98.1 335.1,98.3 335.2,98.4 335.3,98.6 335.5,98.8 335.6,98.9 335.7,99.1 335.9,99.3 336.0,99.5 336.1,99.7 336.3,99.9 336.4,100.1 336.5,100.3 336.7,100.5 336.8,100.7 336.9,101.0 337.1,101.2 337.2,101.4 337.3,101.6 337.5,101.9 337.6,102.1 337.7,102.3 337.9,102.6 338.0,102.8 338.1,103.0 338.3,103.3 338.4,103.5 338.5,103.7 338.7,103.9 338.8,104.1 338.9,104.4 339.1,104.6 339.2,104.8 339.3,105.0 339.5,105.1 339.6,105.3 339.7,105.5 339.9,105.7 340.0,105.9 340.1,106.1 340.3,106.2 340.4,106.4 340.5,106.6 340.7,106.8 340.8,106.9 341.0,107.1 341.1,107.3 341.2,107.4 341.4,107.6 341.5,107.8 341.6,107.9 341.8,108.1 341.9,108.2 342.0,108.4 342.2,108.6 342.3,108.7 342.4,108.9 342.6,109.0 342.7,109.2 342.8,109.3 343.0,109.5 343.1,109.6 343.2,109.8 343.4,109.9 343.5,110.1 343.6,110.2 343.8,110.4 343.9,110.5 344.0,110.7 344.2,110.8 344.3,111.0 344.4,111.1 344.6,111.2 344.7,111.4 344.8,111.5 345.0,111.7 345.1,111.8 345.2,112.0 345.4,112.1 345.5,112.2 345.6,112.4 345.8,112.5 345.9,112.7 346.0,112.8 346.2,112.9 346.3,113.1 346.4,113.2 346.6,113.4 346.7,113.5 346.8,113.6 347.0,113.8 347.1,113.9 347.2,114.1 347.4,114.2 347.5,114.3 347.7,114.5 347.8,114.6 347.9,114.8 348.1,114.9 348.2,115.0 348.3,115.2 348.5,115.3 348.6,115.4 348.7,115.6 348.9,115.7 349.0,115.9 349.1,116.0 349.3,116.1 349.4,116.3 349.5,116.4 349.7,116.5 349.8,116.7 349.9,116.8 350.1,117.0 350.2,117.1 350.3,117.2 350.5,117.4 350.6,117.5 350.7,117.6 350.9,117.8 351.0,117.9 351.1,118.0 351.3,118.1 351.4,118.3 351.5,118.4 351.7,118.5 351.8,118.7 351.9,118.8 352.1,118.9 352.2,119.1 352.3,119.2 352.5,119.3 352.6,119.4 352.7,119.6 352.9,119.7 353.0,119.8 353.1,119.9 353.3,120.1 353.4,120.2 353.5,120.3 353.7,120.4 353.8,120.6 353.9,120.7 354.1,120.8 354.2,120.9 354.4,121.1 354.5,121.2 354.6,121.3 354.8,121.4 354.9,121.5 355.0,121.7 355.2,121.8 355.3,121.9 355.4,122.0 355.6,122.1 355.7,122.2 355.8,122.4 356.0,122.5 356.1,122.6 356.2,122.7 356.4,122.8 356.5,122.9 356.6,123.0 356.8,123.1 356.9,123.2 357.0,123.3 357.2,123.5 357.3,123.6 357.4,123.7 357.6,123.8 357.7,123.9 357.8,124.0 358.0,124.1 358.1,124.2 358.2,124.3 358.4,124.4 358.5,124.5 358.6,124.6 358.8,124.7 358.9,124.8 359.0,124.9 359.2,125.0 359.3,125.1 359.4,125.2 359.6,125.3 359.7,125.4 359.8,125.5 360.0,125.6 360.1,125.7 360.2,125.8 360.4,125.9 360.5,126.0 360.6,126.1 360.8,126.2 360.9,126.3 361.1,126.4 361.2,126.5 361.3,126.6 361.5,126.6 361.6,126.7 361.7,126.8 361.9,126.9 362.0,127.0 362.1,127.1 362.3,127.2 362.4,127.3 362.5,127.4 362.7,127.5 362.8,127.6 362.9,127.7 363.1,127.8 363.2,127.9 363.3,128.0 363.5,128.1 363.6,128.2 363.7,128.3 363.9,128.4 364.0,128.5 364.1,128.6 364.3,128.7 364.4,128.8 364.5,129.0 364.7,129.1 364.8,129.2 364.9,129.3 365.1,129.4 365.2,129.5 365.3,129.6 365.5,129.7 365.6,129.8 365.7,129.9 365.9,130.0 366.0,130.1 366.1,130.2 366.3,130.3 366.4,130.4 366.5,130.6 366.7,130.7 366.8,130.8 366.9,130.9 367.1,131.0 367.2,131.1 367.3,131.2 367.5,131.3 367.6,131.4 367.7,131.5 367.9,131.6 368.0,131.7 368.2,131.8 368.3,132.0 368.4,132.1 368.6,132.2 368.7,132.3 368.8,132.4 369.0,132.5 369.1,132.6 369.2,132.7 369.4,132.8 369.5,132.9 369.6,133.0 369.8,133.2 369.9,133.3 370.0,133.4 370.2,133.5 370.3,133.6 370.4,133.7 370.6,133.8 370.7,133.9 370.8,134.0 371.0,134.1 371.1,134.3 371.2,134.4 371.4,134.5 371.5,134.6 371.6,134.7 371.8,134.8 371.9,134.9 372.0,135.0 372.2,135.1 372.3,135.3 372.4,135.4 372.6,135.5 372.7,135.6 372.8,135.7 373.0,135.8 373.1,135.9 373.2,136.0 373.4,136.2 373.5,136.3 373.6,136.4 373.8,136.5 373.9,136.6 374.0,136.7 374.2,136.8 374.3,137.0 374.4,137.1 374.6,137.2 374.7,137.3 374.9,137.4 375.0,137.5 375.1,137.6 375.3,137.7 375.4,137.9 375.5,138.0 375.7,138.1 375.8,138.2 375.9,138.3 376.1,138.4 376.2,138.6 376.3,138.7 376.5,138.8 376.6,138.9 376.7,139.0 376.9,139.1 377.0,139.2 377.1,139.4 377.3,139.5 377.4,139.6 377.5,139.7 377.7,139.8 377.8,139.9 377.9,140.1 378.1,140.2 378.2,140.3 378.3,140.4 378.5,140.5 378.6,140.6 378.7,140.8 378.9,140.9 379.0,141.0 379.1,141.1 379.3,141.2 379.4,141.4 379.5,141.5 379.7,141.6 379.8,141.7" fill="none" stroke="#ff1493" stroke-width="1.7" stroke-linejoin="round"/>
<polyline points="338.7,202.9 338.8,-1.9 338.9,27.9 339.0,39.9 339.2,47.1 339.3,51.9 339.5,55.2 339.6,57.7 339.8,59.8 339.9,61.6 340.0,63.1 340.2,64.4 340.3,65.6 340.5,66.6 340.6,67.7 340.8,68.7 340.9,69.6 341.1,70.6 341.2,71.4 341.3,72.3 341.5,73.1 341.6,73.9 341.8,74.6 341.9,75.3 342.1,76.0 342.2,76.7 342.3,77.3 342.5,77.9 342.6,78.5 342.8,79.1 342.9,79.7 343.1,80.2 343.2,80.8 343.4,81.3 343.5,81.8 343.6,82.2 343.8,82.7 343.9,83.1 344.1,83.6 344.2,84.0 344.4,84.5 344.5,84.9 344.6,85.4 344.8,85.9 344.9,86.3 345.1,86.8 345.2,87.2 345.4,87.6 345.5,88.0 345.7,88.4 345.8,88.8 345.9,89.2 346.1,89.6 346.2,89.9 346.4,90.3 346.5,90.7 346.7,91.0 346.8,91.4 346.9,91.7 347.1,92.1 347.2,92.4 347.4,92.8 347.5,93.1 347.7,93.4 347.8,93.8 347.9,94.1 348.1,94.4 348.2,94.7 348.4,95.0 348.5,95.4 348.7,95.7 348.8,96.0 349.0,96.3 349.1,96.6 349.2,96.9 349.4,97.2 349.5,97.4 349.7,97.7 349.8,98.0 350.0,98.3 350.1,98.6 350.2,98.8 350.4,99.1 350.5,99.3 350.7,99.6 350.8,99.9 351.0,100.1 351.1,100.4 351.3,100.6 351.4,100.8 351.5,101.1 351.7,101.3 351.8,101.6 352.0,101.8 352.1,102.0 352.3,102.2 352.4,102.5 352.5,102.7 352.7,102.9 352.8,103.1 353.0,103.4 353.1,103.6 353.3,103.8 353.4,104.0 353.6,104.2 353.7,104.4 353.8,104.6 354.0,104.8 354.1,105.0 354.3,105.2 354.4,105.4 354.6,105.6 354.7,105.8 354.8,106.0 355.0,106.2 355.1,106.4 355.3,106.6 355.4,106.8 355.6,107.0 355.7,107.2 355.9,107.4 356.0,107.5 356.1,107.7 356.3,107.9 356.4,108.1 356.6,108.3 356.7,108.4 356.9,108.6 357.0,108.8 357.1,108.9 357.3,109.1 357.4,109.3 357.6,109.4 357.7,109.6 357.9,109.8 358.0,109.9 358.2,110.1 358.3,110.2 358.4,110.4 358.6,110.6 358.7,110.7 358.9,110.9 359.0,111.0 359.2,111.2 359.3,111.3 359.4,111.4 359.6,111.6 359.7,111.7 359.9,111.9 360.0,112.0 360.2,112.1 360.3,112.3 360.5,112.4 360.6,112.5 360.7,112.7 360.9,112.8 361.0,112.9 361.2,113.0 361.3,113.2 361.5,113.3 361.6,113.4 361.7,113.5 361.9,113.7 362.0,113.8 362.2,113.9 362.3,114.1 362.5,114.2 362.6,114.3 362.8,114.4 362.9,114.6 363.0,114.7 363.2,114.8 363.3,114.9 363.5,115.1 363.6,115.2 363.8,115.3 363.9,115.5 364.0,115.6 364.2,115.7 364.3,115.9 364.5,116.0 364.6,116.1 364.8,116.3 364.9,116.4 365.1,116.5 365.2,116.7 365.3,116.8 365.5,117.0 365.6,117.1 365.8,117.2 365.9,117.4 366.1,117.5 366.2,117.6 366.3,117.8 366.5,117.9 366.6,118.1 366.8,118.2 366.9,118.3 367.1,118.5 367.2,118.6 367.4,118.8 367.5,118.9 367.6,119.0 367.8,119.2 367.9,119.3 368.1,119.5 368.2,119.6 368.4,119.7 368.5,119.9 368.6,120.0 368.8,120.2 368.9,120.3 369.1,120.4 369.2,120.6 369.4,120.7 369.5,120.8 369.7,121.0 369.8,121.1 369.9,121.2 370.1,121.4 370.2,121.5 370.4,121.6 370.5,121.8 370.7,121.9 370.8,122.0 370.9,122.2 371.1,122.3 371.2,122.4 371.4,122.6 371.5,122.7 371.7,122.8 371.8,122.9 372.0,123.1 372.1,123.2 372.2,123.3 372.4,123.5 372.5,123.6 372.7,123.7 372.8,123.8 373.0,124.0 373.1,124.1 373.2,124.2 373.4,124.4 373.5,124.5 373.7,124.6 373.8,124.7 374.0,124.9 374.1,125.0 374.3,125.1 374.4,125.2 374.5,125.3 374.7,125.5 374.8,125.6 375.0,125.7 375.1,125.8 375.3,125.9 375.4,126.1 375.5,126.2 375.7,126.3 375.8,126.4 376.0,126.5 376.1,126.7 376.3,126.8 376.4,126.9 376.6,127.0 376.7,127.1 376.8,127.3 377.0,127.4 377.1,127.5 377.3,127.6 377.4,127.7 377.6,127.9 377.7,128.0 377.8,128.1 378.0,128.2 378.1,128.3 378.3,128.4 378.4,128.6 378.6,128.7 378.7,128.8 378.9,128.9 379.0,129.0 379.1,129.1 379.3,129.3 379.4,129.4 379.6,129.5 379.7,129.6 379.9,129.7 380.0,129.8 380.1,130.0 380.3,130.1 380.4,130.2 380.6,130.3 380.7,130.4 380.9,130.5 381.0,130.7 381.2,130.8 381.3,130.9 381.4,131.0 381.6,131.1 381.7,131.2 381.9,131.4 382.0,131.5 382.2,131.6 382.3,131.7 382.4,131.8 382.6,131.9 382.7,132.0 382.9,132.2 383.0,132.3 383.2,132.4 383.3,132.5 383.5,132.6 383.6,132.7 383.7,132.8 383.9,132.9 384.0,133.1 384.2,133.2 384.3,133.3 384.5,133.4 384.6,133.5 384.7,133.6 384.9,133.7 385.0,133.8 385.2,134.0 385.3,134.1 385.5,134.2 385.6,134.3 385.8,134.4 385.9,134.5 386.0,134.6 386.2,134.7 386.3,134.8 386.5,135.0 386.6,135.1 386.8,135.2 386.9,135.3 387.0,135.4 387.2,135.5 387.3,135.6 387.5,135.7 387.6,135.8 387.8,135.9 387.9,136.0 388.1,136.2 388.2,136.3 388.3,136.4 388.5,136.5 388.6,136.6 388.8,136.7 388.9,136.8 389.1,136.9 389.2,137.0 389.3,137.1 389.5,137.2 389.6,137.3 389.8,137.4 389.9,137.5 390.1,137.6 390.2,137.8 390.4,137.9 390.5,138.0 390.6,138.1 390.8,138.2 390.9,138.3 391.1,138.4 391.2,138.5 391.4,138.6 391.5,138.7 391.6,138.8 391.8,138.9 391.9,139.0 392.1,139.1 392.2,139.2 392.4,139.3 392.5,139.4 392.7,139.5 392.8,139.6 392.9,139.7 393.1,139.8 393.2,139.9 393.4,140.0 393.5,140.1 393.7,140.2 393.8,140.3 393.9,140.4 394.1,140.5 394.2,140.6 394.4,140.7 394.5,140.8 394.7,140.9 394.8,141.0 395.0,141.1 395.1,141.2 395.2,141.3 395.4,141.4 395.5,141.5 395.7,141.6 395.8,141.7 396.0,141.8 396.1,141.9" fill="none" stroke="#d2b48c" stroke-width="1.7" stroke-linejoin="round"/>
</g>
<g stroke="#000" stroke-width="1.3" fill="none">
<line x1="114.56" y1="214.68" x2="114.56" y2="207.68"/>
<line x1="114.56" y1="3.07" x2="114.56" y2="10.07"/>
<line x1="228.23" y1="214.68" x2="228.23" y2="207.68"/>
<line x1="228.23" y1="3.07" x2="228.23" y2="10.07"/>
<line x1="341.90" y1="214.68" x2="341.90" y2="207.68"/>
<line x1="341.90" y1="3.07" x2="341.90" y2="10.07"/>
<line x1="171.40" y1="214.68" x2="171.40" y2="211.18" stroke-width="1"/>
<line x1="171.40" y1="3.07" x2="171.40" y2="6.57" stroke-width="1"/>
<line x1="285.06" y1="214.68" x2="285.06" y2="211.18" stroke-width="1"/>
<line x1="285.06" y1="3.07" x2="285.06" y2="6.57" stroke-width="1"/>
<line x1="91.83" y1="202.92" x2="98.83" y2="202.92"/>
<line x1="398.74" y1="202.92" x2="391.74" y2="202.92"/>
<line x1="91.83" y1="173.53" x2="98.83" y2="173.53"/>
<line x1="398.74" y1="173.53" x2="391.74" y2="173.53"/>
<line x1="91.83" y1="144.14" x2="98.83" y2="144.14"/>
<line x1="398.74" y1="144.14" x2="391.74" y2="144.14"/>
<line x1="91.83" y1="114.75" x2="98.83" y2="114.75"/>
<line x1="398.74" y1="114.75" x2="391.74" y2="114.75"/>
<line x1="91.83" y1="85.36" x2="98.83" y2="85.36"/>
<line x1="398.74" y1="85.36" x2="391.74" y2="85.36"/>
<line x1="91.83" y1="55.97" x2="98.83" y2="55.97"/>
<line x1="398.74" y1="55.97" x2="391.74" y2="55.97"/>
<line x1="91.83" y1="26.58" x2="98.83" y2="26.58"/>
<line x1="398.74" y1="26.58" x2="391.74" y2="26.58"/>
<rect x="91.83" y="3.07" width="306.91" height="211.61"/>
</g>
<g font-size="16">
<text transform="translate(114.66,229.8) scale(0.88,1)" text-anchor="middle">0</text>
<text transform="translate(228.33,229.8) scale(0.88,1)" text-anchor="middle">1</text>
<text transform="translate(342.00,229.8) scale(0.88,1)" text-anchor="middle">2</text>
<text transform="translate(89.4,208.92) scale(0.9,1)" text-anchor="end">0</text>
<text x="89.4" y="179.53" text-anchor="end" textLength="19" lengthAdjust="spacingAndGlyphs">0.5</text>
<text transform="translate(89.4,150.14) scale(0.9,1)" text-anchor="end">1</text>
<text x="89.4" y="120.75" text-anchor="end" textLength="19" lengthAdjust="spacingAndGlyphs">1.5</text>
<text transform="translate(89.4,91.36) scale(0.9,1)" text-anchor="end">2</text>
<text x="89.4" y="61.97" text-anchor="end" textLength="19" lengthAdjust="spacingAndGlyphs">2.5</text>
<text transform="translate(89.4,32.58) scale(0.9,1)" text-anchor="end">3</text>
</g>
<text class="al" x="245.0" y="246.9" font-size="15.8" text-anchor="middle" textLength="58.3" lengthAdjust="spacingAndGlyphs">time<tspan font-size="18.5" dy="1">(</tspan><tspan font-style="italic" dy="-1">μ</tspan>s<tspan font-size="18.5" dy="1">)</tspan></text>
<g class="al" transform="translate(61.1,0) rotate(-90)" font-size="15.8">
<text x="-166.9" y="0" textLength="51.3" lengthAdjust="spacingAndGlyphs">velocity</text>
<text x="-113.0" y="1" font-size="18.5" textLength="6.0" lengthAdjust="spacingAndGlyphs">(</text>
<text x="-108.4" y="0" textLength="25.3" lengthAdjust="spacingAndGlyphs">mm</text>
<text x="-83.2" y="0" textLength="8.6" lengthAdjust="spacingAndGlyphs">/</text>
<text x="-74.8" y="0" font-style="italic" textLength="9.9" lengthAdjust="spacingAndGlyphs">μ</text>
<text x="-64.8" y="0" textLength="5.8" lengthAdjust="spacingAndGlyphs">s</text>
<text x="-58.6" y="1" font-size="18.5" textLength="5.6" lengthAdjust="spacingAndGlyphs">)</text>
</g>
<line x1="143.2" y1="68.5" x2="162.8" y2="68.5" stroke="#000" stroke-width="1.9"/>
<line x1="144.2" y1="87.9" x2="160.7" y2="87.9" stroke="#000" stroke-width="1.3" stroke-dasharray="4.3,1.8"/>
<text x="168.5" y="72.25" font-size="13" textLength="60" lengthAdjust="spacingAndGlyphs">simulation</text>
<text x="168.5" y="92.25" font-size="13" textLength="63.5" lengthAdjust="spacingAndGlyphs">experiment</text>
</svg>
</body></html>
